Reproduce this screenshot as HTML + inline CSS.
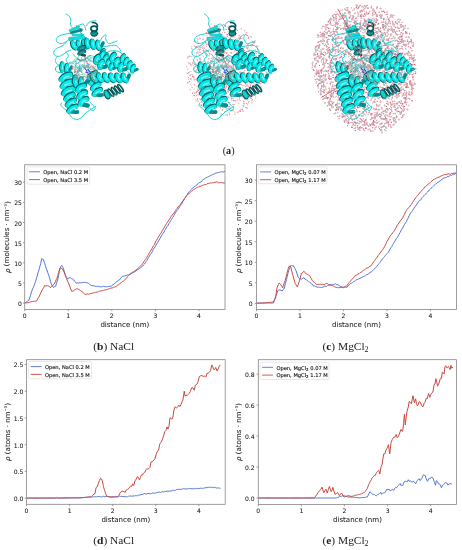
<!DOCTYPE html>
<html><head><meta charset="utf-8"><title>Figure</title><style>
html,body{margin:0;padding:0;background:#fff;width:462px;height:550px;overflow:hidden}
svg{display:block;filter:blur(0.35px)}
.tk{font-family:"DejaVu Sans","Liberation Sans",sans-serif;font-size:6.1px;fill:#111;stroke:#111;stroke-width:0.04px}
.lab{font-family:"DejaVu Sans","Liberation Sans",sans-serif;font-size:7.05px;fill:#1a1a1a;stroke:#1a1a1a;stroke-width:0.05px}
.lg{font-family:"DejaVu Sans","Liberation Sans",sans-serif;font-size:5.15px;fill:#1a1a1a;stroke:#1a1a1a;stroke-width:0.15px}
.cap{font-family:"Liberation Serif","DejaVu Serif",serif;font-size:11.4px;fill:#1c1c1c}
</style></head>
<body><svg width="462" height="550" viewBox="0 0 462 550">
<rect width="462" height="550" fill="#fff"/>
<defs><g id="prot"><path d="M66.10,14.10 C66.50,14.33 67.82,14.85 68.50,15.50 C69.18,16.15 69.80,17.13 70.20,18.00 C70.60,18.87 70.87,19.60 70.90,20.70 C70.93,21.80 70.15,23.38 70.40,24.60 C70.65,25.82 72.07,27.43 72.40,28.00" fill="none" stroke="#18d4d4" stroke-width="1.00" stroke-linecap="round" stroke-linejoin="round"/>
<path d="M78.20,25.60 C78.67,25.38 80.18,24.55 81.00,24.30 C81.82,24.05 82.43,23.72 83.10,24.10 C83.77,24.48 84.55,25.62 85.00,26.60 C85.45,27.58 85.67,29.43 85.80,30.00" fill="none" stroke="#18d4d4" stroke-width="1.00" stroke-linecap="round" stroke-linejoin="round"/>
<path d="M86.50,26.00 C86.88,25.40 87.75,23.23 88.80,22.40 C89.85,21.57 91.60,21.27 92.80,21.00 C94.00,20.73 95.47,20.83 96.00,20.80" fill="none" stroke="#18d4d4" stroke-width="1.00" stroke-linecap="round" stroke-linejoin="round"/>
<path d="M99.50,42.50 C99.88,41.75 100.97,39.22 101.80,38.00 C102.63,36.78 103.77,35.70 104.50,35.20 C105.23,34.70 106.03,34.45 106.20,35.00 C106.37,35.55 105.37,37.42 105.50,38.50 C105.63,39.58 106.42,40.63 107.00,41.50 C107.58,42.37 108.00,43.53 109.00,43.70 C110.00,43.87 111.63,42.95 113.00,42.50 C114.37,42.05 116.50,41.25 117.20,41.00" fill="none" stroke="#18d4d4" stroke-width="1.00" stroke-linecap="round" stroke-linejoin="round"/>
<path d="M102.00,47.00 C103.00,46.83 105.85,46.28 108.00,46.00 C110.15,45.72 113.15,45.05 114.90,45.30 C116.65,45.55 117.48,46.55 118.50,47.50 C119.52,48.45 120.58,50.42 121.00,51.00" fill="none" stroke="#18d4d4" stroke-width="1.00" stroke-linecap="round" stroke-linejoin="round"/>
<path d="M106.00,53.00 C106.67,52.67 108.50,51.37 110.00,51.00 C111.50,50.63 113.33,50.63 115.00,50.80 C116.67,50.97 118.67,51.30 120.00,52.00 C121.33,52.70 122.50,54.50 123.00,55.00" fill="none" stroke="#18d4d4" stroke-width="1.00" stroke-linecap="round" stroke-linejoin="round"/>
<path d="M71.00,33.00 C70.17,33.17 67.83,33.58 66.00,34.00 C64.17,34.42 61.58,34.75 60.00,35.50 C58.42,36.25 57.00,37.42 56.50,38.50 C56.00,39.58 56.25,41.17 57.00,42.00 C57.75,42.83 59.50,43.50 61.00,43.50 C62.50,43.50 64.67,42.67 66.00,42.00 C67.33,41.33 68.50,39.92 69.00,39.50" fill="none" stroke="#18d4d4" stroke-width="1.00" stroke-linecap="round" stroke-linejoin="round"/>
<path d="M67.00,41.00 C66.33,41.75 64.58,44.33 63.00,45.50 C61.42,46.67 59.00,47.08 57.50,48.00 C56.00,48.92 54.50,49.83 54.00,51.00 C53.50,52.17 53.75,54.08 54.50,55.00 C55.25,55.92 57.08,56.58 58.50,56.50 C59.92,56.42 61.58,55.33 63.00,54.50 C64.42,53.67 65.67,52.25 67.00,51.50 C68.33,50.75 70.33,50.25 71.00,50.00" fill="none" stroke="#18d4d4" stroke-width="1.00" stroke-linecap="round" stroke-linejoin="round"/>
<path d="M58.00,56.00 C57.58,56.58 55.75,58.25 55.50,59.50 C55.25,60.75 55.75,62.50 56.50,63.50 C57.25,64.50 59.42,65.17 60.00,65.50" fill="none" stroke="#18d4d4" stroke-width="1.00" stroke-linecap="round" stroke-linejoin="round"/>
<path d="M60.00,65.50 C59.33,65.75 56.67,66.08 56.00,67.00 C55.33,67.92 55.33,70.08 56.00,71.00 C56.67,71.92 58.67,72.58 60.00,72.50 C61.33,72.42 63.00,71.50 64.00,70.50 C65.00,69.50 66.17,67.67 66.00,66.50 C65.83,65.33 63.50,64.00 63.00,63.50" fill="none" stroke="#18d4d4" stroke-width="1.00" stroke-linecap="round" stroke-linejoin="round"/>
<path d="M66.00,52.00 C66.42,52.67 68.50,54.75 68.50,56.00 C68.50,57.25 66.08,58.33 66.00,59.50 C65.92,60.67 67.00,62.50 68.00,63.00 C69.00,63.50 70.83,63.17 72.00,62.50 C73.17,61.83 74.50,59.58 75.00,59.00" fill="none" stroke="#18d4d4" stroke-width="1.00" stroke-linecap="round" stroke-linejoin="round"/>
<path d="M73.00,54.00 C73.67,54.75 75.50,57.42 77.00,58.50 C78.50,59.58 80.50,60.58 82.00,60.50 C83.50,60.42 84.67,58.83 86.00,58.00 C87.33,57.17 88.50,55.75 90.00,55.50 C91.50,55.25 93.50,56.92 95.00,56.50 C96.50,56.08 98.33,53.58 99.00,53.00" fill="none" stroke="#18d4d4" stroke-width="1.00" stroke-linecap="round" stroke-linejoin="round"/>
<path d="M61.50,103.00 C61.38,103.42 60.47,104.67 60.80,105.50 C61.13,106.33 62.47,107.08 63.50,108.00 C64.53,108.92 65.65,109.47 67.00,111.00 C68.35,112.53 70.27,115.83 71.60,117.20 C72.93,118.57 73.92,118.83 75.00,119.20 C76.08,119.57 76.93,119.77 78.10,119.40 C79.27,119.03 80.73,118.08 82.00,117.00 C83.27,115.92 84.37,114.07 85.70,112.90 C87.03,111.73 88.37,111.08 90.00,110.00 C91.63,108.92 94.58,107.00 95.50,106.40" fill="none" stroke="#18d4d4" stroke-width="1.00" stroke-linecap="round" stroke-linejoin="round"/>
<path d="M90.00,102.00 C90.42,102.50 91.60,104.00 92.50,105.00 C93.40,106.00 95.32,107.05 95.40,108.00 C95.48,108.95 93.90,110.62 93.00,110.70 C92.10,110.78 90.50,108.87 90.00,108.50" fill="none" stroke="#18d4d4" stroke-width="1.00" stroke-linecap="round" stroke-linejoin="round"/>
<path d="M84.00,104.00 C84.33,104.50 85.17,106.33 86.00,107.00 C86.83,107.67 88.50,107.83 89.00,108.00" fill="none" stroke="#18d4d4" stroke-width="1.00" stroke-linecap="round" stroke-linejoin="round"/>
<path d="M128.00,72.00 C128.50,72.33 130.00,73.83 131.00,74.00 C132.00,74.17 133.50,73.17 134.00,73.00" fill="none" stroke="#18d4d4" stroke-width="1.00" stroke-linecap="round" stroke-linejoin="round"/>
<g transform="translate(70.50,32.80) rotate(-14.4)"><polygon points="0,-1.20 9.90,-1.20 9.90,-2.40 12.90,0 9.90,2.40 9.90,1.20 0,1.20" fill="#008c8c" stroke="#066c6c" stroke-width="0.4"/></g>
<g transform="translate(69.50,30.90) rotate(-23.6)"><polygon points="0,-1.10 8.24,-1.10 8.24,-2.20 11.24,0 8.24,2.20 8.24,1.10 0,1.10" fill="#00e8e8" stroke="#008c8c" stroke-width="0.4"/></g>
<g transform="translate(68.80,39.00) rotate(-6.2)"><polygon points="0,-1.50 13.80,-1.50 13.80,-3.00 16.80,0 13.80,3.00 13.80,1.50 0,1.50" fill="#00e8e8" stroke="#008c8c" stroke-width="0.4"/></g>
<g transform="translate(72.00,35.00) rotate(-1.9)"><polygon points="0,-0.80 9.01,-0.80 9.01,-1.60 12.01,0 9.01,1.60 9.01,0.80 0,0.80" fill="#00e8e8" stroke="#008c8c" stroke-width="0.4"/></g>
<g transform="translate(72.50,45.50) rotate(-5.2)" fill="none" stroke-linecap="round"><path d="M2.76,2.88 Q4.97,0.36 5.52,-2.88 M8.28,2.88 Q10.49,0.36 11.05,-2.88 M13.81,2.88 Q16.02,0.36 16.57,-2.88 " stroke="#008e8e" stroke-width="3.42"/><path d="M0.00,-2.88 Q-0.28,1.26 2.76,2.88 M5.52,-2.88 Q5.25,1.26 8.28,2.88 M11.05,-2.88 Q10.77,1.26 13.81,2.88 " stroke="#006464" stroke-width="4.75"/><path d="M0.66,-2.88 Q0.55,1.08 3.31,2.88 M6.19,-2.88 Q6.07,1.08 8.84,2.88 M11.71,-2.88 Q11.60,1.08 14.36,2.88 " stroke="#00eaea" stroke-width="3.87"/><path d="M1.38,-1.98 Q1.21,0.18 2.49,1.44 M6.90,-1.98 Q6.74,0.18 8.01,1.44 M12.43,-1.98 Q12.26,0.18 13.53,1.44 " stroke="#9affff" stroke-width="1.21" stroke-opacity="0.8"/></g>
<g transform="translate(86.00,43.00) rotate(10.3)" fill="none" stroke-linecap="round"><path d="M2.80,3.08 Q5.03,0.39 5.59,-3.08 M8.39,3.08 Q10.62,0.39 11.18,-3.08 M13.98,3.08 Q16.21,0.39 16.77,-3.08 " stroke="#008e8e" stroke-width="3.47"/><path d="M0.00,-3.08 Q-0.28,1.35 2.80,3.08 M5.59,-3.08 Q5.31,1.35 8.39,3.08 M11.18,-3.08 Q10.90,1.35 13.98,3.08 " stroke="#006464" stroke-width="4.81"/><path d="M0.67,-3.08 Q0.56,1.16 3.35,3.08 M6.26,-3.08 Q6.15,1.16 8.94,3.08 M11.85,-3.08 Q11.74,1.16 14.53,3.08 " stroke="#00eaea" stroke-width="3.91"/><path d="M1.40,-2.12 Q1.23,0.19 2.52,1.54 M6.99,-2.12 Q6.82,0.19 8.11,1.54 M12.58,-2.12 Q12.41,0.19 13.70,1.54 " stroke="#9affff" stroke-width="1.23" stroke-opacity="0.8"/></g>
<g transform="translate(81.50,47.00) rotate(86.6)" fill="none" stroke-linecap="round"><path d="M2.13,2.72 Q3.83,0.34 4.26,-2.72 M6.39,2.72 Q8.09,0.34 8.51,-2.72 " stroke="#034f4f" stroke-width="2.64"/><path d="M0.00,-2.72 Q-0.21,1.19 2.13,2.72 M4.26,-2.72 Q4.04,1.19 6.39,2.72 " stroke="#023a3a" stroke-width="3.66"/><path d="M0.51,-2.72 Q0.43,1.02 2.55,2.72 M4.77,-2.72 Q4.68,1.02 6.81,2.72 " stroke="#0a8a8a" stroke-width="2.98"/><path d="M1.06,-1.87 Q0.94,0.17 1.92,1.36 M5.32,-1.87 Q5.19,0.17 6.17,1.36 " stroke="#3ccaca" stroke-width="0.94" stroke-opacity="0.8"/></g>
<g transform="translate(102.00,51.50) rotate(54.8)" fill="none" stroke-linecap="round"><path d="M2.60,2.16 Q4.68,0.27 5.20,-2.16 M7.80,2.16 Q9.88,0.27 10.40,-2.16 " stroke="#008e8e" stroke-width="3.23"/><path d="M0.00,-2.16 Q-0.26,0.94 2.60,2.16 M5.20,-2.16 Q4.94,0.94 7.80,2.16 " stroke="#006464" stroke-width="4.47"/><path d="M0.62,-2.16 Q0.52,0.81 3.12,2.16 M5.83,-2.16 Q5.72,0.81 8.32,2.16 " stroke="#00eaea" stroke-width="3.64"/><path d="M1.30,-1.49 Q1.14,0.14 2.34,1.08 M6.50,-1.49 Q6.35,0.14 7.54,1.08 " stroke="#9affff" stroke-width="1.14" stroke-opacity="0.8"/></g>
<g transform="translate(101.50,54.00) rotate(50.2)" fill="none" stroke-linecap="round"><path d="M2.44,2.52 Q4.39,0.32 4.88,-2.52 M7.32,2.52 Q9.27,0.32 9.76,-2.52 M12.20,2.52 Q14.16,0.32 14.64,-2.52 M17.08,2.52 Q19.04,0.32 19.53,-2.52 " stroke="#008e8e" stroke-width="3.03"/><path d="M0.00,-2.52 Q-0.24,1.10 2.44,2.52 M4.88,-2.52 Q4.64,1.10 7.32,2.52 M9.76,-2.52 Q9.52,1.10 12.20,2.52 M14.64,-2.52 Q14.40,1.10 17.08,2.52 " stroke="#006464" stroke-width="4.20"/><path d="M0.59,-2.52 Q0.49,0.94 2.93,2.52 M5.47,-2.52 Q5.37,0.94 7.81,2.52 M10.35,-2.52 Q10.25,0.94 12.69,2.52 M15.23,-2.52 Q15.13,0.94 17.57,2.52 " stroke="#00eaea" stroke-width="3.42"/><path d="M1.22,-1.73 Q1.07,0.16 2.20,1.26 M6.10,-1.73 Q5.96,0.16 7.08,1.26 M10.98,-1.73 Q10.84,0.16 11.96,1.26 M15.86,-1.73 Q15.72,0.16 16.84,1.26 " stroke="#9affff" stroke-width="1.07" stroke-opacity="0.8"/></g>
<g transform="translate(112.00,56.00) rotate(50.4)" fill="none" stroke-linecap="round"><path d="M3.14,2.52 Q5.65,0.32 6.27,-2.52 M9.41,2.52 Q11.92,0.32 12.55,-2.52 M15.68,2.52 Q18.19,0.32 18.82,-2.52 " stroke="#008e8e" stroke-width="3.89"/><path d="M0.00,-2.52 Q-0.31,1.10 3.14,2.52 M6.27,-2.52 Q5.96,1.10 9.41,2.52 M12.55,-2.52 Q12.23,1.10 15.68,2.52 " stroke="#006464" stroke-width="5.40"/><path d="M0.75,-2.52 Q0.63,0.94 3.76,2.52 M7.03,-2.52 Q6.90,0.94 10.04,2.52 M13.30,-2.52 Q13.18,0.94 16.31,2.52 " stroke="#00eaea" stroke-width="4.39"/><path d="M1.57,-1.73 Q1.38,0.16 2.82,1.26 M7.84,-1.73 Q7.65,0.16 9.10,1.26 M14.12,-1.73 Q13.93,0.16 15.37,1.26 " stroke="#9affff" stroke-width="1.38" stroke-opacity="0.8"/></g>
<g transform="translate(122.00,57.00) rotate(46.0)" fill="none" stroke-linecap="round"><path d="M2.43,2.44 Q4.38,0.30 4.86,-2.44 M7.29,2.44 Q9.24,0.30 9.72,-2.44 M12.16,2.44 Q14.10,0.30 14.59,-2.44 M17.02,2.44 Q18.96,0.30 19.45,-2.44 " stroke="#008e8e" stroke-width="3.01"/><path d="M0.00,-2.44 Q-0.24,1.07 2.43,2.44 M4.86,-2.44 Q4.62,1.07 7.29,2.44 M9.72,-2.44 Q9.48,1.07 12.16,2.44 M14.59,-2.44 Q14.34,1.07 17.02,2.44 " stroke="#006464" stroke-width="4.18"/><path d="M0.58,-2.44 Q0.49,0.91 2.92,2.44 M5.45,-2.44 Q5.35,0.91 7.78,2.44 M10.31,-2.44 Q10.21,0.91 12.64,2.44 M15.17,-2.44 Q15.07,0.91 17.50,2.44 " stroke="#00eaea" stroke-width="3.40"/><path d="M1.22,-1.68 Q1.07,0.15 2.19,1.22 M6.08,-1.68 Q5.93,0.15 7.05,1.22 M10.94,-1.68 Q10.79,0.15 11.91,1.22 M15.80,-1.68 Q15.66,0.15 16.77,1.22 " stroke="#9affff" stroke-width="1.07" stroke-opacity="0.8"/></g>
<g transform="translate(96.00,58.00) rotate(51.3)" fill="none" stroke-linecap="round"><path d="M3.20,2.52 Q5.76,0.32 6.40,-2.52 M9.60,2.52 Q12.17,0.32 12.81,-2.52 " stroke="#008e8e" stroke-width="3.97"/><path d="M0.00,-2.52 Q-0.32,1.10 3.20,2.52 M6.40,-2.52 Q6.08,1.10 9.60,2.52 " stroke="#006464" stroke-width="5.51"/><path d="M0.77,-2.52 Q0.64,0.94 3.84,2.52 M7.17,-2.52 Q7.04,0.94 10.24,2.52 " stroke="#00eaea" stroke-width="4.48"/><path d="M1.60,-1.73 Q1.41,0.16 2.88,1.26 M8.00,-1.73 Q7.81,0.16 9.28,1.26 " stroke="#9affff" stroke-width="1.41" stroke-opacity="0.8"/></g>
<g transform="translate(61.00,66.50) rotate(20.2)" fill="none" stroke-linecap="round"><path d="M2.53,3.20 Q4.56,0.40 5.06,-3.20 M7.59,3.20 Q9.62,0.40 10.12,-3.20 " stroke="#008e8e" stroke-width="3.14"/><path d="M0.00,-3.20 Q-0.25,1.40 2.53,3.20 M5.06,-3.20 Q4.81,1.40 7.59,3.20 " stroke="#006464" stroke-width="4.35"/><path d="M0.61,-3.20 Q0.51,1.20 3.04,3.20 M5.67,-3.20 Q5.57,1.20 8.10,3.20 " stroke="#00eaea" stroke-width="3.54"/><path d="M1.27,-2.20 Q1.11,0.20 2.28,1.60 M6.33,-2.20 Q6.18,0.20 7.34,1.60 " stroke="#9affff" stroke-width="1.11" stroke-opacity="0.8"/></g>
<g transform="translate(65.50,75.00) rotate(80.5)" fill="none" stroke-linecap="round"><path d="M3.55,4.60 Q6.39,0.58 7.10,-4.60 M10.64,4.60 Q13.48,0.58 14.19,-4.60 M17.74,4.60 Q20.58,0.58 21.29,-4.60 " stroke="#008e8e" stroke-width="4.40"/><path d="M0.00,-4.60 Q-0.35,2.01 3.55,4.60 M7.10,-4.60 Q6.74,2.01 10.64,4.60 M14.19,-4.60 Q13.84,2.01 17.74,4.60 " stroke="#006464" stroke-width="6.10"/><path d="M0.85,-4.60 Q0.71,1.72 4.26,4.60 M7.95,-4.60 Q7.81,1.72 11.35,4.60 M15.04,-4.60 Q14.90,1.72 18.45,4.60 " stroke="#00eaea" stroke-width="4.97"/><path d="M1.77,-3.16 Q1.56,0.29 3.19,2.30 M8.87,-3.16 Q8.66,0.29 10.29,2.30 M15.97,-3.16 Q15.75,0.29 17.39,2.30 " stroke="#9affff" stroke-width="1.56" stroke-opacity="0.8"/></g>
<g transform="translate(69.00,95.00) rotate(76.0)" fill="none" stroke-linecap="round"><path d="M3.09,4.00 Q5.57,0.50 6.18,-4.00 M9.28,4.00 Q11.75,0.50 12.37,-4.00 M15.46,4.00 Q17.94,0.50 18.55,-4.00 " stroke="#008e8e" stroke-width="3.83"/><path d="M0.00,-4.00 Q-0.31,1.75 3.09,4.00 M6.18,-4.00 Q5.88,1.75 9.28,4.00 M12.37,-4.00 Q12.06,1.75 15.46,4.00 " stroke="#006464" stroke-width="5.32"/><path d="M0.74,-4.00 Q0.62,1.50 3.71,4.00 M6.93,-4.00 Q6.80,1.50 9.90,4.00 M13.11,-4.00 Q12.99,1.50 16.08,4.00 " stroke="#00eaea" stroke-width="4.33"/><path d="M1.55,-2.75 Q1.36,0.25 2.78,2.00 M7.73,-2.75 Q7.55,0.25 8.97,2.00 M13.92,-2.75 Q13.73,0.25 15.15,2.00 " stroke="#9affff" stroke-width="1.36" stroke-opacity="0.8"/></g>
<g transform="translate(74.00,80.50) rotate(18.4)" fill="none" stroke-linecap="round"><path d="M3.16,3.60 Q5.69,0.45 6.32,-3.60 M9.49,3.60 Q12.02,0.45 12.65,-3.60 " stroke="#008e8e" stroke-width="3.92"/><path d="M0.00,-3.60 Q-0.32,1.57 3.16,3.60 M6.32,-3.60 Q6.01,1.57 9.49,3.60 " stroke="#006464" stroke-width="5.44"/><path d="M0.76,-3.60 Q0.63,1.35 3.79,3.60 M7.08,-3.60 Q6.96,1.35 10.12,3.60 " stroke="#00eaea" stroke-width="4.43"/><path d="M1.58,-2.48 Q1.39,0.23 2.85,1.80 M7.91,-2.48 Q7.72,0.23 9.17,1.80 " stroke="#9affff" stroke-width="1.39" stroke-opacity="0.8"/></g>
<g transform="translate(80.50,86.00) rotate(78.7)" fill="none" stroke-linecap="round"><path d="M3.40,3.40 Q6.12,0.43 6.80,-3.40 M10.20,3.40 Q12.92,0.43 13.60,-3.40 M17.00,3.40 Q19.72,0.43 20.40,-3.40 " stroke="#008e8e" stroke-width="4.22"/><path d="M0.00,-3.40 Q-0.34,1.49 3.40,3.40 M6.80,-3.40 Q6.46,1.49 10.20,3.40 M13.60,-3.40 Q13.26,1.49 17.00,3.40 " stroke="#006464" stroke-width="5.85"/><path d="M0.82,-3.40 Q0.68,1.27 4.08,3.40 M7.61,-3.40 Q7.48,1.27 10.88,3.40 M14.41,-3.40 Q14.28,1.27 17.68,3.40 " stroke="#00eaea" stroke-width="4.76"/><path d="M1.70,-2.34 Q1.50,0.21 3.06,1.70 M8.50,-2.34 Q8.29,0.21 9.86,1.70 M15.30,-2.34 Q15.09,0.21 16.66,1.70 " stroke="#9affff" stroke-width="1.50" stroke-opacity="0.8"/></g>
<g transform="translate(92.00,73.50) rotate(73.9)" fill="none" stroke-linecap="round"><path d="M2.93,3.80 Q5.27,0.48 5.86,-3.80 M8.78,3.80 Q11.12,0.48 11.71,-3.80 M14.64,3.80 Q16.98,0.48 17.57,-3.80 M20.49,3.80 Q22.83,0.48 23.42,-3.80 " stroke="#008e8e" stroke-width="3.63"/><path d="M0.00,-3.80 Q-0.29,1.66 2.93,3.80 M5.86,-3.80 Q5.56,1.66 8.78,3.80 M11.71,-3.80 Q11.42,1.66 14.64,3.80 M17.57,-3.80 Q17.27,1.66 20.49,3.80 " stroke="#006464" stroke-width="5.04"/><path d="M0.70,-3.80 Q0.59,1.43 3.51,3.80 M6.56,-3.80 Q6.44,1.43 9.37,3.80 M12.41,-3.80 Q12.30,1.43 15.22,3.80 M18.27,-3.80 Q18.15,1.43 21.08,3.80 " stroke="#00eaea" stroke-width="4.10"/><path d="M1.46,-2.61 Q1.29,0.24 2.63,1.90 M7.32,-2.61 Q7.14,0.24 8.49,1.90 M13.17,-2.61 Q13.00,0.24 14.34,1.90 M19.03,-2.61 Q18.85,0.24 20.20,1.90 " stroke="#9affff" stroke-width="1.29" stroke-opacity="0.8"/></g>
<g transform="translate(92.00,77.50) rotate(0.8)" fill="none" stroke-linecap="round"><path d="M3.08,2.68 Q5.55,0.34 6.17,-2.68 M9.25,2.68 Q11.72,0.34 12.33,-2.68 M15.42,2.68 Q17.88,0.34 18.50,-2.68 M21.59,2.68 Q24.05,0.34 24.67,-2.68 M27.75,2.68 Q30.22,0.34 30.84,-2.68 M33.92,2.68 Q36.39,0.34 37.00,-2.68 " stroke="#008e8e" stroke-width="3.82"/><path d="M0.00,-2.68 Q-0.31,1.17 3.08,2.68 M6.17,-2.68 Q5.86,1.17 9.25,2.68 M12.33,-2.68 Q12.03,1.17 15.42,2.68 M18.50,-2.68 Q18.19,1.17 21.59,2.68 M24.67,-2.68 Q24.36,1.17 27.75,2.68 M30.84,-2.68 Q30.53,1.17 33.92,2.68 " stroke="#006464" stroke-width="5.30"/><path d="M0.74,-2.68 Q0.62,1.00 3.70,2.68 M6.91,-2.68 Q6.78,1.00 9.87,2.68 M13.07,-2.68 Q12.95,1.00 16.03,2.68 M19.24,-2.68 Q19.12,1.00 22.20,2.68 M25.41,-2.68 Q25.29,1.00 28.37,2.68 M31.58,-2.68 Q31.45,1.00 34.54,2.68 " stroke="#00eaea" stroke-width="4.32"/><path d="M1.54,-1.84 Q1.36,0.17 2.78,1.34 M7.71,-1.84 Q7.52,0.17 8.94,1.34 M13.88,-1.84 Q13.69,0.17 15.11,1.34 M20.04,-1.84 Q19.86,0.17 21.28,1.34 M26.21,-1.84 Q26.03,0.17 27.44,1.34 M32.38,-1.84 Q32.19,0.17 33.61,1.34 " stroke="#9affff" stroke-width="1.36" stroke-opacity="0.8"/></g>
<g transform="translate(107.60,94.20) rotate(-24.8)"><ellipse cx="-0.6" cy="0" rx="2.6" ry="4.60" fill="#0fd0d0" stroke="#045a5a" stroke-width="1.1"/><ellipse cx="3.58" cy="0" rx="1.29" ry="4.30" transform="rotate(-12 3.58 0)" fill="none" stroke="#045858" stroke-width="1.6"/><ellipse cx="7.16" cy="0" rx="1.29" ry="4.30" transform="rotate(-12 7.16 0)" fill="none" stroke="#045858" stroke-width="1.6"/><ellipse cx="10.74" cy="0" rx="1.29" ry="4.30" transform="rotate(-12 10.74 0)" fill="none" stroke="#045858" stroke-width="1.6"/><ellipse cx="14.32" cy="0" rx="1.29" ry="4.30" transform="rotate(-12 14.32 0)" fill="none" stroke="#045858" stroke-width="1.6"/><path d="M0.50,3.80 L13.32,3.80" stroke="#12bcbc" stroke-width="0.8" opacity="0.8"/></g>
<g fill="none" stroke-linecap="round"><ellipse cx="94.2" cy="33.4" rx="3.5" ry="2.9" fill="#0a7c7c" stroke="#034848" stroke-width="0.9"/><path d="M91.6,33.6 Q94,35.6 96.6,33.2" stroke="#1fb8b8" stroke-width="0.9"/><ellipse cx="94.1" cy="28.6" rx="3.2" ry="2.5" fill="#ffffff" stroke="#045a5a" stroke-width="1.7"/><path d="M92.3,22.6 Q96.8,22.4 97.6,26.2" stroke="#034f4f" stroke-width="1.5"/></g>
<g fill="none" stroke-linecap="round" stroke-linejoin="round" stroke-width="0.6"><path d="M75.6,72.6 l-1.24,-1.40 l0.51,-1.80" stroke="#149a9a"/><path d="M98.7,67.4 l1.42,-0.33 l1.05,1.01" stroke="#149a9a"/><path d="M97.1,66.3 l1.38,1.78 l-0.75,2.12" stroke="#149a9a"/><path d="M90.4,66.5 l2.28,-0.07 l1.29,1.88" stroke="#d04848"/><path d="M80.2,67.9 l1.89,1.68 l-0.40,2.50" stroke="#22c0c0"/><path d="M91.4,65.6 l1.24,1.73 l-0.79,1.98" stroke="#b8c4c4"/><path d="M95.2,61.6 l0.28,-1.47 l1.39,-0.55" stroke="#22c8c8"/><path d="M74.4,67.4 l0.69,-1.31 l1.48,-0.13" stroke="#2fd6d6"/><path d="M95.9,65.8 l-1.21,1.37 l-1.81,-0.28" stroke="#d04848"/><path d="M79.9,67.6 l-0.23,2.36 l-2.11,1.08" stroke="#2fd6d6"/><path d="M84.9,67.8 l-2.14,-0.70 l-0.56,-2.18" stroke="#149a9a"/><path d="M87.0,63.6 l1.35,-0.17 l0.87,1.04" stroke="#2fd6d6"/><path d="M88.5,76.0 l-1.12,1.97 l-2.26,0.12" stroke="#7fb0b0"/><path d="M77.9,60.0 l1.28,-0.67 l1.25,0.71" stroke="#d04848"/><path d="M81.5,72.4 l-1.10,-2.20 l1.25,-2.12" stroke="#149a9a"/><path d="M82.4,79.7 l1.97,-0.49 l1.47,1.39" stroke="#22c0c0"/><path d="M84.7,65.0 l0.04,2.43 l-2.02,1.35" stroke="#2fd6d6"/><path d="M86.7,66.5 l-1.87,1.23 l-2.04,-0.91" stroke="#1aa8a8"/><path d="M78.2,63.0 l-1.26,0.70 l-1.27,-0.68" stroke="#22c8c8"/><path d="M95.4,71.5 l0.86,1.12 l-0.48,1.33" stroke="#b8c4c4"/><path d="M89.2,77.9 l-2.51,0.33 l-1.64,-1.93" stroke="#22c0c0"/><path d="M93.3,77.2 l-1.44,-1.07 l0.12,-1.79" stroke="#b8c4c4"/><path d="M79.6,68.8 l-0.37,2.25 l-2.09,0.90" stroke="#1aa8a8"/><path d="M81.7,59.0 l-0.34,-1.53 l1.11,-1.11" stroke="#22c0c0"/><path d="M89.0,76.4 l-1.35,-0.79 l-0.06,-1.56" stroke="#d04848"/><path d="M92.0,75.5 l0.90,1.07 l-0.41,1.34" stroke="#d04848"/><path d="M83.5,59.4 l1.42,-1.57 l2.09,0.35" stroke="#2fd6d6"/><path d="M79.5,78.6 l-1.94,1.48 l-2.30,-0.83" stroke="#2fd6d6"/><path d="M76.1,76.6 l0.67,2.14 l-1.44,1.72" stroke="#1aa8a8"/><path d="M87.9,68.1 l-0.04,-1.28 l1.06,-0.72" stroke="#1aa8a8"/><path d="M81.9,76.7 l-1.60,1.19 l-1.87,-0.70" stroke="#149a9a"/><path d="M78.1,72.7 l-0.49,1.16 l-1.24,0.21" stroke="#d04848"/><path d="M75.4,73.4 l2.34,-0.14 l1.38,1.89" stroke="#b8c4c4"/><path d="M87.8,68.2 l-0.25,-2.54 l2.01,-1.58" stroke="#7fb0b0"/><path d="M79.2,71.0 l0.07,-1.46 l1.27,-0.73" stroke="#22c0c0"/><path d="M92.3,66.8 l-0.89,-0.85 l0.23,-1.21" stroke="#b8c4c4"/><path d="M84.2,68.3 l0.92,-0.91 l1.27,0.28" stroke="#1aa8a8"/><path d="M72.4,66.4 l0.04,2.19 l-1.82,1.21" stroke="#d04848"/><path d="M91.3,66.9 l0.15,1.73 l-1.38,1.06" stroke="#b8c4c4"/><path d="M77.4,78.0 l-0.71,-1.03 l0.49,-1.15" stroke="#2fd6d6"/><path d="M84.8,73.2 l1.77,-1.46 l2.18,0.70" stroke="#7fb0b0"/><path d="M77.9,78.0 l-1.55,1.35 l-1.98,-0.58" stroke="#1aa8a8"/><path d="M75.5,60.8 l1.56,-1.55 l2.15,0.48" stroke="#22c8c8"/><path d="M86.5,57.9 l-0.82,2.38 l-2.45,0.60" stroke="#b8c4c4"/><path d="M75.7,66.4 l-0.75,-1.55 l0.90,-1.47" stroke="#149a9a"/><path d="M80.0,62.1 l0.80,-1.17 l1.41,0.04" stroke="#149a9a"/><path d="M77.7,72.5 l-0.30,-1.39 l1.01,-1.00" stroke="#d04848"/><path d="M84.1,66.5 l-1.18,-1.07 l0.26,-1.57" stroke="#2fd6d6"/><path d="M89.7,70.9 l2.09,1.49 l-0.13,2.56" stroke="#149a9a"/><path d="M97.2,72.9 l1.89,0.23 l0.83,1.71" stroke="#1aa8a8"/><path d="M82.1,66.6 l-2.46,0.81 l-2.01,-1.63" stroke="#2fd6d6"/><path d="M73.6,63.4 l-2.35,0.70 l-1.86,-1.60" stroke="#22c0c0"/><path d="M75.7,69.7 l1.54,-0.95 l1.63,0.78" stroke="#1aa8a8"/><path d="M79.6,66.0 l1.14,-1.04 l1.49,0.40" stroke="#b8c4c4"/><path d="M87.3,57.9 l1.81,-1.32 l2.09,0.81" stroke="#149a9a"/><path d="M75.3,67.9 l-1.92,-0.32 l-0.77,-1.79" stroke="#b8c4c4"/><path d="M84.2,75.2 l-0.83,1.34 l-1.58,0.03" stroke="#22c0c0"/><path d="M79.1,71.4 l2.33,0.14 l1.14,2.03" stroke="#22c8c8"/><path d="M94.2,64.6 l-0.86,1.14 l-1.42,-0.10" stroke="#b8c4c4"/><path d="M78.7,74.9 l-1.01,0.74 l-1.16,-0.45" stroke="#149a9a"/><path d="M97.1,68.9 l-1.82,1.18 l-1.97,-0.89" stroke="#d04848"/><path d="M80.9,68.8 l-1.00,-1.04 l0.34,-1.40" stroke="#22c0c0"/><path d="M84.8,59.9 l1.38,-1.88 l2.32,0.15" stroke="#7fb0b0"/><path d="M90.0,61.2 l0.43,-2.43 l2.27,-0.95" stroke="#22c8c8"/><path d="M98.2,65.4 l2.35,-0.90 l2.02,1.49" stroke="#22c0c0"/><path d="M88.2,70.6 l0.08,-2.10 l1.81,-1.07" stroke="#2fd6d6"/><path d="M85.0,65.9 l0.28,1.90 l-1.44,1.27" stroke="#7fb0b0"/><path d="M92.7,73.8 l1.26,-1.15 l1.65,0.44" stroke="#22c8c8"/><path d="M77.7,70.4 l-1.28,1.72 l-2.14,-0.15" stroke="#22c0c0"/><path d="M87.0,79.9 l2.16,-1.34 l2.29,1.09" stroke="#1aa8a8"/><path d="M91.8,61.1 l-1.68,-0.35 l-0.62,-1.60" stroke="#7fb0b0"/><path d="M74.4,61.8 l-1.86,0.96 l-1.82,-1.05" stroke="#b8c4c4"/><path d="M92.0,71.6 l-0.03,1.80 l-1.53,0.95" stroke="#d04848"/><path d="M77.2,67.5 l2.32,0.60 l0.75,2.28" stroke="#149a9a"/><path d="M87.4,75.3 l-0.19,-2.22 l1.76,-1.35" stroke="#2fd6d6"/><path d="M81.6,65.4 l2.13,0.05 l1.11,1.82" stroke="#7fb0b0"/><path d="M76.5,61.5 l-0.23,-2.33 l1.83,-1.45" stroke="#b8c4c4"/><path d="M80.3,64.5 l-1.69,-0.70 l-0.32,-1.80" stroke="#22c8c8"/><path d="M95.2,74.0 l-1.10,1.10 l-1.52,-0.33" stroke="#b8c4c4"/><path d="M76.6,76.3 l1.01,-0.83 l1.24,0.40" stroke="#7fb0b0"/><path d="M78.0,59.1 l0.03,-2.51 l2.13,-1.33" stroke="#22c8c8"/><path d="M90.1,63.1 l0.30,1.46 l-1.07,1.04" stroke="#b8c4c4"/><path d="M92.6,67.9 l2.41,0.49 l0.89,2.30" stroke="#22c0c0"/><path d="M78.9,62.3 l0.58,-1.14 l1.28,-0.13" stroke="#1aa8a8"/><path d="M90.7,67.7 l-1.91,-0.46 l-0.65,-1.86" stroke="#d04848"/><path d="M88.8,71.3 l-1.12,1.26 l-1.66,-0.26" stroke="#b8c4c4"/><path d="M88.8,67.0 l-1.51,-0.13 l-0.70,-1.34" stroke="#149a9a"/><path d="M71.6,71.4 l-1.45,0.42 l-1.14,-0.99" stroke="#22c8c8"/><path d="M80.7,59.7 l1.57,0.13 l0.74,1.40" stroke="#22c0c0"/><path d="M83.8,60.8 l1.42,0.09 l0.69,1.24" stroke="#2fd6d6"/><path d="M86.0,58.8 l-1.88,1.27 l-2.08,-0.89" stroke="#149a9a"/><path d="M90.6,61.0 l2.28,0.26 l1.01,2.06" stroke="#149a9a"/><path d="M87.8,58.3 l0.58,1.92 l-1.31,1.52" stroke="#1aa8a8"/><path d="M82.2,79.0 l0.75,-2.03 l2.11,-0.46" stroke="#d04848"/><path d="M72.0,68.0 l1.77,-1.44 l2.17,0.71" stroke="#b8c4c4"/><path d="M92.7,73.3 l-1.40,-0.27 l-0.53,-1.33" stroke="#22c0c0"/><path d="M81.4,67.8 l-0.22,2.47 l-2.20,1.15" stroke="#7fb0b0"/><path d="M73.5,63.8 l0.60,-2.17 l2.15,-0.67" stroke="#2fd6d6"/><path d="M79.7,65.4 l-0.26,2.13 l-1.94,0.93" stroke="#149a9a"/><path d="M94.2,68.3 l2.01,1.59 l-0.25,2.55" stroke="#149a9a"/><path d="M86.6,64.7 l0.60,1.79 l-1.18,1.48" stroke="#7fb0b0"/><path d="M88.0,66.4 l0.16,-1.22 l1.11,-0.53" stroke="#149a9a"/><path d="M75.6,61.2 l1.29,2.20 l-1.15,2.27" stroke="#1aa8a8"/><path d="M89.7,61.5 l-1.07,-1.48 l0.67,-1.70" stroke="#22c0c0"/><path d="M85.8,65.0 l-0.38,2.00 l-1.89,0.76" stroke="#2fd6d6"/><path d="M90.4,67.5 l-1.16,2.16 l-2.44,0.19" stroke="#2fd6d6"/><path d="M79.1,74.0 l-0.74,-2.10 l1.37,-1.76" stroke="#22c8c8"/><path d="M95.6,61.9 l1.66,-0.03 l0.92,1.38" stroke="#d04848"/><path d="M94.0,74.8 l-0.22,-1.22 l0.91,-0.84" stroke="#7fb0b0"/><path d="M77.5,58.9 l1.48,0.23 l0.61,1.37" stroke="#d04848"/><path d="M98.4,68.0 l-0.57,-1.83 l1.23,-1.47" stroke="#2fd6d6"/></g>
<g fill="none" stroke-linecap="round" stroke-linejoin="round" stroke-width="0.7">
<path d="M72,70 L76,67 L80,68 L84,66 L88,67 L91,70 L95,68 M76,67 L75,72 L79,75 L84,74 L88,76 L91,74 M80,68 L81,72 M84,66 L85,62 L82,60 M88,67 L89,64 M79,75 L80,77.5" stroke="#8fb3b3"/>
<path d="M85,68.5 L87,71 M88,69.5 L89.5,71.5 M86,72 L88,73" stroke="#3344dd" stroke-width="1.1"/>
<path d="M81.4,48.7 L87.9,64.9" stroke="#cc3333" stroke-width="0.6"/>
<path d="M74.5,77 L78,78.5 M90.7,78 L95,80.5 M74,73 L76,71" stroke="#d04040" stroke-width="0.7"/>
</g></g></defs>
<use href="#prot"/>
<g transform="translate(138.2,0)"><g stroke-width="0.75" stroke-linecap="round" fill="none"><path d="M71.7 32.3l-0.7 0.5M99.1 61.4l-0.2 0.9M103.2 53.0l0.4 0.4M91.9 33.9l0.5 0.2M119.0 67.2l-0.6 0.0M62.9 91.3l0.7 0.3M78.1 30.8l0.6 0.5M101.6 59.7l0.0 0.4M106.4 30.4l0.2 0.5M87.0 25.3l-0.3 0.5M84.2 83.9l0.7 0.5M68.4 90.1l0.7 0.0M82.4 74.6l-0.5 0.5M90.4 88.8l0.6 0.5M75.7 43.3l0.3 0.7M123.4 76.3l-0.8 0.0M93.7 82.2l0.2 0.8M103.1 28.6l0.1 0.5M87.2 84.1l0.7 0.5M74.4 69.5l0.8 0.4M53.0 74.3l-0.4 0.3M86.5 73.4l-0.5 0.6M122.7 82.9l-0.1 0.8M119.2 93.3l0.7 0.0M58.2 92.2l-0.3 0.7M54.5 92.9l-0.1 0.7M72.7 61.3l-0.2 1.0M103.5 67.7l0.3 0.4M94.2 32.3l0.4 0.3M107.1 57.4l0.7 0.4M97.9 94.2l0.6 0.3M58.3 46.5l-0.4 0.1M104.3 96.5l0.2 0.7M73.8 71.9l0.1 0.4M106.6 52.0l-0.1 0.4M65.3 92.7l-0.2 0.9M79.0 56.8l-0.1 0.4M116.5 42.6l-0.7 0.3M124.7 64.5l-0.1 0.7M108.6 107.7l0.4 0.6M106.1 72.9l-0.3 0.8M80.0 57.5l0.8 0.6M59.0 60.1l0.4 0.5M84.1 60.1l-0.6 0.3M104.8 95.5l0.5 0.2M65.6 50.9l0.2 0.5M98.1 59.4l0.4 0.8M101.3 49.1l0.0 0.7M117.0 87.6l-0.4 0.3M76.3 89.0l-0.8 0.2M75.8 73.5l-0.5 0.4M90.6 97.6l0.5 0.2M85.8 62.1l-0.5 0.4M79.1 97.9l-0.7 0.4M75.6 49.7l-0.6 0.2M77.1 40.8l0.6 0.0M121.9 53.6l0.5 0.3M112.7 97.4l-0.0 1.0M74.7 71.6l0.2 0.5M115.5 42.0l0.5 0.6M56.4 64.5l-0.7 0.6M110.4 102.7l-0.5 0.5M110.1 38.0l0.2 0.4M65.1 50.5l0.2 0.7M93.6 84.6l0.5 0.6M94.0 88.2l-0.9 0.0M72.7 85.7l-0.3 0.9M112.6 83.8l-0.6 0.8M49.9 56.3l-0.1 0.7M108.5 32.7l-0.7 0.0M93.9 39.7l0.5 0.2M89.2 74.4l0.2 0.5M76.0 111.5l-0.0 0.7M64.4 94.2l0.5 0.1M105.5 62.5l-0.5 0.8M101.5 36.9l-0.6 0.6M101.9 84.1l0.9 0.3M86.5 87.4l0.3 0.8M90.9 102.7l-0.4 0.4M67.9 46.4l0.7 0.6M78.4 99.6l-0.1 0.5M119.7 73.9l0.2 0.8M89.1 56.6l0.0 0.5M101.7 71.8l-0.2 0.8M113.0 61.5l0.3 0.5M51.5 75.3l0.7 0.3M118.7 75.7l-0.4 0.1M76.7 90.9l-0.5 0.1M100.8 41.1l-0.8 0.1M56.7 92.6l-0.6 0.5M57.2 67.8l-0.3 0.3M120.7 83.3l0.8 0.2M101.5 110.7l0.5 0.8M70.7 111.6l-0.4 0.9M74.0 49.7l-0.0 0.7M80.3 61.4l0.5 0.5M87.0 111.2l-0.2 0.6M109.4 77.8l-0.5 0.1M63.1 47.2l-0.7 0.2M93.0 92.0l-0.5 0.2M119.0 82.6l0.5 0.0M85.4 29.4l0.0 0.8M70.2 51.2l0.3 0.7M91.4 27.6l0.4 0.5M89.5 34.4l-0.8 0.4M68.5 98.9l-0.6 0.7M74.8 90.8l-0.5 0.7M118.3 92.3l0.3 0.4M59.3 89.6l0.5 0.3M109.7 61.7l0.3 0.8M77.9 89.1l0.3 0.8M68.6 51.3l0.7 0.7M90.5 41.9l-0.3 0.5M101.3 74.4l-0.6 0.3M70.4 95.2l-0.3 0.6M87.8 29.4l0.7 0.3M98.7 52.6l0.3 0.9M59.1 38.9l0.9 0.3M92.2 38.2l0.3 0.4M84.7 106.9l-0.4 0.3M86.6 52.2l0.2 0.8M80.7 38.5l0.1 0.5M110.4 86.2l-0.6 0.3M71.3 53.2l0.3 0.5M107.1 83.4l0.1 0.9M106.1 103.3l-0.9 0.1M98.4 57.6l0.2 0.9M102.4 38.2l-0.1 0.7M86.1 32.2l0.9 0.3M74.2 69.2l0.2 0.5M60.3 45.9l-0.6 0.4M76.1 64.8l-0.0 0.4M105.2 104.9l-0.4 0.4M57.7 65.0l0.5 0.6M114.2 99.5l-0.1 0.4M114.7 42.3l0.4 0.6M61.5 52.2l0.4 0.2M52.6 64.5l-0.7 0.4M51.1 72.4l-0.8 0.2M75.3 95.0l0.2 0.5M90.2 28.7l0.4 0.9M61.3 86.8l1.0 0.0M112.7 98.1l0.5 0.4M75.1 32.8l-0.3 0.3M105.2 95.0l-0.1 0.5M110.8 51.2l-0.8 0.3M100.9 75.3l-0.1 0.5M92.9 52.7l0.9 0.3" stroke="#d06a7a"/><path d="M94.4 60.4l0.1 0.8M96.6 100.5l0.4 0.1M94.8 95.6l0.4 0.6M73.9 112.7l-0.3 0.3M124.0 78.5l-0.4 0.0M78.8 102.6l-0.2 0.4M67.5 41.5l-0.7 0.7M91.6 102.4l-0.2 0.5M83.3 57.8l1.0 0.1M63.5 63.6l-0.8 0.5M92.5 52.4l-0.3 0.3M79.6 41.5l-0.4 0.4M89.8 82.9l0.2 0.4M58.1 95.7l0.5 0.0M97.8 72.7l-0.7 0.3M95.0 105.9l0.7 0.5M57.0 70.5l-0.5 0.5M88.2 76.3l0.5 0.2M56.4 45.8l0.1 0.7M90.9 85.5l-0.6 0.1M102.5 41.5l0.3 0.4M65.4 49.6l-0.7 0.7M90.9 82.1l0.3 0.6M69.3 33.7l0.2 0.3M107.6 60.3l0.5 0.9M72.1 34.6l-0.4 0.8M59.8 94.9l0.9 0.0M114.8 101.7l-0.6 0.7M82.9 59.2l0.7 0.2M118.4 74.4l0.3 0.6M92.8 42.2l-1.0 0.2M92.3 26.5l-0.4 0.8M68.8 105.2l0.1 0.8M61.1 92.6l-0.6 0.2M57.6 99.9l0.6 0.7M83.4 61.1l-0.7 0.6M116.0 57.9l-0.1 0.7M63.2 101.1l0.3 0.6M97.6 88.2l-0.1 0.7M80.4 39.6l-0.4 0.2M77.1 84.9l-0.7 0.3M89.9 63.0l-0.1 0.5M67.2 49.7l-0.1 0.5M95.4 45.7l0.2 0.8M50.8 78.9l-0.5 0.6M82.5 48.2l-0.4 0.3M92.4 74.0l-0.4 0.3M92.3 107.9l-0.9 0.3M64.8 56.0l0.6 0.4M82.9 115.4l-0.5 0.8M120.0 89.8l0.4 0.5M100.2 51.8l-0.2 0.7M73.2 58.3l0.5 0.7M116.6 59.1l-0.4 0.1M59.7 41.7l0.6 0.5M117.1 52.8l-0.5 0.6M80.4 57.8l-0.4 0.6M76.7 86.8l0.8 0.5M113.7 100.2l-0.1 0.6M80.7 82.1l0.3 0.9M79.8 37.1l-0.2 0.8M91.4 106.5l-0.6 0.2M92.1 37.2l-0.2 0.5M64.8 80.7l-0.5 0.3M125.6 64.8l-0.7 0.4M68.6 43.7l0.4 0.2M90.6 86.6l0.4 0.2M79.5 53.6l-0.1 1.0M59.6 82.4l0.3 0.7M82.9 78.6l-0.3 0.9M89.9 54.2l0.5 0.6M56.7 41.2l-0.8 0.2M114.2 80.8l-0.4 0.1M99.3 43.2l0.7 0.5M95.6 56.9l0.8 0.6M105.4 57.1l0.4 0.5M75.5 46.6l-0.2 0.7M111.2 70.3l0.7 0.3M73.6 69.0l-0.4 0.8M79.4 50.3l-0.2 0.4M74.5 90.0l-0.3 0.8M102.5 76.3l-0.1 0.6M82.8 113.3l0.3 0.5M92.1 35.0l-0.6 0.0M118.1 53.1l0.7 0.4M87.8 92.0l0.3 0.3M90.1 31.2l-0.4 0.4M122.4 63.1l0.4 0.2M107.5 60.8l0.5 0.1M110.3 69.9l-0.3 0.6M91.8 87.3l0.6 0.6M60.7 70.8l-0.6 0.0M84.1 32.3l0.0 0.7M75.5 29.4l0.9 0.2M70.7 101.4l-0.0 0.6M98.4 87.4l0.1 0.6M101.4 97.4l-0.5 0.7M102.2 93.7l-0.8 0.0M110.1 45.0l-0.4 0.8M89.2 41.4l-0.3 0.3M86.9 96.2l0.6 0.6M101.1 80.6l0.8 0.1M99.7 50.6l-0.5 0.4M75.5 93.8l0.6 0.1M59.6 52.6l-0.9 0.4M64.5 88.7l-0.4 0.5M103.1 43.9l-0.9 0.3M76.3 48.4l0.1 0.7M87.1 44.8l-0.2 0.8M94.2 77.6l0.6 0.4M74.0 112.1l-0.1 0.5M91.9 59.2l-0.5 0.3M119.6 86.1l0.5 0.1M62.8 67.0l-0.7 0.4M107.4 90.5l0.9 0.1M78.3 67.6l0.8 0.1M104.4 95.9l-0.1 0.8M57.8 79.1l-0.4 0.5M82.4 102.4l0.1 0.9M107.2 55.0l0.2 0.8M86.7 83.3l0.3 0.6M91.5 32.9l0.6 0.2M92.4 96.6l-0.4 0.2M84.1 47.7l-0.2 0.4M94.5 76.2l-0.1 0.7M61.9 93.6l-0.8 0.5M119.0 67.6l0.6 0.2M77.8 40.2l0.4 0.1M119.8 79.3l-1.0 0.1M71.6 64.7l-0.7 0.4M106.6 70.3l-0.7 0.5M89.9 75.4l-0.7 0.3M77.3 111.3l0.6 0.4M62.2 59.4l-0.0 0.7M102.9 84.4l0.5 0.6M105.0 101.4l0.5 0.1M122.5 79.4l-0.5 0.7M103.8 38.4l-1.0 0.0M124.9 78.6l-0.8 0.4M58.4 52.6l0.2 0.6M106.3 101.3l-0.9 0.0M55.0 77.5l0.4 0.1M65.5 90.4l-0.2 0.9M96.5 111.9l0.3 0.4M95.5 104.4l0.8 0.1M114.5 44.7l0.2 0.5M82.4 98.3l0.6 0.7M89.9 89.8l-0.8 0.1M95.3 67.8l0.7 0.3M71.7 37.2l0.0 0.4M93.6 83.5l-0.2 0.4M91.6 61.6l-0.5 0.1M106.0 98.6l0.6 0.5M62.8 105.4l0.8 0.0" stroke="#d98a96"/><path d="M92.2 42.3l-0.3 0.5M64.6 47.8l-0.5 0.4M112.9 36.5l0.3 0.7M103.0 47.6l-0.6 0.4M61.7 57.9l-0.1 0.5M93.6 36.9l0.4 0.0M49.7 82.5l0.0 0.8M84.1 73.8l-0.0 0.7M108.8 84.7l0.0 0.9M71.5 86.4l0.4 0.3M99.5 64.7l-0.6 0.2M75.4 106.4l0.4 0.1M73.0 100.2l0.5 0.6M90.9 84.0l-0.0 0.9M88.9 34.0l0.1 0.4M66.1 92.2l-0.8 0.5M55.5 76.4l0.4 0.8M119.9 79.6l0.8 0.3M92.4 41.6l-0.2 0.6M107.7 61.3l-0.3 0.3M80.8 72.5l-0.2 0.6M85.7 48.8l-0.8 0.2M118.0 92.8l1.0 0.2M54.5 75.9l0.0 0.8M104.5 87.8l0.3 0.4M80.9 89.5l0.0 0.9M101.4 53.5l0.2 0.7M103.9 78.7l0.4 0.3M85.4 48.0l-0.9 0.3M110.5 59.4l-0.1 0.7M64.3 74.0l-0.0 0.5M70.7 58.6l-0.1 0.6M105.1 54.3l-0.7 0.1M73.9 61.9l0.6 0.0M99.5 80.0l0.6 0.0M71.9 64.6l-0.1 0.5M67.1 77.0l-0.3 0.5M118.5 74.0l-0.1 0.7M71.1 80.7l0.1 0.6M62.9 105.0l0.5 0.1M69.0 90.3l-0.0 0.6M68.3 74.1l-0.7 0.3M65.0 38.8l-0.3 1.0M90.1 62.6l0.6 0.1M85.3 87.8l-0.0 0.7M104.6 85.3l0.5 0.2M89.7 65.3l0.6 0.3M114.2 92.7l0.0 0.4M99.5 30.2l-0.7 0.3M100.0 111.9l-0.5 0.2M119.2 49.0l0.3 0.8M84.6 53.9l0.3 0.3M60.4 81.2l0.0 0.7M51.1 81.2l0.2 0.7M67.8 70.7l-0.5 0.4M93.7 110.6l-0.5 0.0M51.8 89.6l0.4 0.2M91.0 75.4l0.4 0.2M72.2 71.3l0.5 0.0M49.8 77.1l0.5 0.4M100.1 63.6l0.6 0.0M102.1 66.9l0.4 0.2M53.6 48.5l0.3 0.7M66.3 77.3l0.6 0.7M94.9 65.3l0.6 0.1M100.4 46.5l0.1 0.5M56.1 84.5l0.1 0.5M108.5 35.0l0.0 0.4M92.3 35.9l0.7 0.2M60.2 72.9l0.5 0.0M92.3 70.1l-0.6 0.2M78.0 83.7l0.2 0.4M77.1 78.6l0.8 0.3M122.9 57.6l-0.2 0.6M88.3 93.3l0.4 0.1M94.0 98.3l-0.8 0.1M112.9 54.2l0.5 0.7M82.7 106.5l-0.6 0.7M100.0 74.4l0.4 0.2M80.4 73.3l-0.4 0.2M66.2 48.0l-0.5 0.6M74.8 39.0l0.4 0.3M101.8 57.5l-0.8 0.1M95.4 100.4l-0.5 0.0M49.6 73.4l0.4 0.4M91.7 48.2l0.4 0.1M108.5 47.9l0.9 0.2M98.8 73.9l0.0 0.8M104.9 110.8l-0.0 0.7M90.9 76.9l-0.8 0.2M118.1 46.2l0.6 0.1M61.7 37.8l0.5 0.5M67.9 104.7l0.5 0.3M78.2 36.5l-0.7 0.5M120.7 55.5l-0.5 0.1M100.8 35.3l0.4 0.6M68.4 32.5l-0.2 0.4M120.8 52.8l-0.1 0.6M88.2 53.1l0.3 0.4M67.5 42.3l-0.1 0.5M64.0 64.0l0.3 0.3M84.1 75.3l0.1 0.4M101.8 100.2l0.2 0.5M86.2 88.0l0.9 0.1M107.8 86.6l-0.4 0.1M61.8 49.1l-0.4 0.7M100.6 43.9l0.1 0.7M104.3 109.1l-0.2 0.5M105.7 105.6l-0.4 0.9M80.4 84.3l0.7 0.1M81.0 96.6l-0.5 0.3M102.6 109.1l0.5 0.4M107.7 34.4l-0.8 0.1M94.1 86.3l-0.2 0.9M95.4 91.5l0.8 0.3M121.0 62.7l0.3 0.5M76.8 109.9l0.7 0.3M89.5 35.8l-0.3 0.8M91.2 77.5l-0.7 0.3M122.9 87.1l-0.8 0.2M103.0 63.1l0.7 0.2M66.6 101.7l-0.0 0.7M67.4 74.8l0.3 0.4M79.7 83.6l0.2 0.6M57.6 47.0l0.1 0.7M67.6 53.0l0.8 0.3M67.9 93.8l0.7 0.6M102.6 110.7l-0.8 0.6M71.8 68.1l0.6 0.5M91.2 46.3l0.1 0.7M50.7 62.7l0.4 0.9M96.5 93.6l-0.3 0.4M90.9 106.3l-0.3 0.5M54.8 62.2l-0.3 0.2M69.1 50.9l-0.7 0.2M84.9 92.7l-0.5 0.5M84.1 106.5l0.1 0.4M89.4 44.8l0.6 0.0M74.4 102.6l-0.3 0.8M82.2 66.6l0.2 0.5M68.3 44.1l0.4 0.6M91.8 43.3l-0.6 0.6M111.8 69.7l0.1 0.4M57.8 71.4l-0.8 0.5M86.0 67.5l-0.8 0.2M60.5 77.4l0.2 0.7M71.9 41.3l0.1 0.7M73.1 102.3l-0.4 0.3M114.3 44.6l-0.7 0.0M82.7 66.2l0.1 0.5M81.6 103.7l-0.9 0.1M69.8 79.8l0.5 0.7M122.4 77.6l0.5 0.6M55.8 95.5l0.8 0.4M95.1 110.0l-0.3 0.7M115.4 90.3l0.3 0.3" stroke="#c85a6c"/><path d="M88.5 82.9l0.0 0.8M94.9 58.2l0.1 1.0M88.6 109.5l-0.5 0.0M75.4 87.0l-0.9 0.3M95.5 31.4l-0.4 0.9M104.8 59.7l-0.5 0.6M94.9 68.2l0.6 0.5M78.0 77.6l0.3 0.4M86.5 53.0l-0.9 0.5M63.5 67.7l0.3 0.2M102.4 71.9l-0.3 0.8M114.2 88.4l0.5 0.4M58.1 65.7l-0.4 0.9M118.2 71.7l-0.4 0.6M86.8 61.8l0.4 0.1M88.2 60.9l-0.6 0.4M120.6 66.2l-0.9 0.2M69.0 67.5l0.6 0.3M66.7 90.8l0.3 0.3M113.9 40.7l0.1 0.8M117.7 97.8l-0.5 0.7M69.8 34.7l-0.3 0.4M58.4 54.4l-0.1 0.6M68.2 49.4l0.3 0.6M75.8 38.2l0.2 0.4M111.6 36.6l0.3 0.4M82.9 99.6l-0.8 0.4M73.4 74.5l-0.7 0.7M72.2 107.8l-0.3 0.8M99.3 54.1l-0.6 0.2M92.4 108.5l-0.9 0.2M67.4 57.3l0.3 0.6M93.6 97.2l-0.4 0.5M90.2 100.9l-0.1 0.5M60.4 51.2l0.9 0.1M80.0 100.0l-0.5 0.8M80.9 62.7l0.8 0.4M99.5 95.0l0.9 0.3M83.1 46.7l0.2 0.9M69.1 89.9l0.7 0.2M109.6 62.4l-0.4 0.1M76.1 87.2l0.6 0.2M106.2 96.2l0.6 0.2M106.9 75.1l0.5 0.1M100.9 89.2l0.5 0.3M58.8 42.9l0.7 0.4M84.7 61.9l-0.3 0.8M106.6 68.7l-0.9 0.0M113.9 46.3l-0.9 0.4M102.2 72.4l0.4 0.4M88.5 36.0l-0.7 0.3M83.5 52.9l0.3 0.4M80.8 104.9l0.5 0.8M62.1 44.8l0.7 0.3M84.0 93.1l0.3 0.9M58.0 93.5l-0.1 0.5M95.8 51.2l0.9 0.3M85.5 60.8l-0.2 0.8M59.8 78.8l0.6 0.1M55.0 63.3l0.1 0.4M120.6 50.2l-0.3 0.4M68.0 102.5l0.5 0.8M90.3 80.4l0.4 0.1M117.1 52.5l-0.6 0.3M96.6 100.5l-0.4 0.3M96.5 50.9l-0.5 0.9M113.0 102.7l0.4 0.2M74.2 36.9l-0.8 0.6M48.9 72.5l-0.7 0.5M87.5 49.5l-0.8 0.0M53.2 78.2l-0.1 0.6M79.8 89.0l0.5 0.3M96.1 55.7l0.2 0.8M87.4 76.2l0.8 0.3M82.0 67.0l-0.6 0.3M94.9 76.7l-0.0 0.4M79.4 103.8l0.9 0.4M83.6 70.6l-0.6 0.1M98.6 44.8l0.0 0.5M109.3 107.4l-0.5 0.9M79.7 80.3l-0.9 0.4M112.1 45.1l-0.4 0.3M119.1 74.0l-0.6 0.6M80.5 31.2l0.3 0.3M68.9 79.2l0.3 0.3M84.8 26.9l0.1 0.6M59.5 88.8l0.1 0.4M91.6 113.8l-0.6 0.2M88.6 56.4l-0.4 0.9M58.6 86.4l-0.8 0.3M125.8 68.9l0.5 0.1M79.3 99.7l-0.4 0.1M82.5 31.8l-0.4 0.3M110.2 47.4l-0.7 0.2M122.6 84.5l0.1 0.8M106.4 85.6l0.1 0.6M109.3 104.4l-0.2 0.9M65.5 89.4l0.9 0.1M103.1 66.0l0.1 0.5M69.0 87.9l0.1 0.5M67.1 76.5l0.2 0.6M105.0 81.0l0.4 0.3M109.7 89.1l0.1 0.6M83.5 58.6l-0.9 0.3M65.7 45.0l-0.2 0.7M93.8 90.9l-0.1 0.6M74.9 63.3l0.6 0.2M71.4 111.9l-0.5 0.5M74.8 111.7l0.5 0.8M93.1 71.3l-0.1 0.6M96.3 37.8l-0.6 0.1M51.5 56.5l-0.8 0.0M120.1 51.6l0.6 0.0M94.2 48.7l0.9 0.3M110.4 64.9l-0.3 0.4M101.3 87.6l-0.5 0.5M77.7 110.1l-0.2 0.4M69.6 80.6l-0.5 0.2M94.2 45.2l0.6 0.4M69.8 53.7l-0.2 0.5M98.0 67.2l-0.0 0.4M103.8 45.4l0.0 0.8M119.6 58.3l-0.3 0.6M70.6 65.9l-0.0 0.9M102.7 73.1l-1.0 0.1M59.6 62.9l-0.3 0.8M84.2 34.9l0.5 0.1M94.6 80.4l-0.6 0.5M107.2 40.7l0.4 0.7M113.2 58.9l0.8 0.4M70.2 101.9l-0.1 0.6M62.5 99.2l-0.5 0.1M72.6 94.7l-0.4 0.4M114.5 54.3l-0.5 0.1M74.6 44.9l0.4 0.1M79.3 100.8l-0.2 0.4M117.9 93.9l0.7 0.3M64.5 44.8l-1.0 0.1M105.0 68.9l-0.9 0.3M97.9 30.2l-0.8 0.3M114.3 74.6l0.7 0.1M76.5 29.7l-0.3 0.5M71.8 60.3l0.7 0.3M92.9 99.8l0.5 0.5M80.5 28.6l0.9 0.4M116.7 59.9l-0.5 0.0M101.2 98.4l0.0 0.9M87.5 37.4l-0.1 0.4M82.4 29.1l-0.6 0.5M64.5 61.9l0.9 0.3M55.8 79.6l0.6 0.8" stroke="#c4c8cc"/><path d="M83.3 75.5l-0.7 0.2M114.7 41.5l-0.6 0.4M84.3 68.8l-0.3 0.4M58.8 65.4l0.4 0.7M84.8 109.2l-0.5 0.3M89.7 27.3l0.7 0.6M64.6 106.8l-1.0 0.1M65.0 103.8l0.1 0.4M74.1 96.5l0.4 0.2M93.2 87.4l-0.5 0.5M70.6 91.1l-0.3 0.6M68.0 85.8l-0.9 0.1M64.2 102.3l-0.7 0.1M104.4 46.5l0.0 0.7M57.6 71.0l0.4 0.4M97.4 99.9l-0.3 0.7M110.6 68.4l0.9 0.1M61.5 38.5l0.5 0.6M84.0 94.4l0.4 0.6M71.5 33.3l-0.9 0.3M64.9 61.4l0.4 0.2M102.7 94.1l-0.4 0.0M78.1 113.2l-0.7 0.3M81.5 67.9l-0.5 0.0M83.5 48.1l-0.2 0.6M109.2 81.5l0.2 0.5M81.1 47.7l-0.5 0.3M99.0 77.4l0.1 0.6M89.4 115.3l0.1 0.5M116.7 49.9l0.7 0.0M72.4 42.2l0.3 0.7M79.4 107.8l-0.8 0.2M60.2 53.6l0.6 0.7M81.8 95.0l0.4 0.8M109.5 99.9l-0.2 0.5M72.0 85.8l-0.4 0.5M59.2 59.5l-0.1 0.5M71.3 53.9l0.9 0.2M88.3 70.5l-0.7 0.4M73.4 80.0l-0.3 0.8M52.2 63.1l-0.5 0.7M108.9 94.4l0.0 0.8M61.4 47.4l0.7 0.4M88.7 114.7l0.6 0.0M84.0 109.8l0.2 0.5M96.4 71.7l-0.5 0.5M78.0 31.7l-0.6 0.2M63.7 94.7l0.4 0.7M55.3 55.4l0.1 0.5M92.9 110.7l-0.6 0.5M88.6 109.2l-0.4 0.0M86.5 83.8l-0.1 0.8M110.4 101.2l0.4 0.5M90.0 86.1l0.3 0.3M121.0 68.4l-0.6 0.3M89.5 53.1l-1.0 0.1M78.3 49.6l0.9 0.3M100.1 38.3l0.5 0.1M88.4 77.8l0.0 0.9M78.8 92.2l0.5 0.1M98.1 29.2l-0.3 0.3M75.0 39.1l0.3 0.7M101.3 65.7l-0.2 0.7M57.2 41.1l-0.3 0.8M109.2 44.1l0.6 0.4M90.4 91.5l-0.1 0.8M52.8 85.3l0.4 0.1M80.5 68.7l0.7 0.2M68.0 44.2l0.3 0.4M49.6 69.1l-0.2 0.8M62.4 86.4l-0.3 0.7M89.1 73.7l-0.2 0.8M71.0 96.9l-0.7 0.1M74.7 39.3l-0.6 0.1M75.8 105.3l-0.2 0.6M93.8 47.6l-0.7 0.1M70.2 32.9l-0.3 0.5M99.7 60.9l0.0 0.9M68.3 50.5l0.2 0.5M55.5 88.9l0.8 0.1M79.1 55.3l-0.6 0.1M57.5 63.8l-0.5 0.7M120.2 82.7l0.2 0.4M96.5 32.2l-0.5 0.6M81.9 84.1l0.7 0.6M93.5 99.6l-0.6 0.3M74.5 57.6l0.0 0.6M79.8 38.5l0.8 0.1M73.3 90.8l-0.6 0.1M114.0 88.5l0.9 0.1M70.0 70.5l0.3 0.7M62.2 78.5l-0.5 0.5M100.8 41.5l-0.1 0.9M96.4 50.3l0.8 0.5M53.8 46.7l-0.7 0.1M82.9 115.0l-0.7 0.2M120.9 53.4l0.6 0.0M78.0 72.8l0.4 0.1M77.0 54.4l0.7 0.3M62.1 70.0l0.0 0.9M96.9 65.3l0.0 0.4M63.6 82.9l0.4 0.3M99.2 112.4l0.6 0.3M55.0 95.5l-0.3 0.6M100.1 103.3l0.5 0.0M102.1 41.5l-0.5 0.2M52.5 83.6l0.0 0.5M104.5 107.1l-0.3 0.3M65.6 79.8l0.3 0.3M94.1 82.5l-0.6 0.8M86.7 25.1l0.1 0.4M60.3 72.8l0.2 0.7M82.2 66.8l-0.1 0.6M73.9 101.8l-0.3 0.2M77.5 107.2l0.5 0.4M109.9 70.5l-0.9 0.1M76.8 52.6l0.7 0.3M70.3 50.9l0.2 0.9M114.8 62.2l0.2 0.6M100.6 66.5l-0.1 0.7M88.2 115.0l-0.9 0.2M79.9 66.5l-0.7 0.2M54.0 64.7l0.4 0.4M94.5 110.5l-0.9 0.2M65.8 46.5l0.1 0.8M116.2 74.4l0.1 0.6M84.1 42.9l0.1 0.8M112.0 78.4l0.8 0.4M83.8 25.3l-0.3 0.7M92.4 53.1l0.9 0.2M75.8 28.2l-0.3 0.8M53.1 56.1l0.6 0.7M73.6 40.2l0.2 0.8M67.9 107.3l-0.8 0.0M71.6 74.8l-0.9 0.0M85.4 43.2l0.6 0.2M112.2 86.5l-0.3 0.4M54.2 63.1l0.8 0.4M53.7 65.0l-0.5 0.8M92.9 46.7l-0.3 0.9M92.8 71.7l0.1 0.5" stroke="#dba0aa"/></g><use href="#prot"/><g stroke-width="0.75" stroke-linecap="round" fill="none"><path d="M85.0 84.5l-0.2 0.4M53.8 87.2l0.3 0.6M75.8 57.4l-0.5 0.7M62.0 59.0l-0.4 0.2M65.3 63.3l0.3 0.8M68.9 94.9l0.3 0.5M92.5 90.1l-0.5 0.1M52.4 78.7l0.1 0.9M108.1 103.0l0.5 0.8M75.2 45.3l0.2 0.9M101.6 76.0l-0.8 0.2M85.9 36.6l0.3 0.4M114.2 55.2l0.2 0.5M109.3 35.6l0.7 0.5M109.7 48.0l-0.1 0.9M86.2 71.8l-0.7 0.1M87.3 62.2l0.5 0.3M69.8 71.4l0.1 0.4M115.8 83.8l0.2 0.5M99.0 99.9l0.8 0.3M118.6 51.5l-0.5 0.2M99.5 68.2l0.4 0.3M105.0 68.6l-0.5 0.2M60.7 49.0l-0.9 0.2M97.2 94.7l-0.1 0.8M84.1 56.7l0.3 0.5M74.3 33.3l-0.4 0.4M52.5 71.3l0.4 0.4M80.9 62.2l0.9 0.2M86.7 86.8l-1.0 0.2M88.1 83.5l0.3 0.4M61.9 99.0l0.3 0.7M80.7 52.7l-0.8 0.2M63.4 92.2l0.6 0.4M77.1 92.4l-0.3 0.8M99.1 92.7l0.4 0.8M110.6 37.3l-0.4 0.7M107.4 107.2l0.2 0.6" stroke="#d06a7a"/><path d="M96.7 114.0l0.2 0.6M95.5 73.8l-0.2 0.4M84.2 74.5l0.7 0.5M91.4 114.2l-0.3 0.6M76.5 26.7l0.0 0.7M76.1 49.7l0.5 0.4M97.3 39.7l0.1 0.9M78.0 60.8l-0.4 0.3M91.3 27.9l-0.4 0.3M90.8 112.6l0.2 0.4M107.0 63.0l-0.1 0.6M63.2 81.4l-0.1 0.6M121.6 79.0l0.8 0.2M121.3 81.1l-0.3 0.9M101.6 41.3l0.3 0.4M78.6 66.8l0.4 0.7M87.9 52.3l0.5 0.1M95.0 36.3l-0.7 0.1M106.6 50.3l-0.5 0.5M119.6 46.0l-0.1 0.9M112.4 85.5l0.0 0.9M98.7 83.8l0.7 0.3M114.9 66.4l-0.7 0.0M81.3 27.8l-0.4 0.2M111.6 71.0l-0.4 0.3M85.2 24.4l0.4 0.1M117.0 94.4l0.2 0.4M72.4 51.4l-0.3 0.3M72.6 60.1l0.5 0.7M74.3 45.7l0.5 0.4M120.4 90.1l-0.9 0.0M70.6 28.7l-0.6 0.5M49.7 57.9l-0.6 0.3M48.6 66.8l-0.5 0.0M111.2 49.8l-0.3 0.8M115.6 73.3l-0.1 0.5M95.0 104.5l-0.5 0.0M112.8 69.7l-0.2 0.4M85.2 87.3l0.8 0.3M84.9 109.4l-0.7 0.6M95.1 98.4l-0.4 0.5M56.3 78.9l-0.3 0.6M58.4 69.6l0.2 0.8" stroke="#d98a96"/><path d="M87.3 26.2l0.5 0.7M97.9 45.1l-0.1 0.7M67.9 86.9l-0.3 0.4M89.7 96.6l0.2 0.4M93.3 30.6l0.2 0.4M100.5 85.0l-0.7 0.1M75.3 91.4l0.4 0.6M111.4 96.6l-0.2 0.5M68.9 105.7l-0.7 0.3M103.8 51.3l0.4 0.3M78.5 84.4l0.2 0.4M85.6 91.3l-0.7 0.4M94.3 94.4l-0.8 0.3M69.5 54.9l0.4 0.9M73.6 73.4l-0.6 0.4M59.8 101.0l0.1 0.6M77.6 72.6l0.7 0.7M83.7 65.9l0.3 0.4M75.7 50.9l-0.2 0.6M122.8 80.1l-0.7 0.7M82.1 107.9l0.2 0.4M88.1 86.0l0.1 0.9M74.1 112.3l0.4 0.2M112.3 96.1l0.2 0.5M80.3 31.3l0.3 0.5M51.4 56.2l0.5 0.4M59.3 98.6l0.1 0.8M80.7 94.2l-0.3 0.4M68.9 68.2l-0.4 0.7M80.3 77.0l0.4 0.6M84.2 40.0l-0.3 0.6M89.6 91.2l0.2 0.7" stroke="#c85a6c"/><path d="M119.4 70.8l1.0 0.3M111.6 60.8l0.2 0.7M106.8 44.3l0.5 0.1M69.6 55.7l-0.2 0.4M76.7 55.2l0.1 0.8M62.7 48.9l-0.6 0.5M96.5 35.5l-0.1 0.8M72.4 88.0l-0.6 0.5M84.2 79.8l-0.5 0.3M110.7 50.3l-0.7 0.2M98.0 101.5l-0.3 0.8M81.1 84.6l0.4 0.8M90.6 26.0l-0.6 0.2M89.8 65.3l-0.1 0.8M87.4 82.5l0.1 0.8M107.1 57.7l0.9 0.3M94.3 78.0l-0.6 0.5M74.6 48.5l-0.2 0.9M60.8 68.7l0.6 0.2M94.0 68.1l-0.7 0.1M117.4 96.7l0.3 0.9M72.0 38.6l0.8 0.3M82.0 26.0l0.0 0.6M89.2 81.3l-0.5 0.0M90.8 106.6l0.4 0.9M100.9 78.3l0.6 0.3M98.7 43.6l0.3 0.3M104.4 81.6l-0.2 0.4M94.4 72.3l-0.2 0.5M61.2 78.7l-0.6 0.7M69.3 88.0l-0.5 0.2M82.2 69.9l-0.1 0.9M95.4 39.5l-0.9 0.0M75.5 68.0l0.5 0.2M86.0 101.8l0.9 0.3M108.7 77.4l-0.3 0.6M111.3 83.4l-0.9 0.4M68.0 89.8l-0.1 0.7M89.6 108.4l0.9 0.1M78.0 81.3l0.7 0.1M100.2 82.7l0.5 0.6M64.2 46.5l-0.5 0.1M96.9 73.7l0.7 0.2M69.6 97.7l-0.9 0.3M94.9 106.3l0.4 0.4M71.8 99.4l-0.6 0.4M101.1 69.8l-0.4 0.4" stroke="#c4c8cc"/><path d="M125.7 68.4l-0.3 0.6M56.8 62.9l0.5 0.2M91.5 113.8l-0.7 0.3M67.7 54.8l0.3 0.7M87.1 46.8l0.6 0.2M70.7 104.3l0.6 0.7M97.9 64.9l-0.7 0.5M80.8 46.2l0.2 1.0M80.6 78.1l-0.8 0.3M88.3 37.5l-0.6 0.2M108.2 61.5l-0.5 0.7M106.1 47.2l0.1 0.4M97.3 39.9l-0.1 0.7M71.2 54.6l-0.3 0.6M66.7 72.4l-0.5 0.5M81.0 100.4l0.6 0.3M54.6 74.3l-0.6 0.2M73.4 76.1l-0.1 0.7M88.3 63.9l0.2 0.5M86.6 107.6l0.5 0.3M59.0 51.5l0.5 0.4M107.3 58.1l0.4 0.5M123.5 81.3l0.4 0.1M93.1 74.4l0.2 0.7M59.4 40.8l-0.2 0.5M99.7 39.1l-0.9 0.3M121.6 73.6l-0.5 0.2M81.8 30.1l-0.2 0.4M109.7 94.9l0.3 0.6M70.3 42.9l-0.4 0.5M96.2 100.7l-0.5 0.7M83.5 52.9l-0.6 0.3M122.2 63.9l-0.3 0.4M68.0 35.7l0.8 0.4M87.6 63.7l0.5 0.2M69.6 61.5l0.5 0.1M85.3 106.9l0.4 0.7M82.8 35.0l0.0 0.4M104.8 66.8l-0.6 0.7M104.7 61.4l-0.6 0.4" stroke="#dba0aa"/></g><path d="M58,92 L66,86.5" stroke="#d03030" stroke-width="0.7"/></g>
<g stroke-width="1.1" stroke-linecap="round" fill="none" opacity="0.90"><path d="M345.5 111.5l-0.2 0.5M399.0 66.4l0.0 0.6M348.3 56.2l0.1 0.4M384.8 44.6l0.1 0.6M351.1 65.9l0.2 0.1M322.9 39.8l-0.2 0.5M388.2 122.5l-0.3 0.2M351.8 19.6l0.2 0.4M374.2 78.8l0.1 0.2M412.5 88.5l-0.2 0.0M407.9 67.8l0.3 0.1M364.9 55.9l0.3 0.1M363.2 35.3l-0.5 0.4M348.9 46.3l-0.2 0.6M321.0 94.3l-0.2 0.3M397.4 97.6l-0.5 0.1M398.6 28.2l0.6 0.3M351.5 127.1l0.3 0.5M355.4 38.3l0.3 0.4M384.1 88.4l0.4 0.3M401.0 81.6l-0.4 0.1M316.4 63.7l-0.5 0.2M320.9 36.7l-0.3 0.1M346.0 15.8l-0.4 0.2M343.3 41.2l-0.4 0.0M360.3 15.8l0.4 0.2M358.1 85.0l0.5 0.3M352.9 15.7l-0.5 0.2M319.4 83.2l0.3 0.2M386.1 64.5l-0.5 0.2M317.9 45.6l0.3 0.5M383.6 18.5l0.5 0.1M402.2 25.8l0.3 0.4M321.5 76.3l0.2 0.3M317.9 35.1l-0.4 0.1M411.2 39.2l-0.3 0.2M407.6 65.9l0.3 0.3M320.5 76.9l-0.1 0.5M393.3 74.7l0.4 0.6M372.1 117.7l0.3 0.2M339.7 106.7l0.6 0.3M360.8 77.3l0.2 0.2M355.4 65.1l-0.4 0.3M378.2 28.1l-0.3 0.4M346.6 107.3l0.2 0.5M363.0 62.5l0.6 0.4M387.7 60.9l-0.4 0.1M388.6 39.0l-0.2 0.1M323.8 91.5l-0.6 0.2M383.3 110.7l-0.0 0.4M339.2 103.8l-0.4 0.2M391.8 47.9l0.3 0.6M365.4 50.3l0.7 0.1M363.1 63.1l-0.2 0.4M367.5 105.5l0.2 0.3M364.4 120.9l0.2 0.0M360.4 55.7l0.2 0.5M368.0 95.9l0.1 0.4M368.8 24.1l-0.0 0.5M366.1 80.4l0.4 0.4M356.1 26.9l-0.1 0.7M372.4 85.1l0.6 0.1M406.0 99.4l-0.1 0.5M360.4 72.8l-0.2 0.2M370.9 54.5l0.2 0.1M325.3 102.7l-0.6 0.2M343.6 84.7l0.3 0.0M353.4 79.0l-0.3 0.1M364.5 106.4l0.0 0.4M356.9 29.3l-0.1 0.3M360.6 90.6l-0.4 0.4M345.6 61.2l-0.1 0.4M405.0 102.6l-0.1 0.3M383.0 88.1l-0.4 0.0M410.1 80.7l-0.1 0.3M356.0 5.0l0.6 0.1M406.7 92.4l-0.1 0.6M379.3 47.8l0.2 0.2M411.5 40.6l-0.3 0.6M357.4 65.0l0.5 0.2M321.4 70.9l0.3 0.1M343.3 78.6l-0.4 0.5M401.0 108.6l0.6 0.2M365.5 25.5l-0.6 0.2M391.0 35.5l-0.2 0.2M372.2 113.9l0.4 0.1M346.7 86.1l0.4 0.2M357.2 60.2l-0.2 0.3M391.7 94.9l-0.6 0.2M357.0 34.8l0.2 0.5M393.1 24.0l0.3 0.1M327.7 105.6l-0.4 0.3M364.0 121.7l-0.7 0.1M384.0 93.1l-0.2 0.2M356.4 17.9l-0.2 0.1M412.9 42.7l0.5 0.3M347.3 82.6l-0.5 0.3M379.3 109.2l-0.1 0.6M400.1 107.1l0.2 0.2M317.6 73.3l0.4 0.2M335.9 80.8l-0.4 0.3M390.4 112.5l0.4 0.4M356.1 22.7l-0.5 0.1M336.7 90.2l0.6 0.0M366.2 41.1l-0.3 0.3M378.9 37.9l0.1 0.4M385.6 117.5l-0.2 0.6M381.2 58.2l-0.1 0.5M358.6 128.1l0.4 0.3M368.4 125.8l0.1 0.5M345.7 113.5l0.2 0.2M372.8 80.8l0.7 0.1M334.9 26.2l0.6 0.2M339.8 50.4l-0.1 0.7M380.0 15.3l-0.3 0.2M336.2 22.6l0.6 0.2M415.6 73.6l-0.3 0.1M393.7 88.2l-0.6 0.2M337.9 52.0l0.3 0.0M396.9 68.7l-0.1 0.4M372.9 74.8l0.5 0.1M356.4 23.5l-0.4 0.0M390.9 109.7l0.5 0.5M361.4 127.6l0.7 0.2M364.7 14.1l0.2 0.2M351.2 49.7l-0.1 0.4M348.2 26.3l0.2 0.2M377.4 52.3l0.6 0.3M355.4 71.1l0.3 0.6M377.2 64.9l-0.2 0.3M359.2 86.6l0.6 0.0M391.8 87.9l0.2 0.2M334.3 90.1l-0.3 0.0M313.9 70.2l-0.0 0.3M397.1 45.5l0.1 0.5M327.5 27.4l-0.3 0.3M371.5 32.2l-0.6 0.3M336.3 110.3l-0.5 0.0M323.6 67.7l-0.3 0.5M328.2 78.1l0.2 0.1M387.9 28.9l0.3 0.0M371.3 113.9l-0.4 0.1M390.8 106.0l-0.2 0.0M372.2 61.5l-0.4 0.3M365.0 39.4l0.1 0.2M398.8 75.0l-0.3 0.4M353.8 35.4l0.2 0.4M384.3 71.5l-0.3 0.6M360.6 11.3l-0.5 0.5M365.8 74.4l-0.6 0.3M371.6 79.6l-0.3 0.3M395.7 62.3l-0.5 0.1M344.3 23.3l0.4 0.3M377.3 6.6l-0.0 0.5M343.8 96.6l0.6 0.1M343.4 67.9l0.1 0.4M361.9 53.8l-0.2 0.1M339.5 11.0l0.5 0.0M413.5 60.4l-0.3 0.0M333.4 58.6l0.2 0.2M401.1 100.8l0.3 0.5M338.9 118.5l0.2 0.1M364.9 89.1l-0.6 0.2M343.6 101.6l0.4 0.0M401.3 26.9l-0.0 0.3M335.8 23.7l0.3 0.1M373.7 21.3l-0.0 0.4M366.2 83.5l0.4 0.2M387.0 54.4l-0.0 0.3M345.5 36.3l0.3 0.3M390.8 35.6l-0.1 0.2M376.2 48.1l0.0 0.2M363.0 108.7l0.6 0.2M368.3 50.0l0.3 0.1M346.3 119.1l-0.0 0.2M349.8 97.9l-0.4 0.1M374.6 24.4l0.5 0.4M355.8 18.0l0.1 0.6M367.2 24.5l-0.6 0.2M336.4 107.1l0.4 0.4M341.0 80.2l0.6 0.1M370.8 30.1l0.2 0.6M394.3 30.8l-0.2 0.1M352.9 36.8l0.3 0.1M408.3 37.1l0.0 0.5M342.3 17.9l0.4 0.0M337.0 91.0l-0.6 0.0M356.6 49.9l-0.6 0.0M325.4 63.0l0.2 0.2M354.1 101.0l0.5 0.1M374.9 39.5l-0.5 0.1M395.2 57.4l-0.4 0.4M351.7 80.9l-0.2 0.4M362.8 40.1l-0.4 0.4M336.3 76.9l-0.4 0.4M385.6 59.0l0.4 0.2M319.4 76.8l0.3 0.1M326.8 49.4l0.2 0.4M356.7 6.9l-0.4 0.4M355.0 64.3l0.2 0.4M390.8 60.7l-0.1 0.4M400.5 41.3l0.4 0.1M317.3 72.1l0.1 0.4M343.8 92.1l-0.2 0.0M332.6 15.6l-0.2 0.7M358.2 129.0l-0.3 0.4M347.5 125.6l0.1 0.2M355.5 21.7l0.3 0.4M370.7 30.4l-0.3 0.5M341.2 108.9l0.5 0.1M330.2 95.7l0.4 0.0M325.5 75.4l-0.1 0.3M353.7 107.7l0.0 0.3M323.6 61.7l-0.1 0.5M331.9 39.7l0.2 0.4M343.7 28.0l0.6 0.0M328.3 73.6l0.5 0.1M348.0 43.2l0.5 0.4M371.5 114.6l-0.4 0.4M373.6 49.4l-0.5 0.1M395.1 113.5l0.2 0.1M343.2 48.1l-0.4 0.4M401.4 105.7l0.4 0.1M349.2 111.4l-0.4 0.5M329.2 56.6l0.2 0.2M343.6 15.8l-0.5 0.1M355.8 115.0l-0.1 0.3M414.3 55.2l-0.3 0.1M342.9 33.5l0.3 0.2M396.8 31.0l0.2 0.3M404.5 60.2l-0.3 0.6M346.7 22.3l-0.5 0.1M320.2 70.7l0.3 0.6M390.3 23.3l-0.2 0.4M382.0 94.7l0.3 0.5M409.3 55.8l-0.2 0.0M383.1 111.3l0.0 0.5M363.3 40.3l-0.2 0.2M350.4 54.0l0.5 0.5M332.4 50.6l0.3 0.3M327.7 98.1l-0.5 0.3M344.5 17.0l0.5 0.1M357.3 69.0l0.1 0.4M377.3 115.6l-0.4 0.3M323.9 40.1l0.1 0.5M375.5 99.1l-0.2 0.3M385.2 119.5l-0.1 0.2M335.8 14.5l0.1 0.3M395.2 96.1l0.2 0.5M353.3 68.4l-0.4 0.0M333.5 31.0l-0.5 0.3M352.2 18.3l-0.0 0.7M402.6 103.4l0.3 0.5M356.5 109.6l-0.0 0.7M333.8 17.4l-0.4 0.0M386.8 48.0l0.1 0.4M384.6 119.0l0.4 0.4M409.5 59.1l-0.4 0.2M344.7 76.6l-0.3 0.0M411.5 92.7l-0.1 0.7M343.8 87.7l0.5 0.0M316.3 47.1l-0.3 0.4M381.7 60.1l-0.2 0.5M369.5 42.1l0.2 0.1M366.1 13.5l0.4 0.5M374.6 55.2l-0.4 0.5M320.5 89.9l-0.2 0.1M359.9 102.8l0.2 0.1M347.8 7.6l-0.4 0.5M358.0 107.1l-0.2 0.6M391.0 80.9l-0.3 0.4M316.7 70.0l0.2 0.2M383.1 119.1l0.2 0.1M320.2 41.4l-0.3 0.2M381.1 67.8l0.2 0.6M359.7 34.8l-0.5 0.1M362.3 92.6l-0.4 0.2M333.4 38.5l0.4 0.5M348.4 52.5l0.6 0.1M358.1 86.1l-0.1 0.4M324.5 55.5l-0.3 0.2M348.8 68.0l0.0 0.5M391.4 122.1l-0.3 0.5M339.8 38.0l0.3 0.4M361.5 85.1l0.5 0.3M336.0 109.4l0.2 0.1M332.4 103.0l0.5 0.1M339.8 115.9l-0.1 0.4M410.7 41.3l0.1 0.4M364.8 20.2l0.1 0.4M324.8 37.1l-0.5 0.2M394.9 80.1l0.3 0.1M370.5 49.1l0.4 0.3M408.7 42.9l0.2 0.1M347.7 20.7l-0.3 0.3M338.9 65.8l0.1 0.5M373.7 124.7l-0.2 0.6M405.4 102.7l-0.2 0.0M335.2 44.5l0.2 0.0M336.5 21.0l-0.3 0.0M377.0 112.7l0.4 0.5M395.5 47.2l-0.4 0.0M373.7 38.6l-0.2 0.0M409.7 82.4l0.1 0.4M339.4 99.3l0.4 0.2M355.7 26.2l0.1 0.6M385.2 48.9l-0.1 0.5M343.2 63.3l0.1 0.4M387.4 32.3l-0.4 0.4M384.8 123.7l-0.3 0.0M338.8 80.5l0.6 0.3M391.8 61.2l0.3 0.4M328.6 66.9l0.6 0.4M341.2 81.1l0.2 0.6M349.5 31.3l-0.3 0.3M397.0 116.5l-0.2 0.1M365.7 55.4l0.1 0.2M345.6 44.2l-0.2 0.1M350.8 113.0l-0.1 0.4M357.2 69.3l-0.1 0.4M344.3 82.1l-0.6 0.3M367.9 68.9l0.1 0.6M375.3 50.9l-0.2 0.5M363.7 71.4l0.3 0.3M368.0 19.1l0.4 0.1M384.8 78.2l-0.2 0.1M360.5 23.5l-0.2 0.1M334.7 50.0l0.2 0.3M378.9 23.5l-0.6 0.1M365.8 119.5l0.5 0.1M387.0 24.6l0.1 0.3M411.8 50.7l0.5 0.1M380.5 59.8l-0.2 0.3M333.4 28.8l-0.0 0.3M389.4 20.1l-0.0 0.7M379.1 70.1l0.0 0.3M356.3 81.6l0.6 0.2M353.1 56.2l0.6 0.3M397.8 48.5l-0.4 0.0M349.7 12.2l0.2 0.3M336.2 45.0l0.3 0.0M390.7 102.2l-0.4 0.3M403.2 41.2l-0.5 0.4M361.7 16.5l0.1 0.2M349.7 113.3l-0.3 0.0M393.9 89.1l0.1 0.4M391.4 49.0l-0.4 0.3M396.9 80.8l-0.3 0.6M373.4 67.3l0.7 0.1M340.8 99.0l0.3 0.0M313.5 69.5l-0.3 0.1M393.1 117.8l0.0 0.3M349.6 65.0l0.5 0.2M329.3 31.2l-0.3 0.2M357.1 125.7l0.5 0.1M393.5 15.3l0.3 0.2M357.4 95.6l0.2 0.2M341.7 73.5l0.5 0.1M328.7 28.0l-0.1 0.7M315.4 49.8l0.3 0.5M316.5 63.3l-0.5 0.4M339.3 100.7l0.2 0.0M319.9 83.5l0.4 0.1M406.7 32.2l-0.2 0.3M343.6 116.0l0.3 0.5M376.6 115.9l0.6 0.2M381.3 118.3l-0.4 0.5M380.2 123.9l-0.3 0.5M321.1 53.7l-0.2 0.6M338.8 67.0l-0.3 0.1M402.3 41.9l0.2 0.5M353.5 76.2l-0.3 0.3M409.6 74.3l0.2 0.1M354.6 30.0l-0.5 0.2M380.8 36.0l-0.3 0.4M345.4 26.2l-0.1 0.3M358.0 70.2l0.2 0.4M388.2 61.2l0.0 0.6M329.3 91.3l0.4 0.2M401.8 74.2l0.1 0.3M385.1 28.0l-0.3 0.6M359.1 102.5l0.7 0.1M346.4 91.0l0.2 0.1" stroke="#cf5a6e"/><path d="M350.9 15.7l-0.3 0.3M393.2 23.4l0.5 0.2M327.2 24.3l0.5 0.4M397.2 46.8l-0.5 0.0M328.9 103.7l-0.4 0.5M399.0 58.2l-0.2 0.3M368.3 45.6l-0.1 0.4M357.2 26.5l-0.2 0.1M333.5 17.6l-0.3 0.5M406.9 85.0l0.0 0.2M382.5 41.0l-0.2 0.2M348.8 11.0l0.1 0.6M400.7 61.7l-0.6 0.3M388.8 124.3l0.1 0.6M324.3 66.8l0.3 0.3M318.0 34.8l0.1 0.5M393.6 52.9l0.3 0.0M332.7 39.1l-0.1 0.4M362.9 7.1l0.5 0.2M392.1 65.9l-0.0 0.2M392.6 97.7l-0.3 0.1M385.6 114.7l0.3 0.1M412.6 64.4l-0.7 0.0M388.3 41.7l0.0 0.4M353.9 128.4l0.1 0.3M388.2 21.5l-0.1 0.4M354.5 119.1l-0.4 0.1M324.0 33.7l-0.2 0.0M335.1 91.1l0.3 0.0M339.3 80.1l0.1 0.4M371.1 78.0l-0.2 0.2M392.4 71.1l0.0 0.3M396.0 122.1l0.4 0.1M374.6 63.3l-0.3 0.3M406.4 86.1l-0.1 0.5M345.7 119.5l0.1 0.4M380.7 74.2l0.0 0.4M361.6 18.0l-0.6 0.1M357.9 93.9l0.4 0.5M380.7 61.5l-0.5 0.1M404.9 54.5l0.4 0.1M353.3 62.4l0.4 0.0M408.0 77.1l-0.4 0.4M336.5 93.4l0.4 0.3M368.1 24.9l0.1 0.6M400.5 81.1l0.2 0.4M358.7 90.0l0.1 0.4M382.2 15.0l-0.1 0.2M373.3 32.6l0.2 0.3M380.1 31.2l0.5 0.2M350.7 114.3l-0.1 0.3M376.6 91.8l-0.3 0.4M344.6 105.2l0.7 0.0M396.0 33.8l0.5 0.4M366.6 92.2l-0.0 0.4M360.5 77.2l-0.3 0.1M356.6 92.0l0.3 0.0M402.5 53.1l-0.1 0.4M391.7 127.0l-0.2 0.1M356.0 72.4l-0.1 0.2M352.5 77.5l0.2 0.3M345.1 13.7l-0.2 0.0M320.5 56.6l0.4 0.1M391.3 104.4l0.5 0.2M357.4 12.1l0.4 0.1M363.8 103.1l0.3 0.3M371.2 80.9l0.5 0.4M390.2 50.5l0.1 0.6M331.2 90.2l0.4 0.1M396.9 86.5l0.4 0.3M338.3 23.8l-0.3 0.2M337.4 86.2l-0.5 0.2M376.7 105.7l-0.1 0.3M387.9 63.0l0.4 0.2M363.0 55.0l0.2 0.4M396.7 54.5l-0.4 0.3M402.6 34.7l0.0 0.3M388.8 98.3l0.0 0.3M380.0 97.1l-0.1 0.3M392.9 21.1l-0.2 0.2M369.3 110.6l0.4 0.2M367.6 70.0l0.4 0.5M379.0 97.9l-0.4 0.4M312.6 65.0l0.1 0.4M356.1 69.8l-0.3 0.3M349.2 16.9l0.3 0.6M372.6 77.7l0.2 0.4M355.2 108.3l0.3 0.2M330.2 64.6l0.0 0.5M409.7 57.5l0.6 0.1M325.9 61.8l0.6 0.0M387.7 16.7l-0.3 0.3M335.4 16.1l0.1 0.3M322.1 85.3l-0.1 0.3M373.7 74.7l-0.2 0.5M391.3 29.5l-0.3 0.6M327.2 92.1l-0.3 0.3M368.1 129.6l0.2 0.2M365.3 87.3l0.5 0.4M414.2 82.9l0.3 0.2M347.1 40.4l0.2 0.1M347.7 32.7l0.5 0.1M402.7 67.5l-0.2 0.2M411.9 70.8l-0.3 0.5M380.9 15.9l0.4 0.1M365.3 31.6l0.3 0.1M397.7 67.8l-0.1 0.6M400.6 34.1l-0.4 0.4M404.5 98.2l-0.5 0.2M325.5 24.8l0.6 0.2M358.4 32.9l0.4 0.0M319.2 48.0l-0.5 0.3M358.6 33.5l0.5 0.3M395.6 40.5l-0.4 0.3M326.1 74.6l-0.5 0.2M407.4 74.2l-0.3 0.4M376.0 127.3l-0.4 0.2M400.8 56.8l-0.1 0.3M388.4 39.9l0.0 0.4M390.7 103.7l0.5 0.5M383.8 61.1l-0.0 0.4M409.9 65.6l0.2 0.1M392.6 16.9l0.1 0.4M401.3 64.6l-0.2 0.1M331.3 101.4l0.5 0.4M377.4 33.4l-0.5 0.1M348.3 120.7l0.3 0.1M398.1 95.8l-0.1 0.4M361.5 66.0l0.2 0.4M363.0 32.5l-0.1 0.3M395.6 119.7l-0.2 0.3M369.9 30.4l-0.1 0.6M380.9 68.4l0.1 0.3M328.4 101.8l-0.4 0.2M325.7 59.0l0.2 0.2M351.5 33.3l0.1 0.3M348.8 100.9l0.1 0.4M375.2 102.2l-0.5 0.3M363.8 98.8l-0.2 0.3M326.9 82.7l0.0 0.2M375.3 30.2l-0.5 0.2M408.0 73.2l0.6 0.2M398.8 70.3l-0.2 0.6M318.2 55.8l-0.1 0.2M402.1 109.9l0.2 0.3M357.4 8.7l-0.1 0.2M412.6 59.1l-0.1 0.2M327.4 40.1l-0.6 0.2M331.0 18.5l-0.1 0.7M374.7 62.0l0.1 0.2M382.8 41.1l-0.2 0.2M316.7 73.7l-0.3 0.1M350.2 78.8l-0.3 0.5M392.9 29.8l-0.3 0.5M366.7 34.1l-0.2 0.1M386.7 50.6l0.5 0.4M338.1 95.8l0.3 0.5M358.3 8.1l0.3 0.3M324.7 31.4l-0.4 0.2M409.3 52.8l0.4 0.3M328.7 78.3l0.5 0.0M377.8 58.4l0.2 0.3M327.3 50.9l0.7 0.1M334.1 49.2l-0.5 0.1M376.6 62.2l0.6 0.4M318.8 70.7l-0.1 0.5M329.8 69.3l0.2 0.4M337.4 87.7l-0.0 0.4M322.7 64.4l0.6 0.1M365.3 107.4l-0.3 0.2M329.9 28.3l-0.2 0.3M349.0 107.1l0.3 0.2M321.5 41.8l-0.3 0.1M317.9 50.0l-0.2 0.2M369.4 45.5l0.4 0.1M349.8 88.0l0.4 0.3M326.7 97.1l-0.3 0.1M381.4 37.2l-0.4 0.2M378.3 52.2l0.2 0.1M387.3 122.7l-0.2 0.1M373.0 88.7l0.0 0.7M385.5 23.2l-0.2 0.5M324.2 45.4l0.2 0.2M336.1 61.1l0.2 0.5M386.2 103.2l0.4 0.2M412.0 57.9l0.7 0.2M362.2 94.6l0.2 0.3M392.5 51.6l0.2 0.5M326.9 37.6l-0.7 0.0M374.1 19.0l0.4 0.5M350.4 55.0l0.3 0.4M400.4 84.3l-0.6 0.4M341.2 74.0l-0.1 0.2M372.3 18.8l0.7 0.1M407.0 67.6l-0.3 0.4M334.0 59.4l-0.0 0.3M396.7 117.3l-0.6 0.1M394.3 72.9l-0.5 0.0M360.6 37.4l-0.2 0.0M373.3 12.0l0.1 0.2M396.8 40.2l0.4 0.3M369.1 46.5l-0.2 0.3M372.8 58.3l-0.2 0.0M346.9 23.7l-0.3 0.2M403.5 110.2l0.7 0.1M335.9 104.7l-0.3 0.6M358.7 76.5l0.4 0.0M315.2 47.6l-0.1 0.6M393.9 62.3l0.0 0.5M356.6 118.4l-0.1 0.5M381.1 32.9l0.2 0.1M380.5 93.2l-0.0 0.4M332.7 95.6l-0.0 0.4M345.9 96.1l-0.0 0.4M392.8 103.7l0.2 0.0M364.3 13.2l0.2 0.5M370.9 73.0l0.3 0.5M321.8 86.9l-0.3 0.0M335.4 39.1l0.3 0.3M333.4 96.9l-0.0 0.2M370.7 86.8l0.2 0.1M332.4 44.6l0.4 0.4M410.7 54.8l0.6 0.4M397.9 78.1l-0.1 0.3M336.7 74.4l0.3 0.5M351.0 21.4l-0.3 0.3M401.3 117.6l0.3 0.0M342.6 113.9l-0.6 0.2M360.0 36.8l-0.3 0.3M389.8 62.6l0.1 0.3M347.1 89.0l0.5 0.2M394.0 24.5l0.2 0.0M373.1 70.5l0.5 0.2M406.8 53.4l-0.6 0.2M349.9 98.3l-0.2 0.1M372.4 95.6l0.3 0.6M380.5 86.8l0.5 0.5M327.8 48.7l0.3 0.3M401.8 36.5l-0.3 0.5M389.8 71.3l0.1 0.4M332.9 86.2l0.2 0.3M346.9 101.8l-0.1 0.3M330.4 104.8l0.5 0.1M407.3 109.7l0.5 0.1M397.6 108.3l0.1 0.4M352.0 119.8l0.5 0.3M372.2 118.0l0.0 0.3M406.1 83.6l0.6 0.2M322.0 54.0l-0.6 0.0M346.8 68.5l0.2 0.0M371.7 117.3l-0.2 0.3M393.6 120.6l0.4 0.0M352.0 66.8l-0.2 0.1M345.7 97.6l0.3 0.2M340.5 109.8l-0.2 0.3M407.7 84.2l-0.3 0.0M365.5 20.7l-0.4 0.4M351.4 97.3l-0.4 0.2M319.5 79.8l0.5 0.3M371.8 123.8l-0.4 0.3M383.1 70.8l0.2 0.5M376.6 105.7l-0.1 0.5M332.7 86.2l-0.6 0.4M408.8 68.6l-0.1 0.2M367.0 47.6l-0.3 0.1M400.7 36.8l-0.4 0.3M372.4 80.4l0.3 0.4M364.6 62.8l0.2 0.3M386.4 127.7l-0.3 0.5M321.6 62.0l-0.1 0.1M337.1 90.8l-0.1 0.5M350.0 87.1l0.1 0.6M321.7 33.9l0.3 0.2M337.7 27.4l-0.5 0.5M409.0 37.0l0.4 0.5M368.5 62.0l0.5 0.1M331.6 71.3l-0.5 0.2M401.8 22.5l0.5 0.0M341.2 79.4l-0.3 0.2M406.5 104.6l-0.2 0.3M392.8 31.4l-0.5 0.1M369.7 87.1l0.2 0.2M383.5 118.7l-0.1 0.3M331.1 97.0l-0.2 0.2M322.8 48.4l-0.3 0.4M380.3 130.1l0.3 0.2M374.3 78.7l-0.3 0.5M336.7 74.3l0.4 0.2M413.2 79.4l0.1 0.6M385.6 34.4l-0.5 0.4M352.2 30.5l0.3 0.0M354.2 84.1l-0.3 0.1M372.0 51.7l0.1 0.4M352.3 103.8l0.4 0.6M325.4 52.5l-0.1 0.5M317.2 56.3l0.4 0.1M362.1 10.9l-0.5 0.4M397.4 111.5l-0.4 0.2M406.6 95.7l0.2 0.7M394.7 54.2l0.6 0.0M325.7 80.1l-0.4 0.0M392.4 22.5l0.1 0.5M384.8 105.2l0.2 0.1M377.1 67.6l-0.3 0.3M380.9 8.3l0.1 0.5M372.2 70.7l0.3 0.1M337.9 116.4l-0.0 0.4M343.9 28.1l0.5 0.1M333.8 102.3l-0.4 0.2M390.9 15.5l0.1 0.6M387.7 96.8l0.2 0.6M333.3 15.9l-0.2 0.5M354.2 122.3l0.3 0.1M315.9 46.3l-0.2 0.2M352.7 127.3l-0.6 0.2M363.9 50.2l0.4 0.1M397.7 43.6l-0.1 0.3M336.1 51.6l-0.5 0.0M328.0 39.2l0.3 0.1M363.9 36.6l0.5 0.1M368.2 114.2l-0.0 0.3M317.6 54.3l-0.2 0.1M338.4 70.7l0.1 0.6M399.9 83.2l-0.4 0.2M409.3 81.5l0.5 0.0M344.8 115.6l0.3 0.5M316.6 50.1l-0.4 0.2M377.6 35.9l0.5 0.0M346.4 91.4l-0.5 0.3M407.3 53.1l0.1 0.2M364.6 32.0l0.5 0.0M376.1 109.1l0.6 0.3M379.7 63.4l-0.1 0.4M360.8 90.7l0.0 0.4M401.4 112.0l-0.5 0.5M323.8 78.1l0.2 0.1M370.3 65.7l0.3 0.1M323.7 74.9l0.3 0.1M335.5 105.3l-0.1 0.3M337.3 66.8l-0.3 0.4M400.3 24.4l-0.0 0.6M388.1 121.9l0.1 0.5M357.4 52.0l-0.2 0.1M400.0 67.9l-0.5 0.1M361.4 53.9l0.0 0.5M412.5 100.5l-0.6 0.3M360.0 78.1l-0.2 0.3M318.2 87.9l0.3 0.0M407.0 70.7l-0.4 0.2M381.5 53.1l-0.0 0.3M375.4 79.8l0.2 0.5M336.3 84.9l-0.4 0.4M340.6 75.4l0.6 0.0M384.6 68.2l-0.3 0.0M401.1 36.7l-0.3 0.2M341.9 116.8l-0.0 0.2M387.8 109.5l0.2 0.6M344.1 33.5l-0.2 0.1M400.0 61.6l0.6 0.2M378.6 98.1l-0.2 0.5M340.8 77.2l-0.0 0.4M337.3 83.3l0.4 0.1M350.9 30.8l-0.1 0.2M347.6 94.4l0.3 0.5M347.3 95.9l-0.3 0.2M327.9 44.3l0.3 0.3M415.2 64.9l-0.1 0.4M363.5 77.7l-0.3 0.0M379.8 55.4l-0.3 0.2M407.4 39.8l-0.0 0.3M389.2 116.0l-0.2 0.5M379.1 121.4l-0.3 0.2M337.8 86.6l0.2 0.4M410.7 47.1l-0.6 0.4M371.5 98.9l-0.1 0.3M368.8 80.1l-0.4 0.0M350.2 103.8l-0.3 0.6M327.0 97.5l-0.4 0.4M357.2 126.8l0.1 0.6M320.0 55.7l0.0 0.3M334.6 39.3l0.1 0.2M354.3 91.2l-0.4 0.4M331.6 94.6l0.5 0.4M386.5 39.9l0.2 0.1M382.8 93.0l0.1 0.2M364.3 64.7l0.0 0.5M365.0 105.6l-0.3 0.2M325.1 26.5l-0.1 0.3M383.5 25.1l0.0 0.4M319.0 75.7l0.6 0.2M377.0 93.4l0.1 0.2M349.9 44.3l-0.2 0.4M317.0 60.2l-0.1 0.3M388.5 123.4l-0.2 0.2M329.8 108.6l-0.1 0.6M338.4 46.6l-0.3 0.3M369.7 50.7l0.0 0.4M342.2 92.7l-0.1 0.6M392.4 15.3l0.2 0.3M314.1 53.5l-0.0 0.4M392.8 95.9l-0.3 0.1M382.2 118.8l-0.3 0.5M382.4 48.2l-0.5 0.0M344.8 20.7l-0.2 0.0M386.8 80.0l-0.2 0.0M392.3 71.9l0.3 0.6M407.5 74.9l-0.7 0.1M384.9 78.2l0.5 0.1M364.5 77.4l0.0 0.3M377.3 45.3l0.3 0.4M350.8 115.9l0.3 0.0M351.9 92.8l0.1 0.3M408.5 43.8l-0.5 0.2M363.6 112.5l-0.6 0.2M381.8 34.8l-0.4 0.4M368.6 31.5l-0.2 0.2M366.9 124.3l0.3 0.6M372.0 22.8l0.3 0.3M393.9 93.8l-0.2 0.5M363.0 100.6l0.6 0.1" stroke="#d8788a"/><path d="M348.0 72.3l0.5 0.2M384.5 43.0l-0.2 0.5M348.7 107.3l-0.3 0.4M386.5 39.6l-0.4 0.4M346.4 25.9l0.0 0.6M359.9 111.4l-0.3 0.2M400.1 48.9l-0.5 0.2M354.8 84.6l-0.0 0.7M354.7 49.0l0.3 0.1M353.6 39.3l0.6 0.2M369.5 42.4l-0.0 0.7M367.6 38.7l-0.2 0.2M368.2 59.0l0.6 0.1M333.1 88.5l-0.2 0.2M323.8 59.8l-0.1 0.4M334.9 113.6l-0.6 0.0M322.7 81.6l-0.4 0.2M388.5 50.0l-0.3 0.6M404.6 64.9l0.6 0.2M372.2 90.0l-0.5 0.2M398.3 53.2l0.3 0.1M384.4 29.8l-0.3 0.1M373.5 26.8l0.1 0.2M350.6 102.6l0.4 0.3M374.6 34.7l0.6 0.2M370.9 82.9l0.4 0.3M345.9 51.3l-0.1 0.4M354.1 22.0l-0.3 0.3M394.4 76.7l0.2 0.1M346.5 111.2l0.2 0.1M383.8 38.6l0.2 0.3M332.8 34.1l-0.1 0.3M368.7 25.1l-0.2 0.2M412.3 74.5l-0.2 0.3M312.6 67.3l-0.4 0.0M349.6 14.0l0.4 0.0M388.5 51.5l0.3 0.4M384.5 62.7l0.3 0.1M355.3 127.9l0.3 0.0M346.4 86.1l0.1 0.4M363.9 38.6l0.3 0.0M333.3 63.1l0.3 0.1M407.9 87.0l-0.5 0.2M374.1 96.5l0.0 0.6M369.1 28.6l0.4 0.5M347.7 95.1l0.3 0.0M362.1 11.2l-0.5 0.2M381.1 123.8l0.4 0.0M354.8 23.0l-0.2 0.3M321.6 72.4l-0.4 0.4M406.8 83.7l0.6 0.3M352.7 62.9l0.1 0.2M350.1 36.5l0.5 0.1M333.3 75.1l-0.3 0.1M385.5 26.7l0.3 0.2M404.3 106.5l0.2 0.1M342.8 91.0l-0.7 0.1M346.3 112.8l0.2 0.2M349.8 11.6l-0.1 0.5M341.8 65.1l-0.2 0.6M402.9 26.2l0.6 0.2M391.6 28.4l0.4 0.2M387.2 115.2l0.2 0.6M330.7 66.4l0.0 0.5M364.9 110.7l0.4 0.3M330.5 22.2l-0.2 0.2M362.2 120.5l-0.2 0.7M324.1 65.1l0.3 0.2M318.5 47.2l0.6 0.1M320.0 80.3l0.5 0.3M324.6 98.1l-0.3 0.2M384.9 50.6l0.3 0.1M379.6 44.4l0.1 0.5M410.7 64.8l0.5 0.2M360.3 87.0l0.2 0.1M370.0 47.2l0.5 0.1M396.6 91.7l-0.1 0.3M318.7 79.9l0.3 0.2M408.3 69.1l-0.6 0.2M338.0 72.6l0.5 0.3M346.5 113.7l0.2 0.1M396.6 46.8l-0.5 0.3M315.0 58.4l-0.2 0.2M395.2 53.3l0.1 0.5M379.4 82.8l-0.3 0.1M398.1 38.0l0.4 0.1M378.1 109.7l0.4 0.0M386.0 26.6l-0.2 0.2M390.2 119.4l-0.1 0.3M321.8 85.9l0.0 0.7M406.0 87.1l-0.0 0.4M323.1 33.0l-0.5 0.2M357.4 23.2l0.1 0.6M377.6 36.7l0.6 0.1M332.3 49.9l0.0 0.2M360.4 11.8l-0.0 0.7M343.5 29.4l0.5 0.1M354.2 113.9l0.1 0.2M330.5 78.5l-0.1 0.5M364.0 18.9l0.2 0.2M346.6 23.0l0.5 0.1M367.2 124.3l0.2 0.7M388.4 125.9l0.1 0.3M360.4 65.3l0.5 0.0M385.8 21.9l-0.0 0.2M348.6 77.7l-0.3 0.0M341.6 92.4l0.4 0.3M355.8 122.8l0.0 0.6M373.5 123.1l-0.3 0.5M376.4 87.8l-0.4 0.5M334.9 72.6l0.2 0.4M334.4 55.7l0.3 0.1M380.5 100.7l-0.0 0.7M352.2 63.0l0.2 0.3M405.3 25.8l-0.2 0.3M400.7 103.6l0.4 0.2M335.6 16.8l0.6 0.1M366.6 122.6l0.3 0.3M340.3 86.5l0.4 0.2M368.9 19.1l0.2 0.6M393.8 67.1l0.1 0.3M372.0 89.3l0.0 0.3M352.0 69.1l-0.5 0.5M374.9 116.4l-0.4 0.2M374.6 118.5l0.3 0.4M374.7 38.4l0.0 0.2M380.4 114.2l0.1 0.6M387.3 47.0l0.4 0.1M392.0 111.1l-0.5 0.1M350.8 83.2l0.2 0.2M392.9 101.2l-0.2 0.6M345.4 20.8l-0.1 0.2M364.2 43.0l-0.1 0.6M401.8 87.1l0.1 0.2M381.2 17.5l0.0 0.2M401.0 53.7l-0.4 0.2M402.2 95.8l0.3 0.1M373.1 8.8l-0.2 0.6M375.2 39.1l-0.2 0.3M396.4 76.0l-0.3 0.5M347.9 24.3l-0.5 0.1M390.5 77.9l-0.1 0.3M415.0 83.9l-0.0 0.6M402.2 76.8l-0.1 0.5M329.3 75.9l-0.2 0.7M384.0 84.6l-0.1 0.2M364.8 125.0l0.0 0.5M327.7 63.5l0.5 0.2M341.6 63.3l-0.4 0.2M384.9 70.1l-0.4 0.0M350.4 28.6l0.1 0.3M336.6 109.4l-0.3 0.0M360.4 118.6l-0.2 0.3M393.1 48.9l-0.6 0.0M353.1 17.7l0.6 0.2M387.1 77.4l0.2 0.1M401.7 32.7l-0.7 0.0M353.7 114.9l-0.2 0.1M382.5 35.1l0.1 0.5M344.1 78.9l-0.2 0.3M331.4 78.7l-0.1 0.5M348.9 42.4l0.1 0.4M377.7 87.4l0.5 0.4M379.4 116.6l0.6 0.2M402.2 36.3l-0.6 0.3M386.8 83.3l-0.5 0.1M350.6 62.5l0.2 0.5M361.0 35.6l-0.3 0.3M403.1 108.1l0.3 0.1M336.1 14.6l-0.1 0.2M339.7 70.6l-0.2 0.1M387.2 108.9l0.4 0.2M394.8 90.2l-0.6 0.3M383.7 74.1l-0.4 0.2M355.8 23.1l-0.2 0.6M356.4 28.9l0.4 0.1M335.9 18.3l-0.5 0.2M360.5 126.9l0.1 0.4M375.7 13.3l0.2 0.6M337.4 26.6l0.2 0.2M356.2 55.1l-0.2 0.3M377.1 87.6l0.3 0.2M398.9 21.8l0.3 0.4M364.8 42.6l-0.2 0.6M386.8 118.5l-0.4 0.2M385.6 83.1l-0.5 0.0M367.7 49.6l-0.4 0.2M397.5 103.0l0.3 0.1M381.4 130.6l0.0 0.2M380.1 69.6l0.2 0.2M349.4 47.5l0.4 0.4M412.0 85.5l0.1 0.4M384.9 115.8l0.1 0.6M373.9 125.0l0.7 0.1M399.5 101.8l-0.6 0.2M344.1 100.6l0.1 0.2M394.9 91.6l0.2 0.1M385.2 118.6l-0.2 0.3M370.9 21.5l0.4 0.2M378.1 82.8l-0.5 0.0M361.2 14.4l0.1 0.6M331.4 96.2l-0.2 0.5M384.3 37.3l-0.4 0.5M318.5 84.0l-0.2 0.3M354.4 38.6l-0.5 0.3M407.1 109.1l0.3 0.3M391.1 28.2l0.3 0.5M348.9 119.3l0.3 0.4M356.5 36.9l-0.0 0.4M363.7 128.7l-0.3 0.3M379.3 12.1l-0.3 0.2M357.8 87.7l0.1 0.2M386.3 106.4l0.2 0.1M317.8 53.5l-0.4 0.6M360.2 22.5l-0.0 0.4M358.6 100.3l0.6 0.2M336.5 109.8l-0.4 0.1M350.0 80.4l-0.3 0.2M344.9 8.9l-0.1 0.2M377.9 115.0l0.6 0.1M369.6 42.2l-0.2 0.4M376.5 47.1l-0.3 0.4M333.0 77.4l0.5 0.2M355.6 24.2l-0.2 0.2M380.4 27.9l0.2 0.6M348.0 123.5l0.1 0.3M393.3 44.1l0.1 0.4M378.5 65.2l-0.5 0.4M339.6 69.6l-0.2 0.2M354.7 40.2l0.2 0.5M400.3 61.9l0.0 0.6M355.9 86.0l0.4 0.5M398.5 70.7l0.0 0.2M393.0 49.8l0.3 0.1M337.5 13.8l-0.2 0.1M383.0 26.4l-0.2 0.3M403.8 77.5l-0.6 0.3M411.6 86.9l0.3 0.6M336.4 58.8l-0.0 0.5M367.6 96.9l0.4 0.3M330.0 83.6l0.6 0.3M342.1 71.9l-0.3 0.4M353.9 60.1l-0.5 0.4M373.7 101.5l0.3 0.3M335.8 41.7l-0.3 0.3M410.6 83.7l0.5 0.4M367.3 57.7l-0.3 0.2M347.1 35.0l-0.1 0.6M413.0 77.4l-0.3 0.2M318.7 72.9l-0.2 0.5M403.0 41.8l-0.0 0.4M378.9 106.1l-0.4 0.3M405.5 31.6l-0.1 0.6M393.0 124.9l0.2 0.1M395.6 96.5l-0.3 0.0M364.5 35.7l-0.3 0.1M409.9 94.7l0.1 0.6M403.2 88.9l-0.4 0.6M313.0 62.0l0.0 0.3M377.3 48.3l-0.0 0.3M375.8 44.1l0.4 0.4M368.1 33.7l-0.5 0.1M340.6 48.2l0.2 0.3M336.1 29.5l-0.3 0.1M342.7 114.2l0.4 0.2M373.8 90.5l-0.4 0.0M358.0 75.4l0.2 0.7M400.7 81.2l-0.5 0.4M406.5 102.4l0.1 0.3M383.7 80.1l-0.2 0.3M366.0 23.5l-0.0 0.5M406.1 63.2l0.5 0.2M365.7 128.1l0.4 0.2M321.8 91.0l-0.1 0.5M356.1 37.3l-0.6 0.1M338.0 107.8l0.3 0.1M353.1 40.7l-0.2 0.5M381.1 15.2l0.0 0.6M318.2 37.2l-0.0 0.2M349.3 25.6l-0.2 0.1M349.1 91.8l0.6 0.1M360.1 26.6l0.1 0.7M328.0 97.7l0.6 0.0M364.6 47.3l0.3 0.2M321.3 91.5l-0.0 0.6M413.5 45.1l-0.6 0.0M397.2 78.9l0.2 0.1M383.5 11.2l0.3 0.3M356.6 32.2l0.3 0.2M368.0 23.5l0.2 0.0M379.7 52.8l-0.1 0.3M353.7 59.1l0.2 0.1M341.4 66.9l0.4 0.0M382.1 89.6l-0.1 0.2M396.6 94.5l-0.3 0.1M409.6 91.7l-0.5 0.2M366.1 123.9l0.2 0.0M350.5 116.5l0.3 0.1M345.0 24.2l0.7 0.1M398.9 79.5l0.3 0.1M341.9 75.9l0.2 0.6M393.0 83.2l-0.3 0.4M395.0 107.1l0.3 0.4M385.1 58.2l0.1 0.4M391.6 104.9l0.4 0.0M404.3 85.0l-0.2 0.2M331.7 55.3l-0.4 0.2M352.5 40.6l0.3 0.6M331.4 63.2l0.2 0.1M316.4 74.4l-0.4 0.3M363.9 72.5l0.2 0.1M359.7 24.2l0.7 0.1M351.2 117.8l-0.2 0.1M347.0 90.2l0.4 0.1M402.6 78.7l-0.2 0.3M396.6 23.1l0.6 0.0M409.8 57.5l0.4 0.0M330.8 32.5l-0.4 0.1M374.1 117.4l-0.2 0.5M405.5 98.1l-0.3 0.6M318.6 48.3l-0.4 0.1M317.4 85.3l0.2 0.2M371.3 48.3l-0.4 0.1M338.3 51.9l-0.2 0.2M394.2 66.3l0.2 0.3M397.6 107.5l0.0 0.3M320.7 75.5l0.1 0.7M343.8 68.0l-0.1 0.4M380.5 16.8l-0.3 0.1M375.8 90.8l-0.0 0.3M352.5 56.6l-0.2 0.4M405.1 99.5l0.2 0.1M362.9 15.0l0.2 0.2M329.8 105.2l0.2 0.1M374.6 101.6l-0.4 0.4M329.0 101.9l0.6 0.1M364.5 108.9l-0.1 0.3M369.5 32.2l-0.3 0.3M381.0 74.3l0.2 0.2M344.0 101.0l0.0 0.4M319.3 65.3l0.2 0.2M347.3 10.2l0.5 0.3M380.6 101.4l0.1 0.5M329.1 91.3l0.0 0.6M368.3 13.9l-0.6 0.1M376.3 22.4l-0.4 0.0M365.6 120.2l0.1 0.4M366.5 67.4l0.5 0.0M368.8 112.7l0.5 0.1M325.5 98.0l-0.3 0.1M321.5 52.8l0.2 0.6M356.9 85.1l-0.0 0.3M341.8 86.4l-0.3 0.5M344.5 122.0l-0.2 0.1M383.4 88.1l-0.3 0.3M347.8 71.3l-0.3 0.5M373.1 47.9l-0.4 0.2M408.1 66.6l-0.2 0.0M390.2 75.1l0.4 0.3M375.7 32.3l0.5 0.3M336.9 79.0l-0.3 0.6M348.0 27.8l-0.0 0.2M406.3 64.1l0.3 0.4M338.3 109.3l-0.2 0.5M383.5 126.1l0.5 0.3M322.7 96.4l0.3 0.2M330.2 98.6l-0.0 0.6M376.5 18.6l-0.0 0.5M395.6 21.5l-0.3 0.6M390.8 41.8l-0.4 0.3M362.8 99.4l0.0 0.3M372.6 95.0l0.3 0.4M355.9 115.8l0.0 0.2M330.8 52.0l0.6 0.3M344.3 70.7l0.2 0.1M345.1 23.7l0.5 0.5M356.3 30.4l0.5 0.4M366.5 60.9l0.5 0.4M328.9 56.0l-0.0 0.2M367.4 48.0l0.1 0.2M397.5 27.0l-0.3 0.4M369.6 52.8l-0.3 0.1M324.7 34.8l0.2 0.0M352.0 115.4l0.6 0.1M401.3 24.7l-0.2 0.0M337.4 28.5l-0.2 0.5M379.1 87.3l-0.3 0.0M334.2 31.7l0.3 0.2M355.6 25.9l-0.1 0.2M318.9 46.6l0.4 0.1M357.6 106.7l-0.4 0.6M341.5 56.6l-0.3 0.1M385.2 96.6l0.0 0.5M371.0 84.3l-0.2 0.5M361.3 69.9l-0.3 0.0M386.0 56.6l0.4 0.5M322.9 58.6l-0.4 0.4M323.0 54.6l0.6 0.2M399.7 39.1l0.3 0.6M402.5 115.4l0.1 0.5M373.0 85.5l-0.0 0.6M369.0 12.9l-0.3 0.7M369.6 62.1l-0.2 0.5M359.1 29.0l-0.1 0.4M371.5 114.0l-0.5 0.3M357.0 88.9l-0.1 0.7M373.7 25.6l0.2 0.2M375.4 46.9l0.2 0.2M359.6 107.2l-0.0 0.3M382.6 24.4l-0.1 0.5M338.6 14.9l0.4 0.1M359.7 127.2l-0.3 0.4M396.7 94.1l0.2 0.1" stroke="#c65064"/><path d="M360.2 128.4l-0.2 0.1M386.9 85.6l0.3 0.1M353.6 33.8l-0.4 0.2M341.4 62.7l-0.6 0.3M366.0 72.9l-0.6 0.3M394.2 87.3l0.3 0.0M354.7 44.8l0.0 0.3M381.6 130.8l0.3 0.0M348.7 101.8l0.3 0.0M386.9 86.7l-0.4 0.1M356.6 40.4l-0.3 0.1M396.1 90.9l-0.4 0.5M320.9 52.8l0.5 0.1M367.4 74.6l-0.6 0.3M350.3 114.0l-0.5 0.1M330.5 67.7l-0.2 0.3M346.9 102.8l0.2 0.0M357.6 111.5l-0.6 0.1M375.7 86.5l-0.3 0.3M398.0 111.1l-0.2 0.1M342.6 37.9l-0.3 0.1M371.2 113.3l-0.3 0.3M315.8 66.9l-0.4 0.0M384.6 70.0l0.2 0.6M412.4 90.6l-0.1 0.3M376.2 108.2l-0.0 0.2M341.9 75.9l0.3 0.2M377.8 54.1l0.2 0.2M343.6 84.0l0.6 0.3M382.0 53.0l0.2 0.4M360.0 27.4l0.6 0.3M403.6 93.5l-0.6 0.3M365.4 64.9l0.3 0.2M346.7 30.0l0.0 0.2M318.0 86.0l-0.1 0.2M385.4 72.8l-0.1 0.4M391.2 99.4l0.2 0.2M337.1 24.7l0.3 0.1M360.2 75.1l-0.3 0.3M370.6 28.1l-0.2 0.0M350.7 110.3l0.2 0.7M331.1 105.4l-0.0 0.3M395.4 90.5l-0.4 0.0M335.0 97.2l0.2 0.1M401.6 61.1l0.2 0.1M382.4 87.4l-0.4 0.5M380.6 53.3l-0.4 0.2M339.6 60.6l0.4 0.0M364.3 67.4l0.1 0.7M349.4 89.2l0.3 0.0M391.8 57.7l-0.1 0.4M398.8 45.7l-0.4 0.4M382.8 98.3l0.3 0.2M405.2 45.0l-0.1 0.2M361.1 122.3l-0.0 0.3M386.1 52.4l-0.4 0.4M374.0 85.8l-0.6 0.2M389.4 37.8l0.1 0.4M363.8 10.7l0.6 0.3M356.1 64.0l-0.4 0.4M402.0 38.6l-0.2 0.5M350.9 64.5l-0.5 0.2M331.1 73.0l-0.5 0.1M331.1 20.5l-0.3 0.2M399.3 42.9l-0.4 0.1M395.1 77.4l0.3 0.0M356.0 54.6l-0.3 0.0M369.1 48.3l0.1 0.2M381.4 51.5l0.3 0.4M320.7 77.9l-0.6 0.3M352.7 10.3l-0.3 0.2M327.3 42.4l0.2 0.1M408.7 93.2l0.1 0.5M341.2 80.7l-0.1 0.6M388.5 26.3l0.2 0.2M329.8 99.8l-0.4 0.3M388.3 73.6l-0.4 0.1M386.0 35.6l-0.3 0.5M372.7 29.8l0.5 0.2M335.0 22.0l0.3 0.4M401.2 90.5l0.4 0.2M390.3 52.9l0.3 0.2M379.4 53.5l-0.1 0.2M412.0 82.6l0.2 0.5M350.2 87.6l-0.3 0.0M321.3 60.0l0.3 0.2M377.7 98.0l0.3 0.1M334.6 88.2l-0.5 0.1M373.3 123.7l-0.4 0.5M379.7 94.4l-0.2 0.0M336.0 11.7l0.1 0.5M334.7 17.9l-0.3 0.2M386.0 59.1l0.2 0.2M396.0 109.1l0.5 0.1M349.9 71.8l0.3 0.1M401.0 48.3l0.6 0.2M343.8 120.3l0.6 0.1M350.4 17.5l-0.3 0.0M369.6 123.8l-0.2 0.6M378.8 68.2l0.1 0.5M409.6 69.4l-0.4 0.4M387.3 35.8l-0.2 0.4M344.8 97.7l-0.2 0.1M358.0 32.2l-0.2 0.4M316.1 58.2l-0.5 0.0M390.5 34.1l-0.2 0.3M409.9 84.8l0.5 0.3M321.2 88.5l-0.1 0.3M363.1 57.8l0.3 0.3M365.5 7.4l0.1 0.5M351.7 126.9l0.5 0.3M365.0 43.0l-0.5 0.3M391.1 61.6l0.3 0.5M328.5 47.8l0.5 0.1M371.9 34.9l0.4 0.1M323.3 99.1l-0.3 0.4M394.9 120.9l-0.0 0.4M374.1 14.2l-0.3 0.4M322.2 68.8l-0.2 0.2M381.4 107.5l0.4 0.4M348.7 39.5l-0.4 0.4M406.2 94.0l-0.0 0.3M322.0 82.0l-0.3 0.1M349.7 29.9l0.1 0.3M333.5 33.2l0.3 0.4M394.4 76.9l0.1 0.3M356.0 103.8l0.0 0.3M396.6 103.7l-0.5 0.0M384.1 125.6l-0.2 0.5M389.3 91.4l0.1 0.6M388.4 18.8l-0.5 0.3M330.3 50.3l-0.2 0.4M340.1 76.1l0.2 0.2M335.6 112.8l0.3 0.4M342.4 57.0l0.0 0.2M353.4 106.0l0.5 0.4M314.4 66.4l0.3 0.5M350.5 65.4l0.5 0.2M343.6 16.9l-0.4 0.1M331.5 90.5l0.2 0.3M342.2 117.2l0.1 0.3M347.1 78.7l-0.2 0.0M384.5 55.2l-0.4 0.1M404.3 63.6l-0.1 0.2M368.1 98.3l0.1 0.4M360.4 10.8l-0.1 0.7M341.8 37.4l-0.5 0.0M368.8 42.3l0.1 0.5M346.3 51.9l0.6 0.0M391.1 38.6l0.6 0.0M403.1 30.1l-0.4 0.1M389.2 48.6l-0.4 0.3M316.5 83.2l-0.3 0.1M358.2 88.5l0.6 0.1M375.1 67.9l-0.1 0.5M358.7 51.8l-0.6 0.2M379.0 126.4l-0.0 0.4M365.2 92.1l0.4 0.5M390.5 124.6l-0.3 0.2M410.5 73.9l0.3 0.1M367.6 69.7l0.4 0.1M368.3 80.4l0.2 0.1M356.7 77.8l0.3 0.3M404.6 53.7l0.1 0.4M385.5 25.8l-0.5 0.3M405.5 48.7l0.3 0.2M371.5 78.5l0.2 0.2M330.8 82.6l0.5 0.1M392.9 82.4l-0.1 0.3M374.8 112.6l0.3 0.2M372.4 122.7l0.6 0.1M321.5 69.7l0.6 0.1M382.5 55.8l-0.3 0.3M383.2 57.0l0.3 0.2M341.7 100.9l-0.5 0.3M322.2 40.6l-0.4 0.4M351.5 29.4l0.1 0.3M374.3 115.6l0.1 0.4M345.7 52.1l-0.3 0.0M326.3 95.8l-0.2 0.4M396.9 64.7l-0.5 0.1M375.5 13.4l0.1 0.2M406.2 82.5l-0.1 0.4M328.1 71.9l-0.3 0.1M343.1 94.3l-0.6 0.1M402.7 48.8l0.1 0.5M359.2 28.7l-0.2 0.3M408.3 72.8l0.1 0.2M352.9 50.2l-0.2 0.1M375.9 122.7l0.2 0.2M323.5 98.5l0.3 0.1M407.3 85.4l-0.0 0.3M327.1 53.0l-0.1 0.5M349.3 97.6l-0.3 0.0M335.4 63.1l0.3 0.4M369.3 11.3l0.6 0.1M343.0 40.7l-0.5 0.2M392.6 32.0l0.6 0.3M362.4 72.7l0.4 0.0M331.0 24.7l-0.0 0.5M392.7 44.4l0.3 0.0M316.6 57.4l-0.4 0.1M338.5 21.1l0.4 0.4M335.1 53.5l0.5 0.1M350.5 88.2l-0.4 0.0M347.2 51.3l0.4 0.2M405.9 33.3l-0.3 0.1M331.6 107.3l0.1 0.5M369.9 41.8l0.3 0.3M361.9 115.6l-0.6 0.3M320.1 58.0l0.5 0.0M349.9 70.0l-0.2 0.5M358.5 14.2l0.2 0.2M341.2 28.5l-0.6 0.2M364.4 25.2l-0.4 0.1M398.5 83.5l-0.0 0.7M323.7 48.7l0.0 0.3M320.6 40.3l0.1 0.5M390.0 102.8l0.3 0.1M334.7 33.8l0.0 0.7M372.1 44.1l-0.0 0.5M329.7 75.9l-0.2 0.6M372.8 67.4l-0.1 0.3M340.8 16.8l-0.2 0.2M328.3 92.7l-0.5 0.3M403.8 55.0l0.2 0.3M338.1 97.5l0.3 0.0M374.8 128.0l-0.3 0.0M349.9 75.9l0.3 0.1M321.1 81.0l-0.2 0.0M394.8 68.8l-0.2 0.1M352.4 26.6l0.3 0.4M364.6 8.5l-0.0 0.3M401.3 103.0l-0.2 0.0M364.8 71.1l-0.3 0.2M381.0 14.7l-0.6 0.0M395.0 109.4l0.4 0.4M363.9 38.5l0.1 0.4M383.2 28.3l0.3 0.5M366.6 100.8l-0.4 0.2M353.8 56.2l-0.2 0.3M355.6 79.8l0.5 0.2M339.6 94.9l-0.2 0.5M333.3 106.9l0.3 0.2M349.8 26.7l0.3 0.5M364.9 62.7l-0.4 0.0M365.2 120.3l-0.3 0.4M382.7 62.8l-0.3 0.5M344.7 90.4l-0.3 0.6M321.4 54.6l-0.2 0.4M388.3 98.2l0.3 0.5M339.2 86.4l-0.2 0.4M380.6 42.4l-0.1 0.2M365.5 15.4l-0.2 0.4M360.0 104.3l0.3 0.3M394.8 123.7l-0.2 0.5M397.3 20.2l-0.2 0.1M354.6 30.8l-0.3 0.2M349.2 76.7l0.3 0.5M359.0 114.7l-0.4 0.5M385.9 27.4l-0.4 0.2M323.7 82.7l-0.1 0.2M374.5 99.8l-0.1 0.2M337.6 32.8l0.0 0.5M391.7 93.3l0.1 0.2M354.8 41.9l-0.0 0.2M404.1 73.1l0.5 0.1M352.7 19.4l0.6 0.1M365.9 114.8l-0.2 0.1M387.7 43.3l0.5 0.2M339.1 19.4l0.4 0.2M352.2 78.4l0.1 0.4M342.3 69.9l-0.1 0.3M338.4 99.6l0.1 0.2M329.6 20.6l-0.5 0.1M349.5 68.5l0.3 0.0M341.8 86.3l0.5 0.2M338.5 98.1l0.5 0.2M391.3 53.3l-0.4 0.2M341.9 110.6l0.3 0.0M396.6 92.3l0.1 0.7M314.6 53.9l-0.2 0.1M323.7 74.3l-0.1 0.2M382.7 71.9l0.1 0.7M358.0 120.2l-0.1 0.5M370.6 73.6l0.1 0.3M335.2 38.3l-0.0 0.2M331.2 88.3l0.5 0.4M329.3 55.2l0.2 0.4M380.1 102.0l0.0 0.5M395.4 113.4l-0.3 0.3M389.3 86.8l0.3 0.6M373.8 21.4l-0.1 0.6M392.4 86.0l-0.2 0.0M370.9 42.6l0.1 0.2M354.3 13.0l-0.0 0.7M381.9 32.5l0.0 0.5M394.6 37.5l0.3 0.1M394.6 118.7l-0.5 0.1M374.9 12.1l0.3 0.0M386.4 44.4l0.5 0.3M360.7 47.1l0.5 0.1M349.9 109.8l0.0 0.3M351.2 27.1l0.1 0.6M383.8 39.2l0.5 0.4M343.3 94.9l0.2 0.6M342.7 65.9l-0.1 0.2M347.1 36.3l-0.3 0.4M330.6 17.9l0.1 0.7M359.2 48.5l-0.4 0.1M395.1 38.0l-0.4 0.2M371.2 100.3l-0.3 0.4M356.7 29.2l0.1 0.2M371.8 75.3l-0.3 0.0M364.3 78.9l-0.2 0.3M385.4 72.7l0.3 0.3M314.3 76.2l0.3 0.4M395.2 32.4l-0.2 0.3M345.4 112.6l-0.6 0.1M368.9 49.4l-0.5 0.1M353.4 43.0l0.3 0.0M324.9 76.7l0.6 0.3M349.1 35.6l-0.4 0.4M397.3 56.6l-0.2 0.2M350.7 122.5l0.6 0.1M363.9 9.1l-0.3 0.1M342.9 66.5l0.3 0.1M367.9 7.8l0.4 0.2M386.1 14.3l0.2 0.5M329.0 75.0l-0.0 0.4M397.6 24.1l-0.2 0.1M391.6 78.3l-0.1 0.2M386.2 90.0l0.6 0.2M330.7 23.6l-0.2 0.3M340.1 16.8l-0.4 0.0M341.8 37.5l-0.3 0.5M355.0 26.0l0.4 0.1M381.5 51.6l0.3 0.5M331.3 19.0l0.2 0.5M351.3 73.1l0.3 0.4M376.1 18.7l0.2 0.3M398.1 107.1l-0.2 0.3M345.6 9.9l-0.2 0.2M336.4 69.2l0.6 0.1M377.7 111.9l-0.4 0.1M386.7 92.7l-0.0 0.2M364.0 74.5l-0.5 0.2M392.5 79.9l-0.6 0.1M342.2 9.7l-0.1 0.4M387.1 119.8l0.0 0.5M372.6 102.8l0.2 0.3M351.5 91.5l0.4 0.0M345.3 64.9l-0.0 0.6M321.0 49.7l-0.3 0.1M331.2 81.7l-0.1 0.3M399.2 68.8l-0.4 0.5M359.5 128.9l0.2 0.4M368.8 35.1l0.4 0.4M356.8 43.1l-0.4 0.3M361.0 92.7l0.3 0.0M327.7 67.3l0.5 0.0M395.0 39.9l0.2 0.4M381.6 16.1l-0.0 0.2M349.6 89.1l0.3 0.6M330.2 63.6l-0.5 0.4M377.9 105.0l-0.1 0.5M373.0 27.8l-0.5 0.4M376.4 115.0l0.5 0.2M312.5 63.6l-0.4 0.1M368.6 64.7l0.5 0.4M335.6 43.8l0.1 0.3M371.9 107.2l-0.2 0.1M346.8 65.1l-0.0 0.5M362.9 23.2l0.4 0.1M401.8 39.7l-0.3 0.2M344.3 63.6l0.5 0.5M391.2 28.1l0.2 0.3M404.1 28.4l0.1 0.3M347.2 122.7l0.1 0.2M358.0 13.3l0.3 0.1M390.6 87.8l0.2 0.3M386.6 39.5l0.0 0.6M323.2 86.9l0.2 0.3M335.4 25.5l-0.0 0.5M375.5 92.2l-0.6 0.1M372.8 31.2l0.0 0.7M371.7 23.5l-0.2 0.1M408.9 87.3l-0.2 0.2M351.3 116.2l0.5 0.2M405.7 41.0l0.2 0.3M384.0 78.5l-0.1 0.6M400.9 79.6l0.3 0.1M350.7 78.5l0.1 0.3M344.0 102.7l-0.3 0.2M338.0 100.2l-0.3 0.1" stroke="#de909c"/><path d="M377.5 101.4l-0.6 0.1M319.0 47.7l-0.4 0.1M378.0 68.9l0.3 0.1M361.8 96.9l-0.3 0.1M388.4 40.3l-0.5 0.0M320.8 94.1l0.1 0.6M324.2 41.5l-0.2 0.3M383.9 24.7l-0.5 0.3M377.7 61.1l0.1 0.6M399.9 60.4l-0.2 0.0M359.7 60.2l-0.5 0.4M364.1 75.1l0.1 0.6M385.2 91.8l-0.3 0.2M393.7 29.7l0.6 0.1M391.9 91.8l-0.5 0.2M332.0 71.2l0.5 0.5M351.0 40.9l-0.3 0.5M330.3 109.7l-0.0 0.7M380.9 46.8l0.4 0.5M321.2 88.2l0.2 0.4M363.4 118.8l-0.1 0.2M376.3 31.7l0.2 0.1M366.0 54.9l-0.3 0.1M372.1 124.2l0.3 0.3M323.7 89.9l0.5 0.4M342.7 116.7l0.3 0.4M337.1 24.2l0.1 0.4M346.0 81.3l0.0 0.6M401.1 92.6l-0.3 0.3M350.0 80.0l0.5 0.1M393.4 85.5l-0.2 0.5M321.0 70.9l0.0 0.2M359.6 121.2l-0.0 0.2M384.2 44.3l0.6 0.3M399.0 90.3l0.0 0.5M393.4 65.0l0.6 0.1M344.4 54.6l-0.3 0.6M388.3 66.0l-0.5 0.4M388.4 104.5l-0.4 0.1M368.4 107.8l0.4 0.2M342.8 64.4l-0.3 0.1M366.3 12.0l0.5 0.2M401.1 81.5l0.2 0.2M338.8 88.3l0.6 0.0M389.4 60.3l0.2 0.3M346.3 54.2l-0.1 0.2M381.8 132.7l0.4 0.0M368.1 94.5l0.4 0.3M360.4 121.6l-0.3 0.5M346.9 70.0l0.1 0.2M374.7 53.5l-0.1 0.3M340.4 73.6l-0.2 0.3M372.7 12.9l-0.1 0.4M350.9 109.7l0.3 0.0M330.8 60.6l-0.5 0.1M363.8 130.1l0.5 0.4M346.8 95.1l-0.3 0.3M337.4 42.0l-0.1 0.3M397.8 27.8l0.4 0.5M349.5 63.2l-0.0 0.4M329.8 36.0l0.5 0.5M376.0 59.6l0.3 0.5M387.6 66.2l-0.1 0.3M406.5 70.2l0.3 0.1M331.8 94.9l-0.3 0.0M395.4 27.6l0.3 0.1M369.0 46.9l0.5 0.1M397.5 41.1l0.6 0.3M359.9 130.0l0.1 0.6M355.4 34.9l0.2 0.6M329.2 102.9l0.4 0.3M384.8 33.0l0.5 0.2M387.7 30.6l0.3 0.0M363.6 25.0l-0.5 0.1M340.8 13.5l-0.4 0.2M323.5 84.0l0.2 0.4M412.1 94.2l-0.4 0.4M337.2 62.7l-0.5 0.4M399.7 61.4l-0.2 0.0M379.6 128.6l-0.3 0.4M382.9 82.6l0.4 0.5M384.3 85.4l0.3 0.1M394.8 117.8l-0.5 0.0M367.5 43.9l-0.5 0.1M330.9 92.9l0.5 0.2M399.4 36.9l0.3 0.4M375.2 114.2l-0.1 0.7M376.5 74.8l-0.0 0.6M364.6 26.5l0.6 0.2M321.0 41.2l0.1 0.3M404.8 44.5l-0.2 0.4M329.3 88.0l-0.3 0.5M346.4 81.6l-0.1 0.2M385.4 49.1l0.5 0.4M413.4 46.1l-0.5 0.1M405.4 101.1l-0.1 0.4M340.2 62.4l0.0 0.2M348.0 29.2l0.6 0.2M358.4 67.7l-0.1 0.3M374.8 35.7l0.2 0.1M352.6 122.3l-0.3 0.1M389.6 108.7l-0.2 0.1M393.8 51.0l0.3 0.2M363.7 66.6l0.1 0.2M340.1 25.4l-0.0 0.2M397.2 47.4l-0.6 0.2M361.9 102.4l-0.2 0.1M359.6 71.7l-0.3 0.3M318.6 91.5l-0.1 0.3M338.0 49.5l-0.1 0.5M382.6 67.9l-0.2 0.4M391.4 50.8l-0.3 0.6M362.8 113.0l0.4 0.1M336.2 93.4l0.4 0.3M413.1 84.9l0.5 0.2M401.1 67.5l-0.2 0.4M342.4 40.4l0.6 0.1M408.6 94.5l0.2 0.1M323.5 86.3l0.4 0.4M368.2 51.8l-0.2 0.3M325.7 70.0l0.3 0.6M385.3 43.3l0.4 0.2M317.6 61.8l-0.2 0.0M349.6 18.1l-0.3 0.0M376.8 66.2l0.4 0.1M391.3 107.8l0.1 0.2M405.4 94.8l-0.1 0.2M330.3 35.3l-0.3 0.2M327.2 32.1l-0.1 0.4M405.9 44.2l0.3 0.0M399.1 43.5l-0.5 0.5M357.0 117.8l0.2 0.2M374.2 108.9l-0.2 0.4M376.5 120.3l0.2 0.3M340.9 57.0l-0.1 0.3M396.0 121.8l-0.1 0.7M378.1 27.6l-0.6 0.3M319.3 72.8l-0.2 0.1M361.3 103.2l-0.0 0.3M385.9 120.0l0.1 0.2M365.7 102.5l0.1 0.5M404.3 57.6l0.1 0.4M410.8 83.9l0.4 0.2M355.0 36.4l-0.1 0.4M338.1 70.4l-0.4 0.2M376.9 122.9l0.6 0.0M364.3 114.0l0.2 0.4M386.0 122.8l0.2 0.4M329.1 56.4l-0.3 0.4M365.7 79.7l0.2 0.3M383.3 21.9l0.5 0.3M400.2 43.3l0.1 0.2M382.1 108.5l-0.3 0.5M315.3 65.4l-0.2 0.2M353.3 98.8l-0.3 0.3M348.7 122.9l0.4 0.1M414.3 57.2l-0.6 0.4M381.4 22.2l0.7 0.0M318.5 75.7l-0.3 0.2M389.5 58.5l0.5 0.3M411.9 55.9l-0.2 0.2M336.6 38.6l0.2 0.3M404.9 61.5l0.5 0.5M407.8 53.4l-0.6 0.2M362.6 27.6l-0.2 0.0M403.5 106.1l-0.2 0.2M365.8 5.9l0.3 0.5M346.8 105.5l-0.2 0.0M380.6 52.1l0.1 0.2M360.9 31.0l-0.6 0.1M411.2 89.0l0.1 0.5M376.7 14.8l-0.2 0.3M402.5 72.2l-0.4 0.2M375.8 109.5l-0.2 0.3M323.6 81.9l0.2 0.1M375.0 67.2l-0.4 0.5M333.9 33.0l-0.1 0.3M370.7 62.2l-0.4 0.5M390.9 14.9l0.4 0.2M393.9 69.6l0.4 0.2M365.0 29.7l0.4 0.2M320.3 32.2l-0.1 0.3M386.1 94.3l-0.5 0.4M366.3 111.9l0.4 0.2M379.9 104.9l0.0 0.2M363.3 67.8l-0.2 0.1M395.5 22.2l-0.0 0.5M392.1 72.0l0.3 0.0M373.6 122.3l-0.6 0.2M371.2 20.1l0.1 0.2M379.3 113.8l0.3 0.5M321.4 50.9l0.2 0.1M332.1 70.1l0.3 0.0M331.9 105.8l0.0 0.7M356.5 36.1l-0.6 0.2M375.4 12.3l-0.2 0.6M383.2 93.1l0.0 0.3M403.9 58.5l0.3 0.3M388.5 23.0l0.3 0.2M365.0 39.4l-0.2 0.1M384.4 105.3l0.2 0.4M357.2 49.0l0.3 0.6M373.6 121.0l0.3 0.4M390.5 64.1l0.3 0.1M403.3 26.7l0.0 0.4M317.0 78.9l0.6 0.3M370.6 131.4l0.5 0.1M354.3 39.5l0.0 0.7M391.8 29.6l-0.1 0.5M357.0 62.0l-0.3 0.4M326.5 71.3l-0.4 0.4M370.9 42.4l0.3 0.6M389.3 29.4l-0.2 0.2M318.6 42.3l-0.2 0.3M388.5 78.9l0.3 0.1M387.6 24.0l-0.7 0.1M384.6 32.6l-0.5 0.5M336.7 31.3l-0.5 0.4M354.6 29.6l-0.5 0.4M332.8 48.7l-0.2 0.6M338.2 79.5l-0.5 0.3M378.8 41.6l-0.2 0.1M365.1 122.0l-0.6 0.3M339.9 57.7l-0.5 0.5M395.1 88.3l0.1 0.5M321.4 56.6l-0.5 0.2M383.0 33.2l-0.3 0.0M388.5 19.3l-0.0 0.3M396.8 88.8l0.3 0.6M372.3 10.3l0.6 0.3M319.3 73.4l-0.2 0.6M393.4 81.5l-0.2 0.5M402.0 71.6l0.1 0.7M340.8 100.2l0.5 0.3M359.2 123.4l-0.4 0.3M360.8 103.9l0.2 0.6M344.7 66.7l0.2 0.0M377.4 58.9l-0.2 0.2M370.4 76.5l-0.5 0.1M345.2 113.2l-0.5 0.0M364.7 123.3l-0.2 0.3M411.1 71.0l-0.2 0.3M320.8 90.5l-0.2 0.2M406.0 87.2l0.3 0.1M350.8 76.8l-0.2 0.0M389.3 113.9l0.3 0.6M331.5 35.0l-0.2 0.2M347.7 95.5l-0.3 0.4M325.4 44.0l0.1 0.4M318.6 70.8l-0.3 0.1M349.5 77.0l0.6 0.3M371.0 92.7l-0.5 0.2M324.5 35.9l0.1 0.3M412.1 92.6l-0.1 0.5M402.1 39.0l0.0 0.4M408.1 98.1l0.1 0.4M367.2 5.2l-0.1 0.3M387.2 47.8l0.5 0.3M386.2 23.9l0.3 0.4M389.1 87.9l0.6 0.3M408.8 51.3l-0.3 0.2M363.8 93.3l-0.3 0.4M377.3 20.2l0.1 0.3M354.3 108.1l0.1 0.2M378.6 29.5l0.2 0.2M370.3 119.6l-0.1 0.2M403.4 44.0l0.0 0.7M353.1 110.4l0.1 0.2M376.5 15.7l-0.2 0.2M364.2 29.5l-0.6 0.3M371.3 89.3l0.3 0.3M374.9 121.5l-0.4 0.5M407.6 83.8l-0.6 0.2M374.9 43.7l0.1 0.5M361.5 100.6l-0.2 0.3M397.2 88.0l-0.1 0.3M403.8 29.0l-0.2 0.4M403.2 40.6l0.2 0.5M356.1 7.8l0.6 0.0M329.6 19.1l0.2 0.2M379.4 47.1l-0.2 0.1M355.1 130.4l0.5 0.2M324.1 85.3l0.1 0.5M404.7 109.0l-0.2 0.2M330.6 71.8l0.5 0.0M412.1 59.1l0.4 0.3M374.1 63.5l-0.0 0.3M362.3 103.1l-0.2 0.4M328.7 50.4l0.1 0.6M343.9 42.5l-0.1 0.6M330.0 62.2l0.5 0.2M375.5 117.5l-0.5 0.4M330.8 68.5l-0.3 0.0M339.4 85.7l-0.1 0.6M401.4 113.2l-0.2 0.4M324.0 34.4l0.2 0.1M382.7 93.0l-0.1 0.2M342.4 116.2l-0.3 0.2M341.0 18.6l0.4 0.1M385.9 96.0l0.1 0.4M366.1 33.5l0.7 0.1M376.4 116.1l-0.2 0.3M366.5 109.7l-0.6 0.1M355.1 106.6l0.5 0.3M358.9 82.1l0.1 0.4M364.0 16.4l-0.3 0.0M378.3 29.3l0.2 0.0M387.4 14.4l-0.3 0.0M397.4 48.5l0.3 0.3M348.2 102.9l-0.6 0.1M375.1 83.6l-0.2 0.5M340.8 63.3l-0.6 0.1M325.6 54.2l0.1 0.2M341.3 67.2l0.5 0.2M357.3 122.7l0.2 0.2M368.8 43.7l-0.1 0.2M338.2 68.3l-0.1 0.3M367.8 64.9l-0.3 0.2M390.2 21.7l0.3 0.0M407.9 65.2l-0.4 0.5M349.3 30.7l-0.1 0.3M396.9 95.5l-0.3 0.2M314.9 59.4l0.1 0.6M353.0 103.5l0.1 0.2M367.7 8.1l0.4 0.5M335.6 78.4l0.6 0.0M363.1 91.9l-0.5 0.3M398.6 93.5l-0.0 0.5M412.1 67.7l-0.5 0.1M333.5 93.3l-0.2 0.3M344.2 53.4l-0.0 0.3M407.7 79.0l-0.1 0.4M325.5 80.0l-0.2 0.7M361.4 119.4l0.1 0.2M388.1 57.4l0.4 0.5M406.7 37.0l-0.5 0.1M415.8 68.5l0.1 0.4M374.6 70.5l-0.5 0.0M354.7 121.4l-0.5 0.2M380.0 30.9l-0.3 0.2M323.3 26.3l-0.6 0.3M376.3 20.9l0.1 0.4M361.7 89.2l0.5 0.2M372.4 97.8l-0.0 0.5M356.0 115.9l0.2 0.1M382.6 65.8l0.1 0.4M360.6 89.2l0.2 0.5M364.2 96.5l0.1 0.4M355.3 23.2l0.1 0.4M401.9 54.2l0.2 0.0M320.3 93.2l0.4 0.2M375.1 42.2l-0.2 0.6M384.4 42.2l0.1 0.7M354.7 20.1l-0.4 0.6M345.0 92.9l0.2 0.0M381.0 129.3l0.2 0.1M353.9 16.2l-0.7 0.0M369.5 25.1l0.1 0.5M325.2 28.1l0.3 0.6M391.5 50.7l0.1 0.3M342.5 34.0l-0.2 0.5M394.1 75.3l0.2 0.2M388.1 103.1l-0.6 0.1M343.8 81.8l-0.1 0.3M365.3 109.5l0.1 0.4M398.9 41.5l0.1 0.4M325.3 75.7l-0.1 0.2M359.1 83.3l-0.4 0.5M314.0 54.9l-0.2 0.4M382.7 27.2l0.3 0.2M383.4 53.9l0.0 0.3M371.9 62.6l-0.6 0.0M360.6 5.3l-0.7 0.2M396.1 33.7l-0.1 0.3M370.8 125.4l-0.3 0.3M385.9 44.2l-0.4 0.3M354.5 39.5l0.1 0.3M326.8 59.5l-0.2 0.6M366.8 58.5l-0.1 0.2M367.3 106.7l-0.2 0.2M333.8 92.0l-0.4 0.6M322.7 34.4l-0.4 0.3M381.3 115.0l0.1 0.5M344.5 121.5l0.2 0.6M382.3 126.8l-0.3 0.4M357.3 5.5l-0.2 0.2M334.4 71.4l-0.5 0.3M342.5 117.0l0.6 0.0M351.1 79.9l0.1 0.3" stroke="#d2687a"/><path d="M377.0 101.5l0.1 0.4M393.7 23.6l0.2 -0.4M327.8 24.7l0.3 -0.4M345.3 112.1l0.4 0.1M399.1 67.0l0.4 -0.0M348.4 56.6l0.3 -0.1M387.2 85.7l0.1 -0.2M318.7 47.8l0.1 0.3M353.3 34.0l0.2 0.3M384.8 45.2l0.5 -0.0M348.4 107.8l0.3 0.2M365.4 73.3l0.3 0.5M328.4 104.2l0.4 0.4M355.0 49.1l0.1 -0.2M398.9 58.5l0.3 0.1M351.3 66.0l0.1 -0.2M368.3 46.0l0.3 0.1M361.5 97.0l0.1 0.2M354.7 45.1l0.3 -0.0M381.9 130.8l0.0 -0.2M322.7 40.4l0.4 0.2M357.0 26.7l0.1 0.2M334.3 113.6l0.0 0.5M352.0 20.0l0.3 -0.2M322.3 81.8l0.1 0.3M349.8 114.1l0.1 0.4M374.3 79.1l0.2 -0.1M330.3 68.0l0.3 0.1M347.1 102.8l0.0 -0.2M371.7 90.1l0.1 0.4M412.3 88.6l0.0 0.2M383.4 25.1l0.2 0.4M408.2 67.9l0.0 -0.3M400.1 62.0l0.2 0.5M365.3 56.0l0.1 -0.3M324.5 67.0l0.2 -0.2M318.1 35.3l0.4 -0.1M362.7 35.7l0.3 0.4M357.1 111.5l0.1 0.4M398.6 53.3l0.0 -0.2M399.7 60.4l0.0 0.2M348.7 46.9l0.5 0.1M375.3 86.8l0.2 0.2M359.2 60.6l0.4 0.4M384.1 29.9l0.1 0.2M332.6 39.5l0.3 0.1M397.8 111.2l0.1 0.2M392.0 66.2l0.2 0.0M384.9 92.0l0.2 0.2M392.2 97.8l0.1 0.3M332.5 71.7l0.4 -0.4M351.0 102.9l0.3 -0.3M320.7 94.6l0.2 0.2M371.0 113.6l0.2 0.2M375.2 34.9l0.1 -0.5M385.9 114.7l0.1 -0.2M396.9 97.6l0.1 0.4M399.1 28.5l0.3 -0.4M350.7 41.4l0.4 0.3M354.0 128.7l0.2 -0.1M381.3 47.3l0.4 -0.3M321.4 88.6l0.3 -0.1M342.3 76.1l0.1 -0.3M370.9 78.1l0.1 0.1M400.6 81.7l0.1 0.3M376.5 31.8l0.1 -0.2M384.0 39.0l0.3 -0.2M344.2 84.3l0.3 -0.5M365.7 55.0l0.1 0.2M332.8 34.5l0.3 0.0M342.9 41.2l0.0 0.3M396.3 122.2l0.1 -0.3M382.3 53.3l0.3 -0.2M324.2 90.3l0.3 -0.4M337.2 24.6l0.3 -0.0M374.2 63.5l0.2 0.3M358.6 85.3l0.2 -0.4M346.0 81.9l0.5 -0.0M345.8 119.9l0.3 -0.1M312.2 67.4l0.0 0.3M352.5 15.9l0.2 0.4M358.3 94.4l0.4 -0.3M360.5 27.7l0.3 -0.4M393.2 86.1l0.4 0.2M380.1 61.5l0.0 0.4M350.0 14.0l0.0 -0.3M405.2 54.6l0.1 -0.3M407.6 77.6l0.3 0.3M336.9 93.6l0.2 -0.3M385.6 64.7l0.1 0.4M368.2 25.5l0.5 -0.1M321.0 71.1l0.2 -0.0M318.2 46.1l0.4 -0.2M384.1 18.7l0.1 -0.4M400.6 81.4l0.3 -0.1M346.7 30.3l0.2 -0.0M384.8 62.7l0.0 -0.2M358.8 90.4l0.3 -0.1M355.6 127.9l0.0 -0.2M317.9 86.2l0.2 0.1M402.5 26.2l0.3 -0.2M346.5 86.5l0.3 -0.1M391.4 99.7l0.2 -0.1M384.8 44.6l0.2 -0.5M399.0 90.8l0.4 -0.0M321.6 76.6l0.3 -0.1M333.6 63.2l0.1 -0.2M393.9 65.1l0.1 -0.5M382.1 15.2l0.1 0.1M344.2 55.2l0.5 0.2M373.5 32.8l0.2 -0.1M380.6 31.4l0.2 -0.4M350.6 114.7l0.3 0.1M370.4 28.1l0.0 0.2M369.5 29.1l0.4 -0.3M388.0 104.6l0.1 0.3M345.2 105.2l0.0 -0.6M407.9 66.2l0.2 -0.2M320.4 77.4l0.4 0.0M393.6 75.3l0.5 -0.3M340.0 60.6l0.0 -0.4M356.9 92.0l0.0 -0.2M401.2 81.7l0.1 -0.1M355.9 72.6l0.2 0.1M352.6 77.8l0.2 -0.1M339.4 88.3l0.0 -0.5M321.2 72.8l0.3 0.3M361.0 77.5l0.1 -0.1M320.8 56.7l0.1 -0.3M378.0 28.5l0.3 0.2M389.6 60.6l0.2 -0.1M391.7 58.1l0.3 0.1M398.4 46.1l0.3 0.3M346.2 54.4l0.2 0.1M364.1 103.4l0.2 -0.2M382.2 132.7l0.0 -0.3M350.6 36.6l0.1 -0.4M385.7 52.8l0.3 0.3M371.8 81.2l0.3 -0.4M373.4 86.0l0.2 0.5M333.1 75.2l0.1 0.2M385.8 26.9l0.1 -0.2M331.5 90.2l0.0 -0.3M360.1 122.0l0.4 0.2M389.5 38.2l0.3 -0.1M337.9 24.0l0.2 0.3M336.9 86.4l0.1 0.4M355.7 64.4l0.3 0.3M363.2 55.4l0.3 -0.2M350.4 64.7l0.2 0.4M323.2 91.7l0.2 0.5M392.1 48.5l0.5 -0.2M366.1 50.4l0.1 -0.5M403.5 26.5l0.2 -0.5M330.3 60.7l0.1 0.4M388.8 98.6l0.3 -0.0M391.9 28.6l0.2 -0.3M346.5 95.4l0.3 0.3M367.7 105.8l0.3 -0.1M369.3 48.5l0.1 -0.1M364.7 120.9l0.0 -0.2M387.4 115.8l0.5 -0.2M378.5 98.4l0.4 0.3M366.5 80.8l0.3 -0.4M355.9 70.1l0.2 0.2M362.0 121.2l0.5 0.2M320.1 78.1l0.2 0.5M387.5 66.5l0.3 0.0M324.4 65.3l0.1 -0.2M319.2 47.2l0.1 -0.5M406.8 70.3l0.1 -0.3M320.5 80.6l0.2 -0.4M327.5 42.5l0.1 -0.1M331.5 95.0l0.0 0.3M360.2 73.0l0.2 0.2M355.7 35.5l0.5 -0.2M385.2 50.7l0.1 -0.2M324.7 102.9l0.2 0.4M408.8 93.7l0.4 -0.1M329.5 103.2l0.2 -0.3M385.3 33.3l0.2 -0.4M387.9 30.6l0.0 -0.2M379.7 44.9l0.4 -0.1M363.1 25.1l0.1 0.4M341.1 81.3l0.5 0.1M388.8 26.5l0.2 -0.2M355.5 108.4l0.1 -0.3M411.8 94.6l0.3 0.3M330.2 65.1l0.4 -0.0M385.7 36.2l0.4 0.2M335.4 22.4l0.3 -0.2M407.7 69.2l0.1 0.5M338.5 73.0l0.3 -0.4M346.8 113.7l0.1 -0.2M383.4 83.1l0.4 -0.4M379.1 82.9l0.1 0.2M387.4 17.1l0.3 0.3M398.4 38.2l0.1 -0.3M384.6 85.5l0.1 -0.3M356.8 29.6l0.3 0.1M385.9 26.8l0.1 0.1M390.6 53.1l0.1 -0.3M335.5 16.4l0.2 -0.0M322.0 85.5l0.2 0.1M379.2 53.7l0.2 0.1M404.9 102.9l0.2 0.1M321.6 60.2l0.2 -0.3M391.0 30.1l0.4 0.2M356.5 5.0l0.0 -0.4M368.3 129.7l0.1 -0.2M406.7 92.9l0.4 0.1M399.7 37.2l0.3 -0.3M379.5 48.0l0.2 -0.2M376.4 75.3l0.4 0.0M365.7 87.7l0.3 -0.4M414.5 83.1l0.2 -0.3M334.2 88.3l0.1 0.4M357.9 65.2l0.1 -0.4M321.7 71.0l0.1 -0.2M348.2 32.8l0.1 -0.4M386.2 59.3l0.1 -0.2M396.4 109.2l0.1 -0.4M369.4 124.4l0.5 0.2M402.5 67.7l0.2 0.1M378.9 68.6l0.4 -0.1M364.9 25.7l0.2 0.5M390.8 35.6l0.2 0.1M372.6 114.0l0.1 -0.3M409.2 69.8l0.3 0.3M347.0 86.3l0.2 -0.3M387.2 36.2l0.3 0.1M381.3 16.0l0.1 -0.4M360.4 12.5l0.5 0.0M365.6 31.7l0.1 -0.3M343.9 29.5l0.1 -0.4M357.0 60.5l0.2 0.2M354.2 114.1l0.2 -0.0M400.3 34.6l0.3 0.3M404.0 98.4l0.2 0.4M357.8 32.6l0.4 0.2M412.9 46.2l0.1 0.4M393.4 24.1l0.1 -0.2M315.6 58.3l0.0 0.4M330.4 79.0l0.4 0.1M358.8 32.9l0.0 -0.3M395.2 40.8l0.2 0.3M375.1 35.8l0.1 -0.2M363.4 58.1l0.3 -0.2M352.2 122.4l0.1 0.3M394.0 51.2l0.2 -0.2M365.6 8.0l0.4 -0.1M346.8 82.9l0.2 0.4M363.8 66.8l0.1 -0.1M364.5 43.3l0.2 0.4M379.1 109.8l0.5 0.1M391.4 62.1l0.4 -0.3M396.6 47.6l0.1 0.5M375.5 127.6l0.2 0.3M347.1 23.2l0.1 -0.4M335.5 81.1l0.2 0.3M367.4 125.0l0.5 -0.1M361.7 102.6l0.1 0.2M355.6 22.8l0.1 0.4M329.0 47.8l0.0 -0.4M360.9 65.3l0.0 -0.4M391.2 104.2l0.4 -0.4M385.8 22.1l0.2 0.0M337.9 50.0l0.4 0.1M337.2 90.2l0.0 -0.4M382.4 68.3l0.3 0.2M365.9 41.4l0.2 0.3M348.3 77.7l0.0 0.2M363.2 113.1l0.1 -0.3M401.2 64.7l0.1 0.1M331.8 101.8l0.3 -0.4M372.3 35.0l0.1 -0.3M342.0 92.8l0.3 -0.3M348.5 120.8l0.1 -0.2M355.8 123.4l0.5 -0.0M361.7 66.5l0.4 -0.2M335.0 73.0l0.3 -0.1M394.9 121.3l0.3 0.0M373.8 14.6l0.3 0.2M413.6 85.0l0.1 -0.4M334.7 55.8l0.1 -0.2M322.0 69.0l0.2 0.2M362.9 32.8l0.3 0.1M380.5 101.4l0.5 0.0M348.3 39.9l0.3 0.3M323.9 86.6l0.3 -0.3M321.7 82.2l0.1 0.2M333.8 33.7l0.4 -0.2M394.5 77.2l0.2 -0.1M351.6 33.5l0.2 -0.1M359.0 128.5l0.3 -0.3M368.5 126.3l0.4 -0.0M401.1 103.7l0.1 -0.3M326.0 70.6l0.5 -0.2M345.8 113.7l0.2 -0.1M336.2 16.8l0.0 -0.5M366.9 122.8l0.2 -0.3M317.4 61.8l0.0 0.2M356.0 104.1l0.3 -0.0M374.7 102.5l0.3 0.4M396.1 103.7l0.0 0.4M340.8 86.7l0.1 -0.4M326.9 82.9l0.2 -0.0M391.3 108.0l0.2 -0.1M369.1 19.7l0.5 -0.1M394.0 67.4l0.2 -0.1M389.4 92.0l0.5 -0.0M339.7 51.1l0.5 0.1M372.0 89.6l0.2 -0.0M336.9 22.8l0.2 -0.5M330.1 50.6l0.3 0.1M351.6 69.5l0.4 0.4M406.2 44.3l0.0 -0.3M374.9 118.9l0.4 -0.2M402.3 110.2l0.3 -0.1M393.1 88.4l0.2 0.5M376.7 120.7l0.3 -0.1M342.4 57.3l0.2 -0.0M374.7 38.6l0.2 -0.0M395.9 122.4l0.5 0.1M354.0 106.4l0.3 -0.4M374.8 62.2l0.2 -0.1M380.5 114.8l0.5 -0.1M391.5 111.2l0.1 0.4M351.0 83.3l0.1 -0.1M391.4 110.2l0.4 -0.4M343.2 17.0l0.1 0.3M345.3 21.0l0.2 0.1M362.1 127.8l0.1 -0.5M319.2 72.9l0.1 0.1M366.5 34.2l0.1 0.2M364.1 43.6l0.5 0.1M386.1 120.2l0.2 -0.1M351.1 50.1l0.3 0.0M365.7 102.9l0.4 -0.1M381.3 17.7l0.2 -0.0M411.2 84.0l0.1 -0.3M387.2 51.0l0.3 -0.4M348.3 26.5l0.1 -0.1M384.1 55.3l0.1 0.3M402.4 95.9l0.1 -0.2M372.9 9.4l0.5 0.1M374.9 39.3l0.2 0.2M368.2 98.7l0.3 -0.1M360.3 11.5l0.6 0.1M378.0 52.6l0.2 -0.5M409.7 53.1l0.3 -0.3M329.3 78.3l0.0 -0.4M347.4 24.4l0.1 0.4M415.0 84.4l0.4 0.0M378.0 58.7l0.2 -0.2M364.5 114.4l0.3 -0.2M377.0 65.2l0.3 0.1M333.6 49.3l0.1 0.4M377.2 62.5l0.3 -0.4M318.7 71.2l0.4 0.1M386.2 123.3l0.3 -0.1M383.8 84.8l0.2 0.1M329.9 69.6l0.3 -0.1M359.9 86.6l0.0 -0.5M364.8 125.4l0.4 -0.0M337.4 88.1l0.3 0.0M328.8 56.8l0.3 0.2M391.9 88.1l0.2 -0.2M341.1 63.5l0.1 0.4M323.3 64.5l0.1 -0.5M329.7 28.6l0.2 0.1M383.8 22.2l0.2 -0.4M400.3 43.6l0.2 -0.1M384.5 70.2l0.0 0.3M402.8 30.2l0.1 0.3M388.8 48.9l0.3 0.3M327.2 27.6l0.2 0.2M349.3 107.3l0.1 -0.2M370.9 32.5l0.2 0.5M392.5 48.9l0.0 0.5M321.2 41.8l0.1 0.2M317.7 50.2l0.2 0.2M350.2 88.3l0.3 -0.3M323.4 68.1l0.4 0.2M349.1 123.0l0.1 -0.3M331.3 79.2l0.4 0.1M413.7 57.5l0.3 0.5M382.1 22.2l0.0 -0.5M318.3 75.9l0.2 0.2M348.9 42.8l0.3 -0.0M390.0 58.8l0.2 -0.4M390.6 106.0l0.0 0.2M380.0 116.8l0.2 -0.5M390.2 124.9l0.2 0.2M398.4 75.4l0.3 0.3M360.2 11.9l0.4 0.4M401.6 36.6l0.3 0.5M386.4 83.4l0.1 0.4M373.0 89.4l0.5 -0.0M411.7 56.1l0.1 0.2M336.9 38.8l0.2 -0.2M368.0 69.9l0.1 -0.3M350.8 62.9l0.4 -0.1M360.7 36.0l0.3 0.2M368.5 80.5l0.1 -0.2M362.4 94.9l0.3 -0.1M403.4 108.2l0.1 -0.3M405.4 62.0l0.4 -0.4M407.2 53.7l0.2 0.5M362.3 27.6l0.0 0.2M392.7 52.0l0.4 -0.1M374.5 19.5l0.4 -0.3M366.1 6.4l0.4 -0.2M350.7 55.3l0.3 -0.2M399.9 84.7l0.3 0.5M335.9 14.8l0.1 0.1M385.0 26.1l0.2 0.4M405.8 48.9l0.1 -0.2M371.2 79.9l0.2 0.3M383.2 74.2l0.1 0.3M380.7 52.3l0.2 -0.1M392.8 82.7l0.2 0.1M322.1 69.8l0.1 -0.5M344.6 23.6l0.3 -0.3M360.4 31.1l0.1 0.4M373.0 18.9l0.1 -0.5M406.8 68.0l0.3 0.2M335.4 18.5l0.2 0.4M334.0 59.6l0.2 0.0M396.1 117.4l0.0 0.5M393.8 73.0l0.0 0.4M360.5 127.3l0.3 -0.0M341.2 101.2l0.2 0.4M373.3 12.2l0.2 -0.0M376.5 15.1l0.2 0.1M377.2 7.1l0.4 0.0M344.4 96.7l0.1 -0.5M343.5 68.3l0.3 -0.1M323.8 82.0l0.1 -0.2M337.6 26.8l0.1 -0.2M321.8 41.0l0.3 0.3M351.6 29.6l0.2 -0.1M339.9 11.0l0.0 -0.4M333.7 33.3l0.3 0.1M374.4 115.9l0.3 -0.1M333.6 58.8l0.1 -0.2M377.4 87.9l0.2 -0.3M399.2 22.1l0.3 -0.3M391.4 15.1l0.2 -0.3M326.1 96.2l0.3 0.2M364.6 43.2l0.5 0.1M367.3 49.8l0.1 0.3M364.3 89.3l0.2 0.4M315.1 48.2l0.5 0.1M381.5 130.8l0.2 -0.0M393.9 62.8l0.4 -0.0M344.0 101.6l0.0 -0.3M406.1 82.9l0.3 0.1M342.5 94.4l0.1 0.5M336.1 23.7l0.0 -0.2M332.6 96.1l0.4 0.0M345.8 96.5l0.3 0.0M359.0 29.0l0.2 0.2M408.4 73.0l0.2 -0.1M385.0 116.4l0.5 -0.1M373.7 21.7l0.3 0.0M366.6 83.8l0.2 -0.3M371.2 73.5l0.4 -0.3M373.0 122.5l0.1 0.5M387.0 54.7l0.2 0.0M395.2 91.7l0.1 -0.2M345.8 36.6l0.2 -0.2M321.5 87.0l0.0 0.2M371.3 20.3l0.2 -0.0M385.0 118.8l0.2 0.2M390.7 35.8l0.2 0.1M321.7 51.0l0.0 -0.2M376.0 122.9l0.1 -0.1M376.2 48.4l0.2 -0.0M331.9 106.5l0.6 -0.0M323.8 98.6l0.1 -0.2M383.2 93.4l0.3 -0.0M346.3 119.3l0.2 0.0M377.5 82.8l0.0 0.4M404.1 58.8l0.2 -0.2M361.3 15.1l0.5 -0.1M375.1 24.8l0.3 -0.4M407.3 85.7l0.2 0.0M388.7 23.2l0.2 -0.2M364.8 39.5l0.1 0.2M384.7 105.7l0.3 -0.2M327.0 53.4l0.4 0.0M357.5 49.6l0.5 -0.2M349.0 97.6l0.0 0.2M366.6 24.7l0.2 0.5M383.9 37.8l0.4 0.3M407.4 109.4l0.2 -0.3M350.6 21.7l0.2 0.3M342.5 40.9l0.1 0.4M393.2 32.3l0.2 -0.4M362.8 72.7l0.0 -0.3M341.9 114.1l0.2 0.5M390.8 64.2l0.1 -0.2M349.2 119.6l0.3 -0.2M331.0 25.2l0.4 0.0M393.0 44.5l0.0 -0.2M341.6 80.2l0.0 -0.5M317.6 79.2l0.2 -0.4M371.0 30.7l0.5 -0.1M316.2 57.5l0.1 0.3M363.4 129.1l0.3 0.2M394.1 30.9l0.1 0.2M347.6 89.2l0.2 -0.4M354.4 40.2l0.5 -0.0M391.7 30.1l0.4 0.1M335.7 53.7l0.1 -0.4M357.9 87.9l0.1 -0.1M347.6 51.5l0.2 -0.3M405.6 33.4l0.1 0.3M356.7 62.5l0.4 0.3M408.4 37.6l0.4 -0.0M406.2 53.6l0.2 0.5M331.7 107.7l0.4 -0.1M349.6 98.4l0.1 0.2M372.8 96.2l0.5 -0.3M370.2 42.1l0.2 -0.2M361.3 115.9l0.2 0.5M336.4 91.0l0.0 0.5M371.2 42.9l0.4 -0.2M360.2 22.9l0.3 0.0M356.0 50.0l0.0 0.5M401.5 37.0l0.4 0.2M349.6 80.6l0.2 0.3M349.7 70.4l0.4 0.1M358.7 14.4l0.2 -0.2M333.1 86.6l0.3 -0.2M346.8 102.1l0.2 0.1M330.8 104.9l0.1 -0.4M340.6 28.7l0.1 0.5M384.2 33.1l0.4 0.4M407.7 109.8l0.1 -0.4M378.5 115.1l0.1 -0.5M354.6 101.1l0.1 -0.4M352.5 120.1l0.2 -0.4M369.4 42.5l0.3 0.1M372.2 118.3l0.2 -0.0M374.3 39.6l0.1 0.4M394.8 57.8l0.3 0.3M351.5 81.3l0.3 0.2M376.2 47.5l0.3 0.3M362.4 40.6l0.3 0.3M323.7 49.1l0.3 -0.0M371.5 117.7l0.3 0.2M394.0 120.7l0.0 -0.4M335.8 77.3l0.3 0.3M320.7 40.8l0.4 -0.1M355.4 24.3l0.1 0.2M334.8 34.5l0.6 -0.0M339.4 58.2l0.4 0.4M395.2 88.8l0.4 -0.1M320.9 56.8l0.2 0.4M382.7 33.3l0.0 0.2M397.1 89.3l0.4 -0.3M327.1 49.8l0.3 -0.2M372.9 10.5l0.2 -0.5M365.1 21.0l0.3 0.3M320.1 80.1l0.3 -0.4M393.2 82.0l0.4 0.1M355.1 64.7l0.4 -0.1M398.5 70.9l0.2 -0.0M317.4 72.5l0.3 -0.1M372.1 44.6l0.4 0.0M402.1 72.3l0.5 -0.1M329.5 76.5l0.5 0.1M341.3 100.6l0.3 -0.4M343.6 92.2l0.0 0.2M340.5 17.0l0.2 0.2M393.3 50.0l0.1 -0.3M337.3 13.8l0.1 0.1M332.5 16.2l0.5 0.1M358.8 123.7l0.3 0.3M355.8 22.0l0.3 -0.2M332.1 86.6l0.3 0.5M338.4 97.5l0.0 -0.3M374.5 128.0l0.0 0.2M341.7 109.0l0.1 -0.4M344.9 66.8l0.0 -0.2M411.9 87.5l0.5 -0.2M377.1 59.0l0.1 0.2M369.9 76.6l0.1 0.4M323.6 62.2l0.4 0.0M364.6 123.6l0.2 0.1M408.8 68.8l0.2 0.1M394.5 68.8l0.1 0.2M352.7 27.0l0.4 -0.2M400.3 37.1l0.2 0.3M344.3 28.0l0.0 -0.5M328.7 73.7l0.1 -0.4M341.8 72.3l0.3 0.3M320.6 90.7l0.2 0.2M406.3 87.2l0.1 -0.2M348.5 43.6l0.3 -0.4M364.7 63.1l0.2 -0.1M374.0 101.8l0.3 -0.3M350.6 76.9l0.0 0.2M371.1 115.0l0.3 0.3M373.1 49.6l0.1 0.4M335.5 42.0l0.3 0.3M411.1 84.2l0.4 -0.4M386.1 128.2l0.4 0.3M321.5 62.1l0.1 0.1M342.9 48.5l0.3 0.3M401.8 105.8l0.1 -0.3M367.0 58.0l0.2 0.2M401.1 103.0l0.0 0.2M389.6 114.5l0.5 -0.2M369.0 62.1l0.1 -0.4M380.5 14.7l0.0 0.5M403.0 42.2l0.3 0.0M378.5 106.3l0.2 0.3M395.4 109.8l0.3 -0.3M364.0 39.0l0.4 -0.1M347.4 95.9l0.3 0.2M355.7 115.3l0.3 0.1M325.5 44.4l0.3 -0.1M383.4 28.8l0.4 -0.2M402.3 22.5l0.0 -0.4M393.2 125.0l0.1 -0.2M353.6 56.6l0.3 0.1M340.8 79.6l0.1 0.3M414.0 55.3l0.1 0.2M395.3 96.5l0.0 0.2M383.4 119.0l0.2 0.1M364.2 35.8l0.1 0.2M370.5 92.8l0.1 0.4M324.6 36.2l0.3 -0.1M322.5 48.8l0.3 0.3M412.0 93.1l0.4 0.1M333.6 107.1l0.2 -0.2M350.1 27.1l0.4 -0.3M402.8 89.5l0.5 0.3M313.0 62.3l0.2 -0.0M377.2 48.6l0.2 0.0M364.6 62.7l0.0 0.3M343.1 114.4l0.2 -0.3M344.4 91.0l0.5 0.2M406.7 102.6l0.2 -0.1M387.6 48.1l0.2 -0.4M366.0 24.0l0.4 0.0M320.6 71.3l0.5 -0.3M413.4 80.0l0.5 -0.1M390.1 23.7l0.3 0.2M380.5 42.6l0.2 0.1M386.5 24.3l0.3 -0.3M321.7 91.5l0.4 0.1M355.5 37.4l0.1 0.5M338.3 107.9l0.1 -0.2M389.7 88.2l0.2 -0.5M365.3 15.8l0.3 0.2M372.1 52.1l0.3 -0.0M360.2 104.6l0.2 -0.2M318.1 37.4l0.2 0.0M350.9 54.5l0.4 -0.4M361.6 11.4l0.4 0.4M349.0 25.7l0.1 0.2M332.7 50.8l0.2 -0.3M378.8 29.7l0.2 -0.2M397.0 111.7l0.2 0.4M360.2 27.3l0.5 -0.1M325.3 80.2l0.0 0.4M392.6 23.0l0.4 -0.1M385.0 105.4l0.1 -0.1M327.2 98.5l0.3 0.4M345.0 17.0l0.1 -0.4M358.6 115.2l0.4 0.3M321.3 92.1l0.5 0.0M323.6 83.0l0.2 0.1M397.4 79.0l0.1 -0.2M324.0 40.6l0.4 -0.1M374.4 100.0l0.2 0.1M375.2 99.4l0.3 0.2M337.6 33.3l0.4 -0.0M337.8 116.8l0.3 0.0M385.1 119.7l0.2 0.1M335.9 14.8l0.3 -0.1M395.4 96.6l0.4 -0.1M344.3 28.2l0.1 -0.4M391.0 16.1l0.5 -0.1M352.9 68.4l0.0 0.3M352.1 18.9l0.5 0.0M339.5 19.6l0.2 -0.3M352.3 78.8l0.3 -0.1M342.2 70.2l0.3 0.1M338.5 99.8l0.2 -0.0M356.5 110.3l0.6 0.0M363.6 29.8l0.2 0.5M329.1 20.7l0.1 0.4M354.5 122.4l0.1 -0.3M349.8 68.5l0.0 -0.2M374.5 122.0l0.4 0.3M353.9 59.2l0.1 -0.2M386.9 48.4l0.3 -0.1M342.3 86.5l0.2 -0.4M339.0 98.4l0.2 -0.4M407.0 83.9l0.1 0.5M364.3 50.3l0.1 -0.3M396.3 94.6l0.1 0.2M344.4 76.6l0.0 0.3M409.1 91.9l0.1 0.4M411.3 93.3l0.5 0.1M315.9 47.4l0.3 0.3M361.2 100.9l0.2 0.2M397.6 43.9l0.3 0.1M390.9 53.5l0.1 0.3M381.4 60.7l0.4 0.2M366.3 124.0l0.0 -0.2M342.3 110.7l0.0 -0.3M350.8 116.6l0.0 -0.3M366.5 14.0l0.4 -0.3M335.7 51.6l0.0 0.4M399.1 79.5l0.0 -0.2M342.1 76.5l0.5 -0.1M328.3 39.2l0.0 -0.3M392.6 83.6l0.3 0.3M364.5 36.7l0.1 -0.4M395.2 107.5l0.3 -0.2M368.2 114.5l0.2 0.0M357.8 120.7l0.4 0.1M335.2 38.5l0.2 0.0M374.3 55.7l0.4 0.3M403.4 41.1l0.4 -0.2M320.3 90.0l0.1 0.2M329.8 19.3l0.2 -0.2M347.4 8.0l0.4 0.4M345.1 116.1l0.4 -0.2M331.8 88.6l0.3 -0.4M329.5 55.6l0.3 -0.1M316.1 50.3l0.2 0.3M404.1 85.1l0.1 0.1M383.3 119.3l0.1 -0.2M352.8 41.2l0.5 -0.3M324.2 85.8l0.4 -0.1M378.1 36.0l0.0 -0.4M331.6 63.3l0.1 -0.2M345.8 91.7l0.2 0.4M412.6 59.3l0.2 -0.3M361.8 92.7l0.1 0.3M374.1 63.8l0.3 0.0M362.1 103.5l0.3 0.1M349.0 52.6l0.1 -0.5M379.6 63.8l0.3 0.1M395.1 113.6l0.2 0.2M389.7 87.4l0.5 -0.3M392.2 86.0l0.0 0.2M360.9 91.1l0.3 -0.0M394.9 37.5l0.1 -0.2M340.1 38.4l0.3 -0.2M362.0 85.4l0.2 -0.4M351.1 117.9l0.1 0.1M387.0 44.7l0.2 -0.4M324.0 78.3l0.1 -0.1M361.1 47.3l0.1 -0.4M349.9 110.2l0.3 -0.0M410.2 57.5l0.0 -0.3M330.3 32.6l0.1 0.3M373.9 117.9l0.4 0.2M332.9 103.2l0.1 -0.4M330.5 62.5l0.2 -0.4M318.2 48.4l0.1 0.3M342.5 66.0l0.1 0.1M346.8 36.7l0.3 0.2M330.8 18.5l0.5 -0.1M375.0 117.9l0.3 0.4M365.0 20.6l0.3 -0.1M336.9 67.2l0.3 0.3M324.4 37.2l0.1 0.4M330.5 68.6l0.0 0.2M371.5 75.4l0.0 0.2M385.6 73.0l0.2 -0.2M388.2 122.4l0.4 -0.1M357.2 52.1l0.1 0.2M314.5 76.5l0.3 -0.2M399.6 68.0l0.1 0.4M339.0 66.3l0.4 -0.1M344.8 112.6l0.0 0.5M373.5 125.2l0.5 0.1M405.2 102.7l0.0 0.2M401.2 113.6l0.3 0.2M353.7 43.0l0.0 -0.2M342.1 116.4l0.1 0.2M386.0 96.4l0.3 -0.1M377.4 113.3l0.4 -0.3M395.1 47.3l0.0 0.3M348.7 36.0l0.3 0.3M394.4 66.6l0.2 -0.1M361.5 54.3l0.4 -0.0M397.6 107.8l0.2 -0.0M397.1 56.8l0.2 0.2M376.2 116.4l0.2 0.2M318.5 88.0l0.0 -0.3M320.8 76.1l0.5 -0.1M355.6 106.9l0.2 -0.4M359.0 82.6l0.4 -0.1M380.2 16.9l0.0 0.2M375.6 80.4l0.4 -0.1M375.8 91.1l0.2 0.0M352.3 56.9l0.3 0.1M405.4 99.6l0.1 -0.2M363.6 9.2l0.1 0.2M343.1 66.6l0.1 -0.2M378.5 29.3l0.0 -0.2M347.6 103.0l0.1 0.5M368.3 7.9l0.1 -0.3M341.2 75.5l0.0 -0.5M375.0 84.1l0.4 0.1M374.2 102.0l0.3 0.3M397.3 24.2l0.1 0.2M343.2 63.7l0.3 -0.1M340.2 63.4l0.1 0.4M387.0 32.7l0.3 0.3M364.3 109.2l0.3 0.1M384.5 123.7l0.0 0.2M339.4 80.7l0.2 -0.4M384.3 68.2l0.0 0.2M325.6 54.4l0.2 -0.0M391.6 78.6l0.2 0.1M329.2 67.2l0.3 -0.5M330.5 23.9l0.2 0.1M339.7 16.8l0.0 0.3M381.2 74.4l0.1 -0.1M341.8 117.0l0.2 0.0M344.0 101.5l0.4 -0.0M368.8 43.9l0.2 0.1M367.5 65.1l0.2 0.3M347.8 10.4l0.2 -0.4M349.2 31.0l0.2 0.1M349.1 31.6l0.2 0.3M396.6 95.6l0.1 0.2M315.0 60.0l0.5 -0.1M343.9 33.7l0.1 0.2M400.5 61.8l0.2 -0.5M381.7 52.1l0.4 -0.2M331.6 19.4l0.4 -0.2M351.6 73.5l0.3 -0.2M376.3 19.0l0.2 -0.2M378.4 98.6l0.4 0.1M365.7 55.6l0.2 -0.0M367.0 67.4l0.0 -0.4M321.6 53.4l0.5 -0.1M356.9 85.4l0.2 0.0M386.7 92.9l0.2 0.0M362.6 92.1l0.2 0.4M347.0 96.1l0.2 0.2M350.7 113.4l0.3 0.1M363.5 74.8l0.2 0.4M357.2 69.7l0.3 0.1M398.6 94.0l0.4 0.0M391.9 80.0l0.1 0.4M343.7 82.4l0.2 0.5M368.1 69.5l0.5 -0.1M333.4 93.6l0.2 0.1M375.0 51.4l0.4 0.2M342.1 10.0l0.3 0.1M407.9 66.6l0.0 0.2M390.6 75.3l0.2 -0.3M379.4 55.5l0.1 0.2M344.2 53.7l0.3 0.0M407.6 79.4l0.3 0.1M407.4 40.1l0.2 0.0M325.3 80.6l0.5 0.2M389.0 116.5l0.4 0.2M388.5 57.8l0.4 -0.3M406.2 37.1l0.1 0.4M345.2 65.4l0.4 0.0M378.8 121.6l0.2 0.3M334.9 50.3l0.2 -0.2M366.4 119.5l0.1 -0.4M374.0 70.6l0.0 0.4M354.3 121.6l0.1 0.4M331.1 82.0l0.2 0.1M384.0 126.4l0.2 -0.4M379.8 31.0l0.1 0.2M368.4 80.1l0.0 0.3M398.8 69.3l0.4 0.3M326.5 98.0l0.3 0.3M387.0 24.9l0.3 -0.1M369.3 35.5l0.3 -0.4M395.3 22.1l0.4 0.2M361.3 92.8l0.0 -0.3M328.2 67.4l0.0 -0.4M390.5 42.1l0.2 0.3M373.0 95.4l0.3 -0.3M320.0 56.1l0.3 -0.0M356.0 116.0l0.2 -0.0M333.4 29.1l0.2 0.0M344.5 70.8l0.1 -0.2M376.3 21.4l0.3 -0.1M362.2 89.4l0.2 -0.4M379.1 70.5l0.3 -0.0M356.7 30.8l0.3 -0.4M372.3 98.3l0.4 0.0M332.1 95.0l0.3 -0.4M349.9 89.7l0.5 -0.2M356.2 116.0l0.1 -0.2M349.9 12.5l0.3 -0.2M336.5 45.0l0.0 -0.3M355.4 23.6l0.3 -0.1M377.8 105.5l0.4 0.1M382.9 93.2l0.2 -0.1M372.5 28.1l0.3 0.4M364.3 65.2l0.4 -0.0M367.5 48.2l0.2 -0.1M376.9 115.3l0.2 -0.4M364.7 105.8l0.2 0.3M312.1 63.7l0.1 0.4M397.2 27.5l0.3 0.2M361.8 16.7l0.2 -0.1M369.1 65.1l0.3 -0.4M383.6 25.5l0.3 -0.0M319.7 75.9l0.1 -0.5M325.0 34.8l0.0 -0.2M320.8 93.3l0.1 -0.3M335.6 44.1l0.2 -0.1M374.8 42.8l0.5 0.2M346.8 65.6l0.4 0.0M363.3 23.2l0.1 -0.3M384.5 42.9l0.5 -0.1M354.4 20.7l0.5 0.3M391.0 49.3l0.2 0.3M401.5 39.9l0.1 0.3M316.9 60.5l0.3 0.1M388.3 123.6l0.2 0.1M344.8 64.1l0.4 -0.4M396.6 81.4l0.5 0.2M391.4 28.4l0.2 -0.2M337.1 29.0l0.4 0.2M338.1 46.9l0.3 0.2M353.2 16.2l0.0 0.6M369.7 51.1l0.3 -0.0M347.3 122.9l0.1 -0.1M355.5 26.1l0.1 0.1M325.4 28.7l0.5 -0.2M393.2 118.1l0.2 -0.0M392.6 15.6l0.2 -0.2M319.2 46.7l0.1 -0.3M342.4 34.5l0.4 0.1M394.3 75.5l0.2 -0.2M387.5 103.2l0.1 0.5M385.2 97.0l0.4 -0.0M365.4 109.9l0.3 -0.1M325.2 75.9l0.2 0.1M358.2 13.4l0.1 -0.2M313.8 55.3l0.3 0.1M370.8 84.8l0.4 0.2M382.9 27.3l0.1 -0.2M392.5 95.9l0.1 0.2M390.8 88.1l0.3 -0.2M383.4 54.2l0.2 -0.0M393.8 15.4l0.1 -0.2M371.3 62.6l0.0 0.5M361.0 69.9l0.0 0.3M357.6 95.8l0.2 -0.1M342.3 73.6l0.1 -0.4M381.9 48.2l0.0 0.4M396.0 34.0l0.2 0.1M400.0 39.7l0.5 -0.2M386.6 40.1l0.5 -0.0M344.6 20.8l0.0 0.2M323.4 87.2l0.2 -0.2M335.4 26.0l0.4 0.0M392.5 72.5l0.5 -0.2M374.8 92.4l0.1 0.5M315.7 50.3l0.4 -0.3M370.5 125.7l0.2 0.3M402.6 115.9l0.4 -0.1M385.5 44.5l0.2 0.3M372.9 31.8l0.5 -0.0M315.9 63.7l0.3 0.4M406.8 75.0l0.1 0.5M377.2 116.1l0.2 -0.5M377.6 45.7l0.3 -0.2M354.5 39.7l0.2 -0.0M351.8 116.5l0.2 -0.4M326.6 60.1l0.5 0.2M379.9 124.4l0.4 0.2M320.9 54.3l0.5 0.1M359.0 29.4l0.3 0.0M402.5 42.4l0.4 -0.2M352.0 93.1l0.2 -0.1M354.1 30.3l0.2 0.4M380.5 36.4l0.3 0.3M322.3 34.7l0.3 0.4M356.9 89.6l0.5 0.1M345.3 26.4l0.2 0.1M381.4 115.6l0.4 -0.1M375.6 47.1l0.2 -0.1M344.6 122.1l0.5 -0.1M329.8 91.5l0.1 -0.3M359.6 107.5l0.3 0.0M357.1 5.8l0.2 0.2M383.9 79.1l0.5 0.1M408.0 44.0l0.2 0.4M384.8 28.6l0.5 0.3M381.4 35.1l0.3 0.4M359.8 102.6l0.1 -0.5M343.7 102.9l0.1 0.2M367.2 124.9l0.5 -0.2M393.7 94.3l0.4 0.1M337.7 100.3l0.1 0.2M346.7 91.1l0.1 -0.2" stroke="#bcc2ca"/></g>
<g transform="translate(276.2,-0.3)"><use href="#prot"/></g>
<g stroke-width="1.1" stroke-linecap="round" fill="none" opacity="0.85"><path d="M324.3 33.7l-0.6 0.3M364.1 78.8l0.3 0.1M327.6 97.9l-0.4 0.2M333.7 20.4l0.0 0.2M347.4 33.0l0.3 0.2M393.0 93.5l0.4 0.4M354.9 122.5l0.3 0.5M351.4 46.1l0.3 0.1M332.2 36.6l0.1 0.4M349.1 90.8l-0.0 0.6M399.3 93.2l0.3 0.3M394.5 61.9l-0.3 0.2M349.0 64.2l0.1 0.6M364.7 21.1l0.7 0.0M330.1 104.0l-0.1 0.2M365.5 44.2l0.2 0.0M391.0 26.4l0.0 0.2M387.7 47.7l0.3 0.0M349.5 53.6l-0.6 0.3M402.6 53.4l-0.3 0.2M367.8 69.1l-0.1 0.2M331.6 72.3l0.3 0.1M318.8 35.7l0.1 0.4M360.1 28.6l-0.3 0.3M334.9 79.0l0.5 0.1M383.2 35.0l-0.1 0.2M350.8 34.7l-0.5 0.2M329.6 54.6l-0.2 0.2M400.4 113.9l-0.5 0.2M364.4 54.7l0.5 0.3M372.2 71.1l-0.4 0.1M371.3 19.4l-0.3 0.4M322.1 76.0l-0.3 0.1M345.4 28.3l0.5 0.2M369.6 112.1l-0.3 0.1M412.8 76.5l0.4 0.3M406.3 92.2l0.2 0.2M359.2 6.6l-0.4 0.4M326.5 45.8l-0.4 0.1M383.3 26.8l0.2 0.3M360.3 45.2l0.6 0.1M383.4 126.2l-0.6 0.3M328.6 70.3l-0.5 0.3M336.0 37.8l-0.1 0.2M365.8 25.1l-0.0 0.5M363.8 57.5l0.7 0.1M329.4 57.7l0.3 0.6M379.1 29.9l-0.2 0.1M350.8 110.9l0.2 0.2M325.7 86.7l-0.5 0.1M385.0 68.5l-0.6 0.2M404.1 75.0l-0.6 0.2M360.5 23.6l0.1 0.3M335.0 91.5l0.5 0.3M385.4 98.9l0.6 0.1M403.1 33.5l-0.2 0.2M357.3 53.1l0.5 0.0M376.3 58.7l0.2 0.1M386.4 108.8l0.3 0.1M343.7 18.6l-0.2 0.4M381.2 49.0l-0.2 0.5M410.8 80.7l0.1 0.2M389.9 113.9l0.1 0.4M357.0 55.2l0.3 0.0M373.8 108.3l-0.3 0.1M385.1 25.9l-0.3 0.2M383.4 113.5l0.4 0.2M415.2 71.8l0.4 0.5M410.1 99.0l-0.6 0.1M377.5 24.5l0.3 0.0M394.4 70.9l-0.1 0.7M383.4 40.9l0.3 0.0M343.5 62.4l0.2 0.2M384.7 73.1l0.3 0.4M388.1 70.8l-0.3 0.3M384.6 74.0l-0.3 0.0M381.8 11.1l0.0 0.2M321.8 81.7l0.1 0.5M349.5 35.3l0.2 0.4M315.2 79.5l0.5 0.3M411.3 71.8l-0.1 0.6M405.4 98.0l0.6 0.2M323.2 63.3l0.2 0.2M377.3 19.5l0.3 0.2M395.3 68.7l0.2 0.0M323.8 63.4l-0.0 0.5M407.6 28.5l0.5 0.0M354.6 45.9l-0.2 0.2M388.1 30.7l-0.0 0.4M404.0 97.5l-0.2 0.5M384.8 12.4l-0.3 0.0M386.9 121.7l0.3 0.4M383.9 19.4l-0.3 0.5M347.4 39.9l0.3 0.0M360.9 105.4l0.1 0.3M411.8 100.8l0.3 0.1M360.9 27.7l0.0 0.4M404.1 114.5l-0.2 0.2M327.2 46.5l-0.6 0.3M393.3 119.7l0.4 0.3M337.7 108.6l-0.3 0.1M360.0 49.5l0.3 0.5M353.6 90.1l-0.2 0.7M393.4 54.1l-0.3 0.3M330.7 62.6l0.6 0.3M380.3 39.4l-0.1 0.2M347.8 114.3l0.1 0.6M377.0 113.7l0.0 0.5M327.9 43.2l-0.4 0.0M318.1 61.7l0.6 0.2M371.5 7.4l-0.4 0.5M335.9 59.2l-0.1 0.4M407.1 33.2l-0.1 0.2M331.7 59.8l-0.2 0.5M369.2 81.3l0.1 0.4M391.2 116.2l-0.2 0.5M318.4 42.0l-0.4 0.4M402.4 104.0l0.3 0.0M357.0 69.7l0.2 0.3M383.7 81.1l-0.5 0.4M335.2 24.7l-0.2 0.1M350.1 63.0l0.2 0.3M345.3 53.9l-0.0 0.3M382.7 58.4l0.2 0.1M327.7 41.7l-0.6 0.3M401.7 46.5l0.4 0.3M384.2 67.2l0.4 0.3M327.0 25.3l-0.3 0.1M317.6 72.0l-0.6 0.1M365.9 58.8l-0.4 0.2M371.0 23.0l-0.4 0.4M347.3 118.4l0.3 0.1M360.8 16.1l-0.6 0.2M380.7 31.5l-0.6 0.4M389.7 63.5l0.5 0.1M332.1 51.9l0.2 0.0M344.6 44.3l-0.1 0.3M379.0 90.1l0.6 0.1M337.7 23.2l0.1 0.6" stroke="#cf5a6e"/><path d="M375.5 46.8l-0.3 0.5M331.5 32.1l-0.6 0.2M382.4 24.9l0.2 0.2M339.5 19.2l-0.2 0.2M359.5 51.7l-0.1 0.4M344.4 64.2l0.2 0.4M396.9 69.3l0.7 0.0M338.7 44.9l0.4 0.3M404.2 92.7l-0.2 0.2M340.2 19.4l0.4 0.0M380.1 64.1l0.6 0.2M379.2 45.3l-0.0 0.2M317.1 72.3l-0.4 0.2M353.9 97.7l-0.2 0.3M337.2 80.1l-0.3 0.2M393.4 36.5l0.1 0.2M357.7 65.1l0.0 0.4M374.5 10.4l-0.3 0.6M316.4 81.5l-0.1 0.3M412.0 88.6l-0.1 0.4M408.9 105.1l-0.4 0.4M335.8 110.1l0.4 0.1M397.2 104.8l-0.1 0.3M403.2 94.6l0.4 0.1M360.4 61.6l-0.1 0.2M394.9 75.7l0.5 0.4M400.2 65.2l0.5 0.4M356.7 95.0l-0.1 0.6M381.1 127.3l-0.2 0.2M394.7 101.1l0.1 0.2M397.6 65.3l-0.4 0.1M326.8 33.8l0.7 0.1M326.4 78.9l-0.2 0.1M400.6 19.7l-0.7 0.2M402.3 116.9l0.1 0.3M389.5 124.5l0.3 0.1M360.1 97.3l0.3 0.0M354.1 56.0l0.3 0.3M333.9 19.7l-0.0 0.2M328.1 71.2l0.2 0.2M326.9 41.4l-0.3 0.6M367.6 24.7l0.3 0.0M348.2 26.2l-0.2 0.4M396.7 103.2l-0.1 0.2M408.3 52.3l0.2 0.0M354.3 8.6l-0.1 0.5M411.3 42.7l0.2 0.3M338.2 38.4l-0.3 0.1M398.2 94.1l0.2 0.1M399.3 111.7l0.4 0.5M390.9 126.6l-0.1 0.7M358.1 59.7l0.1 0.4M369.3 51.0l-0.3 0.1M380.4 8.2l-0.3 0.4M371.8 24.2l-0.2 0.6M403.0 111.5l0.2 0.2M371.5 40.3l0.4 0.4M336.7 27.6l-0.2 0.6M326.3 32.5l-0.5 0.2M398.7 60.4l0.1 0.3M362.2 6.4l-0.5 0.1M364.3 21.7l0.6 0.3M350.1 54.3l0.5 0.3M392.2 97.7l-0.1 0.4M363.0 112.0l-0.4 0.3M366.5 22.9l0.2 0.1M351.3 7.7l0.2 0.3M359.9 66.3l-0.5 0.1M409.6 61.7l-0.2 0.3M409.6 64.0l-0.0 0.6M342.1 66.5l-0.1 0.2M383.2 41.1l0.2 0.6M386.6 60.6l0.2 0.5M371.1 26.5l-0.2 0.2M378.0 15.0l-0.3 0.1M362.3 124.3l0.0 0.4M325.6 32.5l0.5 0.3M323.7 57.6l0.1 0.3M368.4 51.3l0.2 0.6M395.6 77.8l-0.3 0.3M341.8 75.5l-0.2 0.2M361.8 120.4l0.3 0.2M372.7 35.4l-0.2 0.2M323.8 71.2l0.4 0.2M384.4 129.5l-0.0 0.2M318.9 57.8l-0.1 0.6M343.5 22.9l0.5 0.2M401.2 83.9l-0.2 0.1M336.2 23.1l-0.2 0.2M409.5 33.2l0.1 0.7M408.2 54.9l-0.3 0.0M396.4 115.6l0.1 0.3M376.3 104.2l0.5 0.4M358.1 56.3l0.4 0.3M353.9 43.4l-0.2 0.2M334.0 47.0l0.0 0.6M333.3 68.6l0.5 0.3M343.0 90.7l-0.3 0.0M358.3 60.7l0.4 0.3M328.9 47.3l0.4 0.4M326.7 60.2l-0.4 0.2M379.5 51.3l-0.3 0.6M374.9 23.7l-0.5 0.1M381.8 126.9l0.2 0.3M329.4 90.0l0.6 0.1M326.0 29.9l-0.6 0.1M372.9 130.7l0.1 0.3M374.7 82.0l0.2 0.2M355.1 44.8l-0.3 0.5M360.7 20.7l0.1 0.4M404.2 90.6l0.7 0.0M357.5 93.4l0.5 0.1M367.6 93.0l0.5 0.1M374.1 48.5l-0.6 0.2M340.9 81.8l-0.2 0.5M382.2 51.9l0.3 0.1M401.2 74.1l-0.5 0.1M322.0 36.1l-0.2 0.1M347.5 90.2l0.1 0.7M410.4 81.8l-0.1 0.5M380.4 39.9l0.2 0.3M363.3 115.7l-0.5 0.4M409.7 83.6l0.2 0.5" stroke="#d8788a"/><path d="M396.9 46.0l0.3 0.3M366.6 74.0l-0.2 0.4M329.5 49.4l0.1 0.2M319.4 44.6l-0.1 0.4M368.6 46.9l-0.1 0.4M380.4 55.0l-0.0 0.3M328.7 21.7l-0.2 0.2M376.9 70.7l0.2 0.5M322.6 43.6l0.4 0.3M397.7 70.1l0.3 0.1M322.1 79.3l-0.1 0.4M387.0 112.0l-0.4 0.4M344.6 25.5l0.3 0.5M406.0 45.6l-0.7 0.2M315.6 54.7l0.2 0.3M405.2 102.0l-0.6 0.3M372.7 127.3l-0.1 0.5M333.9 50.7l-0.2 0.1M365.9 127.7l0.0 0.7M388.3 56.4l-0.2 0.3M352.9 59.8l-0.3 0.1M379.5 62.1l-0.2 0.2M355.2 125.1l-0.3 0.6M385.5 110.4l-0.5 0.0M355.7 122.8l0.3 0.2M363.3 101.6l0.6 0.2M319.8 57.5l-0.3 0.3M334.3 14.3l-0.1 0.2M383.7 119.0l0.0 0.3M333.4 25.2l-0.4 0.0M369.6 19.2l0.2 0.0M400.4 77.6l0.4 0.0M377.0 16.1l0.1 0.4M358.2 107.7l-0.2 0.2M332.9 40.0l0.4 0.1M385.0 111.6l0.6 0.4M352.3 37.0l0.3 0.6M337.5 67.2l-0.4 0.2M345.5 83.8l0.4 0.1M336.1 49.6l-0.3 0.0M407.4 41.3l0.6 0.2M401.4 36.0l-0.2 0.3M380.8 117.1l-0.6 0.0M367.6 24.7l0.2 0.2M385.0 80.9l0.2 0.1M342.7 64.0l-0.2 0.0M376.5 81.5l0.4 0.4M400.9 77.9l-0.3 0.3M405.7 73.5l0.2 0.0M347.0 42.3l0.6 0.3M321.1 70.0l0.3 0.5M328.4 35.7l0.4 0.3M367.8 66.1l-0.6 0.3M413.3 58.6l-0.7 0.1M375.8 21.9l-0.1 0.3M351.9 58.1l-0.0 0.6M365.7 20.1l0.3 0.2M399.7 102.2l0.2 0.0M359.3 26.9l0.0 0.2M343.3 115.6l0.2 0.1M406.4 86.8l-0.2 0.6M363.9 89.9l0.1 0.5M372.8 14.9l-0.5 0.5M377.8 43.5l0.0 0.2M359.0 115.1l0.2 0.3M329.8 65.1l-0.3 0.2M395.9 56.6l0.4 0.2M387.4 101.5l-0.3 0.0M340.8 29.0l-0.2 0.2M335.6 43.9l-0.5 0.3M323.6 75.5l-0.0 0.3M380.5 114.4l-0.2 0.4M372.5 65.6l0.3 0.2M369.2 32.5l0.2 0.3M413.6 73.2l0.0 0.4M346.1 120.9l-0.2 0.1M332.9 81.9l0.2 0.6M336.4 18.8l-0.1 0.4M348.5 12.9l-0.1 0.6M353.4 77.1l0.4 0.2M373.0 34.8l-0.2 0.6M335.4 58.7l-0.4 0.1M356.2 41.4l-0.2 0.2M399.0 119.3l0.2 0.5M348.9 53.6l0.2 0.4M358.3 16.0l-0.5 0.1M335.8 40.7l-0.1 0.5M399.5 30.9l-0.5 0.1M343.8 98.7l-0.2 0.4M345.6 66.2l-0.6 0.0M368.0 26.2l0.1 0.2M319.7 44.8l0.1 0.4M334.7 85.6l0.3 0.2M377.7 67.3l0.2 0.2M350.5 102.5l-0.5 0.2M350.4 24.9l0.3 0.2M342.3 103.7l0.2 0.2M365.8 97.4l0.4 0.2M358.7 88.5l0.4 0.1M364.2 124.4l-0.6 0.3M397.8 58.8l0.5 0.1M394.9 54.9l0.6 0.2M395.8 109.9l0.2 0.4M403.7 81.2l0.0 0.5M373.5 120.2l-0.1 0.4M376.3 38.9l0.3 0.2M395.0 105.6l-0.3 0.2M399.3 105.5l-0.2 0.2M324.3 92.4l-0.4 0.5M361.6 101.6l-0.4 0.5M361.2 10.6l0.6 0.1M337.4 45.3l-0.3 0.6M381.4 112.5l0.4 0.5M320.6 53.8l0.3 0.1M341.4 47.3l-0.1 0.3M353.2 125.0l-0.3 0.1M388.6 121.8l-0.4 0.4M401.2 63.6l0.2 0.2M355.0 58.7l-0.6 0.1M397.2 54.2l-0.2 0.2M332.4 103.7l-0.1 0.5M320.0 51.3l-0.6 0.2M398.5 111.3l-0.2 0.2M414.5 64.4l-0.5 0.0M370.5 124.9l-0.2 0.6M386.6 69.1l0.5 0.3M401.7 39.8l-0.1 0.4M364.0 25.7l0.2 0.2M338.5 36.7l-0.4 0.4M382.5 24.6l0.7 0.2M376.9 31.6l0.4 0.4M336.7 31.4l0.1 0.4M414.6 59.9l0.6 0.2M376.0 27.9l-0.3 0.1M372.0 24.7l-0.6 0.2M342.8 99.6l0.3 0.5M364.7 55.3l0.4 0.1M394.5 103.9l-0.5 0.1M398.3 51.0l-0.5 0.3M369.2 65.7l0.2 0.6" stroke="#c65064"/><path d="M346.6 7.8l0.4 0.0M358.5 107.4l-0.3 0.2M413.1 73.7l0.7 0.1M346.2 61.9l-0.5 0.4M348.0 51.9l-0.5 0.4M369.0 39.1l0.1 0.7M393.1 24.8l-0.4 0.2M374.8 20.0l-0.2 0.6M376.0 86.0l-0.2 0.3M386.1 19.6l-0.2 0.4M339.3 57.3l-0.3 0.0M336.2 96.5l0.4 0.1M344.6 80.9l0.6 0.1M345.5 50.2l-0.4 0.3M359.0 48.2l-0.2 0.1M383.4 60.4l-0.5 0.1M411.4 58.4l-0.2 0.6M372.2 47.1l0.2 0.2M382.9 11.5l-0.2 0.6M371.6 6.1l0.1 0.5M365.0 36.9l-0.5 0.3M400.9 88.0l-0.4 0.0M394.6 65.1l-0.1 0.3M372.2 95.6l-0.4 0.0M393.2 113.4l0.7 0.2M352.4 17.7l0.1 0.2M357.0 20.3l0.3 0.1M371.7 50.6l-0.2 0.1M370.5 130.0l0.4 0.3M355.9 116.2l-0.1 0.5M339.8 51.0l-0.0 0.2M360.3 54.9l-0.5 0.4M362.8 124.3l-0.0 0.6M383.9 54.3l-0.3 0.6M348.0 20.2l-0.4 0.1M371.7 118.7l-0.4 0.4M363.4 50.5l0.4 0.4M371.6 21.4l-0.2 0.4M335.9 31.0l-0.2 0.6M405.4 84.4l0.1 0.3M324.1 51.9l-0.1 0.2M323.5 63.2l0.3 0.2M323.0 80.3l0.2 0.2M381.3 43.8l0.5 0.4M346.5 9.9l0.4 0.4M318.9 56.0l-0.2 0.5M342.9 28.3l-0.4 0.4M338.5 48.8l-0.0 0.5M336.9 32.5l-0.2 0.3M400.6 26.5l0.3 0.6M380.7 36.7l-0.4 0.1M404.3 95.1l-0.4 0.5M345.0 117.1l0.3 0.3M372.9 124.7l-0.1 0.1M322.7 37.8l0.4 0.3M411.1 48.2l-0.5 0.0M317.9 60.3l-0.0 0.5M318.2 84.8l0.1 0.4M349.3 110.2l-0.3 0.0M387.3 38.6l-0.2 0.5M315.0 73.3l0.1 0.3M322.4 34.9l-0.5 0.3M401.4 62.3l0.6 0.0M364.8 72.3l-0.6 0.4M337.0 56.8l0.1 0.3M361.7 9.9l0.6 0.3M399.1 95.6l-0.3 0.6M376.1 126.0l0.3 0.5M382.8 51.1l-0.1 0.2M355.4 97.2l-0.1 0.4M320.9 34.5l-0.3 0.2M412.4 65.1l-0.2 0.4M350.9 64.3l-0.1 0.2M321.8 28.1l0.2 0.4M388.3 46.3l0.2 0.3M409.5 41.6l-0.2 0.3M393.1 38.1l-0.6 0.2M405.0 28.1l-0.1 0.3M394.3 24.7l-0.3 0.1M346.6 20.4l-0.2 0.1M355.7 13.3l-0.4 0.1M394.8 64.5l-0.1 0.3M378.1 127.2l0.4 0.1M366.5 26.1l-0.4 0.5M389.5 17.6l0.2 0.1M339.1 61.2l0.7 0.0M404.2 40.9l0.5 0.2M378.9 41.1l0.2 0.1M330.1 23.5l-0.4 0.2M374.8 129.5l0.3 0.2M390.5 52.4l-0.2 0.1M382.5 11.4l-0.1 0.3M347.4 80.9l0.5 0.5M349.6 109.1l0.2 0.2M321.6 82.1l-0.3 0.3M329.8 101.3l0.5 0.1M336.7 67.0l0.2 0.6M413.2 88.4l0.5 0.0M411.3 92.0l0.3 0.0M398.6 73.6l0.4 0.1M393.8 121.4l0.3 0.1M381.3 18.2l-0.3 0.0M324.9 79.3l0.1 0.4M318.5 45.7l-0.0 0.5M383.5 66.8l0.5 0.5M374.1 35.9l-0.4 0.4M407.8 86.5l0.1 0.6M363.2 28.6l-0.5 0.2M350.1 79.3l-0.4 0.4M403.0 116.6l-0.2 0.6M389.8 120.0l0.1 0.6M377.9 31.5l0.1 0.6M398.6 74.9l0.2 0.0M345.9 68.8l0.3 0.1M330.3 94.2l-0.5 0.2M374.3 54.3l0.3 0.1M326.5 27.0l0.1 0.3M348.1 37.5l0.0 0.7M348.3 75.5l-0.5 0.2M329.5 53.6l0.5 0.0" stroke="#de909c"/><path d="M359.9 52.0l-0.2 0.1M358.7 99.2l0.4 0.2M372.7 122.0l0.2 0.0M353.3 123.4l-0.0 0.6M342.8 40.2l0.4 0.1M355.8 32.9l0.1 0.4M331.3 65.5l-0.0 0.2M374.7 84.2l0.3 0.1M407.2 59.6l0.3 0.4M394.6 91.7l0.3 0.1M348.0 121.1l-0.3 0.0M381.8 47.0l-0.2 0.0M328.0 21.3l0.4 0.3M353.9 59.1l0.2 0.2M379.9 44.1l-0.3 0.3M361.6 80.8l-0.2 0.5M321.8 70.3l0.1 0.5M358.7 7.6l-0.6 0.3M337.6 28.8l-0.2 0.3M408.5 46.5l-0.3 0.2M401.3 42.2l0.1 0.2M329.3 78.8l0.3 0.5M385.7 126.7l-0.1 0.3M395.8 62.8l-0.2 0.5M356.2 45.5l0.5 0.2M342.8 15.4l-0.5 0.4M404.6 82.5l0.3 0.1M388.2 34.1l0.2 0.1M332.6 57.5l-0.1 0.3M348.1 42.6l-0.2 0.2M407.1 63.8l0.6 0.3M323.5 35.0l-0.2 0.6M364.0 55.7l0.1 0.4M383.5 98.6l0.1 0.4M333.5 49.2l-0.5 0.4M321.1 82.8l-0.4 0.5M316.2 72.1l0.4 0.5M401.2 111.8l-0.3 0.1M322.9 81.7l0.0 0.4M364.9 86.7l0.0 0.2M392.9 73.0l-0.1 0.6M367.6 38.6l0.0 0.2M411.1 55.1l-0.2 0.1M367.0 53.5l-0.0 0.3M360.3 48.1l-0.1 0.3M406.1 59.4l-0.5 0.1M374.0 80.7l0.1 0.3M342.0 54.1l-0.4 0.5M395.0 86.9l-0.0 0.6M332.1 93.3l0.3 0.1M336.6 75.2l0.3 0.6M344.9 69.9l-0.4 0.3M316.0 51.9l-0.7 0.0M328.8 30.9l0.6 0.0M382.2 123.0l-0.3 0.3M355.2 103.7l-0.0 0.2M325.7 89.0l0.3 0.1M329.4 78.8l-0.0 0.5M401.3 89.1l-0.5 0.2M351.4 42.3l-0.1 0.2M322.8 35.9l0.3 0.6M411.7 84.6l0.2 0.4M339.1 27.4l-0.6 0.3M338.7 37.8l-0.5 0.2M393.9 106.7l-0.7 0.1M364.6 42.8l0.1 0.2M400.8 53.1l0.2 0.1M398.1 94.0l-0.0 0.2M360.5 37.9l-0.3 0.2M336.1 104.9l-0.3 0.5M376.3 28.5l-0.3 0.1M332.8 84.7l-0.1 0.3M373.6 40.6l-0.5 0.3M355.1 47.6l-0.2 0.4M405.9 97.6l0.4 0.1M338.8 71.6l-0.2 0.6M348.2 122.4l0.4 0.5M413.0 61.4l0.5 0.5M347.1 42.8l-0.2 0.2M332.6 46.7l0.4 0.3M398.2 19.1l-0.2 0.5M395.2 31.8l0.2 0.5M324.6 90.4l0.3 0.2M349.6 21.4l-0.3 0.1M379.9 63.6l0.0 0.6M368.3 58.8l0.4 0.4M350.5 51.1l-0.1 0.2M399.9 70.2l0.5 0.3M353.4 111.5l0.4 0.2M364.2 5.8l0.3 0.4M369.7 128.9l-0.2 0.5M406.5 93.4l-0.5 0.1M385.8 87.8l-0.0 0.4M397.9 34.8l-0.7 0.1M377.0 91.6l-0.6 0.1M375.3 24.6l0.3 0.5M345.0 12.7l-0.5 0.4M367.4 29.3l-0.2 0.3M411.9 69.7l0.0 0.3M391.7 84.8l0.2 0.5M381.3 18.0l0.5 0.2M317.0 45.4l0.0 0.3M358.2 73.9l0.2 0.4M400.8 90.3l-0.0 0.5M355.5 21.3l0.5 0.0M394.1 26.3l0.6 0.3M411.7 58.0l-0.6 0.4M328.3 52.4l-0.3 0.5M320.6 89.5l-0.0 0.2M360.9 60.9l-0.4 0.1M376.6 37.5l-0.5 0.1M337.5 112.4l0.2 0.4M390.8 16.9l0.2 0.1M336.4 104.4l-0.6 0.1M387.2 11.8l-0.2 0.3M413.4 69.2l-0.4 0.0M385.3 130.5l0.4 0.1M343.3 106.7l0.2 0.2M378.0 43.0l0.2 0.0M364.8 39.4l-0.4 0.1M373.7 60.4l0.1 0.4M322.2 53.9l0.3 0.2M376.8 7.8l0.0 0.7M363.3 87.5l-0.4 0.2M349.6 62.9l-0.2 0.2M329.0 39.5l0.2 0.1M365.5 46.4l0.5 0.2M391.1 33.9l0.2 0.1" stroke="#d2687a"/><path d="M359.7 52.1l0.1 0.1M359.1 99.3l0.1 -0.3M331.0 32.3l0.2 0.4M323.7 34.0l0.2 0.5M355.9 33.3l0.3 -0.1M382.6 25.1l0.1 -0.1M331.3 65.7l0.2 0.0M366.4 74.4l0.3 0.2M359.3 52.2l0.3 0.1M344.5 64.6l0.3 -0.1M347.6 33.2l0.1 -0.2M407.4 60.0l0.3 -0.2M351.7 46.3l0.1 -0.3M345.7 62.3l0.3 0.4M397.6 69.3l0.0 -0.5M380.4 55.3l0.2 0.0M394.9 91.8l0.1 -0.2M347.7 121.1l0.0 0.2M340.6 19.4l0.0 -0.3M380.7 64.3l0.2 -0.5M323.0 43.9l0.2 -0.4M379.2 45.5l0.2 0.0M332.2 37.0l0.3 -0.1M349.0 91.4l0.5 0.0M398.0 70.2l0.0 -0.2M316.8 72.4l0.1 0.3M386.6 112.4l0.3 0.4M361.3 81.2l0.4 0.2M344.9 26.0l0.4 -0.2M405.3 45.8l0.2 0.5M358.2 8.0l0.3 0.4M394.2 62.0l0.1 0.2M374.6 20.5l0.5 0.1M337.0 80.3l0.2 0.2M375.8 86.3l0.2 0.2M404.7 102.3l0.3 0.5M385.6 127.0l0.2 0.0M357.7 65.6l0.3 -0.0M365.8 44.2l0.0 -0.2M356.6 45.6l0.1 -0.4M336.6 96.5l0.0 -0.3M345.2 81.0l0.1 -0.5M333.7 50.8l0.1 0.1M367.7 69.3l0.2 0.1M388.4 34.2l0.1 -0.2M408.5 105.5l0.3 0.3M336.1 110.2l0.0 -0.3M345.1 50.5l0.2 0.3M358.8 48.2l0.1 0.2M348.0 42.8l0.2 0.1M407.7 64.2l0.2 -0.5M335.5 79.1l0.1 -0.4M350.3 34.9l0.2 0.4M388.1 56.6l0.2 0.1M411.2 59.0l0.5 0.1M364.1 56.1l0.3 -0.1M379.3 62.3l0.1 0.2M385.0 110.4l0.0 0.4M400.0 114.1l0.2 0.4M364.9 55.0l0.2 -0.4M360.4 61.8l0.2 0.1M371.0 19.8l0.3 0.2M356.0 123.0l0.2 -0.3M400.5 88.0l0.0 0.3M319.6 57.8l0.2 0.2M395.4 76.0l0.3 -0.4M371.7 95.6l0.0 0.3M393.8 113.6l0.1 -0.5M356.6 95.6l0.4 0.1M380.9 127.5l0.1 0.1M383.7 99.0l0.4 -0.1M333.0 49.6l0.3 0.4M369.3 112.2l0.0 0.2M413.2 76.8l0.3 -0.3M352.5 17.9l0.1 -0.1M320.7 83.2l0.4 0.4M316.6 72.6l0.4 -0.3M326.2 79.0l0.1 0.2M406.5 92.4l0.2 -0.2M355.8 116.7l0.4 0.1M339.8 51.3l0.2 0.0M383.7 119.3l0.3 -0.0M333.0 25.2l0.0 0.3M400.0 19.8l0.1 0.5M402.4 117.3l0.3 -0.1M362.7 124.9l0.5 0.0M389.8 124.7l0.1 -0.3M323.0 82.1l0.4 -0.0M360.9 45.3l0.1 -0.4M382.8 126.5l0.3 0.5M347.6 20.3l0.1 0.3M352.6 37.6l0.5 -0.2M354.3 56.3l0.2 -0.2M333.9 19.9l0.2 0.0M337.1 67.4l0.1 0.3M392.8 73.6l0.4 0.1M345.9 83.9l0.1 -0.3M365.8 25.6l0.4 0.0M371.3 119.1l0.3 0.3M367.6 38.8l0.2 -0.0M371.3 21.8l0.3 0.2M335.7 31.6l0.5 0.2M411.0 55.3l0.1 0.2M328.3 71.5l0.2 -0.2M380.3 117.1l0.0 0.4M326.6 41.9l0.4 0.2M385.2 81.0l0.1 -0.2M329.7 58.3l0.5 -0.2M350.9 111.1l0.2 -0.1M376.9 81.9l0.3 -0.3M374.1 81.1l0.3 -0.1M325.2 86.8l0.1 0.4M384.4 68.7l0.1 0.5M400.6 78.2l0.2 0.2M324.1 52.1l0.2 0.0M360.6 23.9l0.3 -0.1M323.8 63.4l0.2 -0.3M367.2 66.4l0.2 0.5M412.7 58.7l0.1 0.5M332.4 93.3l0.0 -0.2M336.9 75.8l0.5 -0.3M344.6 70.1l0.2 0.3M315.3 51.9l0.0 0.6M329.5 30.9l0.0 -0.5M354.2 9.2l0.4 0.1M386.0 99.0l0.1 -0.4M375.7 22.1l0.2 0.1M357.8 53.2l0.0 -0.4M411.5 43.0l0.2 -0.2M366.0 20.3l0.1 -0.2M337.9 38.5l0.1 0.3M399.9 102.3l0.0 -0.2M355.1 103.9l0.2 0.0M386.7 109.0l0.1 -0.2M400.8 89.3l0.2 0.4M343.5 19.0l0.3 0.1M399.7 112.2l0.4 -0.3M343.5 115.7l0.1 -0.1M358.2 60.1l0.3 -0.1M323.1 36.5l0.5 -0.3M372.4 15.4l0.4 0.4M380.1 8.5l0.3 0.2M338.5 27.8l0.3 0.5M377.8 43.7l0.2 -0.0M336.5 28.3l0.5 0.2M390.1 114.3l0.3 -0.1M357.3 55.2l0.0 -0.2M398.8 60.7l0.2 -0.1M338.2 38.0l0.2 0.4M373.6 108.5l0.1 0.2M361.7 6.5l0.1 0.4M338.5 49.3l0.4 0.0M329.4 65.3l0.1 0.3M384.7 26.1l0.2 0.3M364.8 22.0l0.2 -0.4M350.6 54.6l0.2 -0.4M401.0 27.2l0.5 -0.3M340.7 29.2l0.1 0.1M380.3 36.8l0.1 0.3M362.6 112.3l0.2 0.3M415.6 72.3l0.4 -0.3M335.1 44.2l0.2 0.4M409.5 99.1l0.1 0.5M377.8 24.5l0.0 -0.2M351.5 8.0l0.2 -0.1M394.3 71.6l0.5 0.1M359.4 66.4l0.1 0.4M343.7 62.6l0.2 -0.2M323.6 75.8l0.2 0.0M380.4 114.8l0.4 0.1M372.7 65.7l0.1 -0.2M364.8 43.0l0.2 -0.1M385.0 73.5l0.3 -0.3M409.6 64.6l0.5 0.0M413.6 73.6l0.4 -0.0M317.9 60.7l0.4 0.0M387.8 71.0l0.2 0.2M333.2 82.5l0.5 -0.2M336.3 19.2l0.3 0.1M342.0 66.7l0.2 0.1M348.3 13.5l0.5 0.1M321.9 82.2l0.4 -0.1M318.3 85.2l0.3 -0.1M370.9 26.7l0.1 0.1M353.8 77.3l0.1 -0.3M372.8 35.4l0.5 0.1M411.2 72.4l0.5 0.1M360.2 38.0l0.1 0.3M387.1 39.1l0.4 0.1M323.5 63.5l0.1 -0.2M399.1 119.8l0.4 -0.1M354.9 47.9l0.3 0.1M377.6 19.7l0.2 -0.3M349.1 54.0l0.3 -0.1M357.8 16.1l0.1 0.4M395.5 68.7l0.0 -0.2M335.7 41.2l0.4 0.1M326.1 32.8l0.2 -0.4M338.6 72.3l0.5 0.1M398.9 31.0l0.1 0.4M413.5 61.9l0.4 -0.4M346.9 43.0l0.1 0.2M333.1 46.9l0.2 -0.3M323.7 63.9l0.4 0.0M408.0 28.5l0.0 -0.4M354.3 46.1l0.2 0.2M345.1 66.2l0.0 0.4M324.9 90.6l0.1 -0.3M319.8 45.2l0.3 -0.1M398.8 96.2l0.5 0.2M379.9 64.1l0.5 -0.0M382.7 51.3l0.2 0.1M388.1 31.1l0.3 0.0M403.8 98.0l0.4 0.2M368.7 59.2l0.4 -0.3M387.2 122.1l0.3 -0.2M334.9 85.8l0.1 -0.2M355.3 97.6l0.3 0.1M400.4 70.5l0.3 -0.4M320.6 34.7l0.2 0.2M353.9 111.8l0.2 -0.3M377.8 67.4l0.1 -0.1M412.2 65.5l0.3 0.2M362.1 120.6l0.2 -0.3M372.5 35.5l0.1 0.2M369.5 129.4l0.4 0.1M350.1 102.7l0.2 0.4M347.7 39.9l0.0 -0.2M324.2 71.4l0.2 -0.3M350.7 25.2l0.2 -0.2M406.1 93.6l0.1 0.4M385.7 88.2l0.3 0.0M318.7 58.4l0.5 0.1M342.4 103.9l0.1 -0.1M397.2 34.9l0.1 0.5M344.1 23.1l0.2 -0.4M412.1 100.9l0.1 -0.2M363.6 124.7l0.2 0.4M398.3 58.9l0.1 -0.4M409.3 41.9l0.3 0.2M361.0 28.1l0.3 -0.0M344.5 13.1l0.3 0.4M403.9 114.8l0.2 0.1M326.6 46.9l0.3 0.5M401.0 84.1l0.1 0.2M393.7 120.0l0.2 -0.3M404.9 28.4l0.2 0.1M394.1 24.8l0.1 0.2M367.2 29.6l0.2 0.1M337.4 108.7l0.0 0.3M408.0 54.9l0.0 0.2M346.3 20.4l0.0 0.2M360.2 50.0l0.4 -0.2M358.5 56.5l0.2 -0.3M355.2 13.4l0.1 0.3M353.7 43.6l0.1 0.2M403.8 81.7l0.4 -0.0M381.8 18.2l0.2 -0.4M393.1 54.5l0.3 0.2M334.0 47.6l0.5 -0.0M378.5 127.3l0.1 -0.3M376.6 39.1l0.2 -0.2M380.2 39.6l0.2 0.1M366.2 26.6l0.4 0.3M347.8 114.9l0.5 -0.1M327.5 43.2l0.0 0.3M399.1 105.7l0.2 0.1M389.7 17.8l0.1 -0.2M371.1 7.9l0.4 0.3M335.7 59.7l0.3 0.1M317.0 45.7l0.2 -0.0M361.8 10.6l0.1 -0.5M394.7 26.6l0.3 -0.5M369.3 81.7l0.3 -0.1M337.0 45.9l0.5 0.3M381.8 113.0l0.4 -0.4M320.8 53.9l0.1 -0.2M411.2 58.4l0.3 0.5M391.0 116.7l0.4 0.1M318.0 42.3l0.3 0.3M341.4 47.5l0.2 0.1M357.2 70.1l0.3 -0.2M329.8 23.6l0.1 0.3M352.9 125.1l0.0 0.2M320.5 89.8l0.2 0.0M360.5 61.0l0.1 0.3M376.1 37.6l0.1 0.4M332.3 104.3l0.4 0.1M319.5 51.5l0.2 0.5M330.3 101.4l0.0 -0.4M336.9 67.5l0.4 -0.1M379.3 51.9l0.5 0.2M337.6 112.7l0.3 -0.1M411.6 92.1l0.0 -0.2M399.0 73.8l0.1 -0.4M382.0 127.2l0.2 -0.2M386.9 12.1l0.2 0.2M401.6 40.3l0.4 0.0M413.0 69.3l0.0 0.3M385.8 130.6l0.1 -0.4M338.1 37.1l0.3 0.3M373.0 131.0l0.3 -0.0M374.9 82.2l0.2 -0.2M362.7 28.8l0.1 0.4M383.0 58.6l0.1 -0.2M377.3 32.0l0.3 -0.3M354.8 45.4l0.4 0.3M378.2 43.1l0.0 -0.2M327.1 42.1l0.3 0.5M364.4 39.5l0.1 0.3M360.8 21.1l0.3 -0.1M349.7 79.7l0.3 0.3M326.7 25.4l0.1 0.2M358.0 93.5l0.1 -0.4M368.1 93.2l0.1 -0.4M382.5 52.0l0.1 -0.3M336.8 31.8l0.3 -0.1M400.7 74.2l0.0 0.4M377.9 32.1l0.5 -0.1M321.8 36.1l0.1 0.2M370.6 23.4l0.3 0.3M415.2 60.0l0.1 -0.5M398.8 75.0l0.0 -0.2M322.5 54.0l0.1 -0.3M343.1 100.1l0.4 -0.2M365.1 55.4l0.1 -0.3M362.8 87.6l0.1 0.3M349.4 63.1l0.1 0.2M380.6 40.2l0.2 -0.2M346.2 68.9l0.0 -0.2M347.6 118.6l0.1 -0.2M390.2 63.6l0.0 -0.4M344.5 44.6l0.3 0.1M379.6 90.2l0.1 -0.5M394.0 103.9l0.1 0.4M366.0 46.6l0.2 -0.4M326.6 27.3l0.3 -0.1M397.8 51.3l0.2 0.4M369.5 66.3l0.5 -0.2M348.1 38.2l0.6 -0.0M337.8 23.8l0.5 -0.1M409.9 84.1l0.4 -0.2" stroke="#bcc2ca"/></g>
<path d="M337.7,8.9 L348.7,28.6 M321.2,97.5 L339.4,86.5" stroke="#d03030" stroke-width="0.65"/>
<defs><clipPath id="cb"><rect x="24.70" y="164.80" width="200.30" height="144.60"/></clipPath></defs>
<g clip-path="url(#cb)">
<polyline points="24.70,303.10 25.54,302.54 26.38,301.97 27.21,301.43 28.05,300.90 28.89,300.28 29.66,298.07 30.43,295.73 31.20,292.98 31.96,290.58 32.70,288.75 33.43,287.30 34.16,285.37 34.89,283.23 35.62,281.37 36.35,278.81 37.09,276.30 37.82,273.33 38.55,271.22 39.28,268.74 40.01,265.91 40.74,263.57 41.62,258.59 42.50,259.25 43.38,259.53 44.04,261.38 44.69,263.47 45.43,265.73 46.16,268.12 46.89,269.96 47.62,272.19 48.35,274.21 49.08,276.46 49.82,278.84 50.55,281.62 51.28,284.12 52.01,285.10 52.74,286.53 53.47,287.46 54.21,287.08 54.94,286.18 55.67,286.19 56.40,283.62 57.13,281.21 57.86,278.98 58.59,275.61 59.33,271.47 60.06,268.12 60.94,266.48 61.81,265.48 62.47,266.72 63.13,267.79 63.86,270.17 64.60,273.14 65.33,275.56 66.06,276.51 66.79,277.56 67.52,278.89 68.25,278.46 68.99,278.31 69.72,277.59 70.49,277.79 71.25,278.40 72.02,278.91 72.79,279.07 73.67,279.77 74.55,281.28 75.42,281.96 76.30,283.15 77.18,282.98 78.06,283.00 78.94,282.95 79.81,282.65 80.69,282.87 81.57,282.52 82.45,282.66 83.33,282.56 84.20,282.23 85.08,282.72 85.85,282.35 86.62,282.51 87.39,283.00 88.16,282.86 88.92,283.67 89.69,284.65 90.46,284.81 91.23,285.57 92.11,285.67 92.98,285.80 93.86,285.72 94.74,286.15 95.62,286.25 96.50,286.23 97.37,286.74 98.25,286.19 99.13,286.73 100.01,286.49 100.83,286.80 101.65,286.77 102.48,286.66 103.30,286.20 104.12,286.44 104.95,286.70 105.77,286.63 106.59,286.81 107.47,286.50 108.35,286.53 109.23,286.19 110.10,286.53 110.98,286.24 111.86,285.70 112.74,285.03 113.62,284.10 114.49,283.57 115.37,282.83 116.18,282.04 116.98,281.38 117.79,281.21 118.59,280.16 119.40,279.95 120.20,278.93 120.93,277.73 121.66,277.35 122.40,276.58 123.30,276.22 124.20,276.01 125.11,275.76 126.01,275.67 126.92,275.05 127.82,274.85 128.72,274.82 129.63,274.47 130.53,274.15 131.46,273.50 132.38,273.04 133.30,272.40 134.23,272.01 135.15,271.59 136.08,270.90 137.00,270.01 137.84,269.47 138.68,269.08 139.52,268.68 140.36,267.95 141.20,267.13 142.04,266.64 142.85,265.96 143.67,264.74 144.49,263.94 145.30,262.79 146.12,261.43 146.94,260.38 147.75,258.82 148.57,257.40 149.39,256.12 150.20,254.66 151.02,253.67 151.84,252.43 152.65,250.73 153.47,248.92 154.29,248.02 155.10,246.95 155.92,245.30 156.73,243.69 157.55,242.82 158.37,241.09 159.18,240.01 160.00,238.27 160.82,237.00 161.63,235.74 162.45,234.03 163.27,233.15 164.08,231.85 164.90,229.97 165.72,229.16 166.53,227.18 167.35,226.28 168.17,225.13 168.98,223.57 169.80,222.19 170.62,220.83 171.43,219.56 172.25,217.93 173.07,217.24 173.88,215.52 174.70,214.09 175.52,212.30 176.34,211.70 177.15,210.26 177.97,209.32 178.79,208.13 179.60,206.76 180.42,205.71 181.24,204.40 182.11,203.24 182.98,201.49 183.86,199.74 184.73,198.22 185.55,197.21 186.36,195.66 187.18,194.81 187.99,193.01 188.81,192.08 189.67,191.27 190.54,190.33 191.41,189.34 192.27,188.30 193.14,187.81 194.01,186.99 194.88,186.11 195.75,185.72 196.61,185.20 197.48,184.01 198.35,183.57 199.22,182.58 200.11,182.34 200.99,182.04 201.88,180.73 202.77,180.08 203.65,179.11 204.54,178.66 205.43,178.03 206.33,177.53 207.23,177.28 208.13,176.74 209.03,176.59 209.93,175.77 210.83,175.59 211.73,175.08 212.60,174.50 213.46,174.10 214.33,174.14 215.20,173.19 216.07,173.36 216.93,172.72 217.80,172.53 218.67,172.51 219.54,172.35 220.41,171.86 221.27,171.87 222.14,171.79 223.11,172.09 224.07,171.71 225.03,171.17 225.80,171.27 226.57,171.40 227.35,171.25" fill="none" stroke="#5075d6" stroke-width="1.0" stroke-linejoin="round"/>
<polyline points="24.70,303.10 25.54,302.98 26.38,302.86 27.21,302.74 28.05,302.62 28.89,302.50 29.66,302.24 30.43,301.99 31.20,301.75 31.96,301.51 32.84,301.42 33.72,301.33 34.60,301.28 35.48,301.15 36.35,301.11 37.12,300.11 37.89,298.26 38.66,297.23 39.42,296.00 40.19,294.18 40.96,292.58 41.73,291.00 42.50,289.57 43.23,288.15 43.96,287.29 44.69,285.48 45.57,286.03 46.45,285.81 47.33,285.77 48.20,285.73 48.94,286.22 49.67,286.48 50.40,287.71 51.13,286.62 51.87,286.23 52.60,285.88 53.33,284.55 54.06,284.11 54.79,282.99 55.52,281.64 56.26,279.43 56.99,278.07 57.76,275.64 58.52,272.42 59.29,270.34 60.06,268.07 60.94,268.03 61.81,268.36 62.69,269.76 63.57,270.93 64.45,272.93 65.22,274.56 65.99,277.08 66.75,278.82 67.52,281.19 68.40,282.70 69.28,284.95 70.16,287.35 71.03,289.73 71.91,291.60 72.79,290.98 73.67,290.70 74.55,289.97 75.43,289.36 76.30,289.10 77.18,288.71 78.06,288.96 78.94,289.69 79.81,289.96 80.69,290.70 81.57,291.03 82.45,292.14 83.33,293.03 84.20,293.52 85.08,294.39 85.96,294.34 86.84,294.06 87.72,293.76 88.59,294.24 89.47,293.69 90.35,293.60 91.23,293.48 92.05,293.09 92.87,293.32 93.70,292.71 94.52,292.69 95.34,292.42 96.17,292.29 96.99,292.11 97.81,291.95 98.63,291.55 99.46,291.01 100.28,291.02 101.10,290.86 101.93,290.72 102.75,290.73 103.57,290.30 104.40,289.80 105.22,290.29 106.04,289.65 106.87,289.41 107.69,289.36 108.51,289.05 109.34,288.73 110.16,288.36 110.98,288.34 111.80,287.92 112.61,287.85 113.43,287.40 114.24,287.19 115.06,286.82 115.88,286.63 116.69,286.05 117.57,285.21 118.45,284.85 119.32,284.08 120.20,283.32 121.08,282.76 121.96,281.88 122.84,281.34 123.71,280.94 124.59,280.23 125.47,279.18 126.31,278.23 127.16,277.16 128.00,276.36 128.84,275.39 129.69,274.78 130.53,273.20 131.46,273.09 132.38,272.11 133.30,271.97 134.23,271.30 135.15,270.55 136.08,270.08 137.00,269.56 137.84,268.41 138.68,267.64 139.52,266.88 140.36,266.21 141.20,265.49 142.04,264.60 142.85,263.38 143.67,262.04 144.49,260.65 145.30,259.62 146.12,258.51 146.94,257.25 147.75,255.49 148.57,254.35 149.39,252.96 150.20,251.58 151.02,250.15 151.84,248.87 152.65,247.16 153.47,245.74 154.29,244.98 155.10,242.94 155.92,240.81 156.73,240.17 157.55,238.52 158.37,236.95 159.18,235.80 160.00,234.16 160.82,233.32 161.63,231.94 162.45,230.38 163.27,229.14 164.08,227.86 164.90,226.17 165.72,224.88 166.53,223.59 167.35,222.44 168.17,221.08 168.98,219.93 169.80,218.82 170.62,217.34 171.43,216.14 172.25,215.10 173.07,213.87 173.88,213.13 174.70,211.84 175.52,210.81 176.34,209.34 177.15,208.42 177.97,207.01 178.79,206.04 179.60,205.35 180.42,204.42 181.24,203.02 181.94,202.19 182.63,201.17 183.50,200.20 184.37,198.71 185.24,197.64 186.11,196.44 186.97,195.30 187.84,194.39 188.70,193.98 189.56,192.89 190.42,192.28 191.28,191.58 192.14,190.59 193.00,190.12 193.87,189.26 194.74,189.00 195.61,188.37 196.48,187.87 197.34,187.28 198.21,187.17 199.10,186.41 199.99,186.32 200.87,186.25 201.76,185.64 202.65,185.41 203.53,184.93 204.42,184.75 205.29,184.56 206.16,184.69 207.03,183.76 207.89,183.53 208.76,183.40 209.63,183.20 210.52,182.90 211.41,183.18 212.29,182.71 213.18,182.71 214.07,182.77 214.95,182.35 215.84,182.21 216.74,181.98 217.64,182.18 218.54,182.74 219.44,182.86 220.34,182.53 221.24,182.60 222.14,182.79 223.11,182.96 224.07,182.78 225.03,183.04 225.80,182.94 226.57,182.63 227.35,182.76" fill="none" stroke="#c94a40" stroke-width="1.0" stroke-linejoin="round"/>
</g>
<rect x="24.70" y="164.80" width="200.30" height="144.60" fill="none" stroke="#858585" stroke-width="0.8"/>
<line x1="22.90" y1="303.10" x2="24.70" y2="303.10" stroke="#858585" stroke-width="0.8"/>
<text x="21.90" y="303.60" class="tk" text-anchor="end" dominant-baseline="central">0</text>
<line x1="22.90" y1="282.95" x2="24.70" y2="282.95" stroke="#858585" stroke-width="0.8"/>
<text x="21.90" y="283.45" class="tk" text-anchor="end" dominant-baseline="central">5</text>
<line x1="22.90" y1="262.80" x2="24.70" y2="262.80" stroke="#858585" stroke-width="0.8"/>
<text x="21.90" y="263.30" class="tk" text-anchor="end" dominant-baseline="central">10</text>
<line x1="22.90" y1="242.65" x2="24.70" y2="242.65" stroke="#858585" stroke-width="0.8"/>
<text x="21.90" y="243.15" class="tk" text-anchor="end" dominant-baseline="central">15</text>
<line x1="22.90" y1="222.50" x2="24.70" y2="222.50" stroke="#858585" stroke-width="0.8"/>
<text x="21.90" y="223.00" class="tk" text-anchor="end" dominant-baseline="central">20</text>
<line x1="22.90" y1="202.35" x2="24.70" y2="202.35" stroke="#858585" stroke-width="0.8"/>
<text x="21.90" y="202.85" class="tk" text-anchor="end" dominant-baseline="central">25</text>
<line x1="22.90" y1="182.20" x2="24.70" y2="182.20" stroke="#858585" stroke-width="0.8"/>
<text x="21.90" y="182.70" class="tk" text-anchor="end" dominant-baseline="central">30</text>
<line x1="24.70" y1="309.40" x2="24.70" y2="311.20" stroke="#858585" stroke-width="0.8"/>
<text x="24.70" y="315.70" class="tk" text-anchor="middle" dominant-baseline="central">0</text>
<line x1="68.25" y1="309.40" x2="68.25" y2="311.20" stroke="#858585" stroke-width="0.8"/>
<text x="68.25" y="315.70" class="tk" text-anchor="middle" dominant-baseline="central">1</text>
<line x1="111.80" y1="309.40" x2="111.80" y2="311.20" stroke="#858585" stroke-width="0.8"/>
<text x="111.80" y="315.70" class="tk" text-anchor="middle" dominant-baseline="central">2</text>
<line x1="155.35" y1="309.40" x2="155.35" y2="311.20" stroke="#858585" stroke-width="0.8"/>
<text x="155.35" y="315.70" class="tk" text-anchor="middle" dominant-baseline="central">3</text>
<line x1="198.90" y1="309.40" x2="198.90" y2="311.20" stroke="#858585" stroke-width="0.8"/>
<text x="198.90" y="315.70" class="tk" text-anchor="middle" dominant-baseline="central">4</text>
<text x="124.85" y="324.80" class="lab" text-anchor="middle" dominant-baseline="central">distance (nm)</text>
<text transform="translate(6.90,237.10) rotate(-90)" class="lab" text-anchor="middle" dominant-baseline="central"><tspan font-style="italic">ρ</tspan> (molecules · nm<tspan dy="-2" font-size="3.8">−3</tspan><tspan dy="2">)</tspan></text>
<rect x="27.00" y="166.80" width="62.60" height="17.40" rx="1.2" fill="#fff" fill-opacity="0.85" stroke="#d8d8d8" stroke-width="0.6"/>
<line x1="29.00" y1="171.80" x2="40.00" y2="171.80" stroke="#5075d6" stroke-width="0.9"/>
<text x="43.30" y="172.00" class="lg" dominant-baseline="central">Open, NaCl 0.2 M</text>
<line x1="29.00" y1="179.60" x2="40.00" y2="179.60" stroke="#c94a40" stroke-width="0.9"/>
<text x="43.30" y="179.80" class="lg" dominant-baseline="central">Open, NaCl 3.5 M</text>
<defs><clipPath id="cc"><rect x="256.50" y="164.80" width="199.90" height="144.60"/></clipPath></defs>
<g clip-path="url(#cc)">
<polyline points="256.50,303.19 257.35,303.18 258.20,303.17 259.04,303.16 259.89,303.15 260.74,303.14 261.59,303.13 262.44,303.12 263.29,303.11 264.13,303.10 264.98,303.09 265.83,303.08 266.68,303.07 267.53,303.06 268.38,303.05 269.22,303.04 270.07,303.03 270.92,303.02 271.77,303.01 272.62,303.00 273.46,302.99 274.55,299.74 275.64,296.40 276.73,293.81 277.81,290.68 278.54,290.34 279.26,289.96 279.99,290.01 281.08,290.33 282.17,291.07 282.89,289.80 283.62,289.19 284.34,288.07 285.43,283.24 286.51,279.60 287.24,276.11 287.96,273.33 288.69,270.58 289.42,268.78 290.14,267.12 290.87,265.37 291.74,265.64 292.61,265.71 293.48,265.71 294.20,267.16 294.93,268.34 295.65,269.86 296.52,271.94 297.39,275.01 298.26,277.32 298.99,277.98 299.71,278.90 300.44,278.76 301.31,279.34 302.18,278.59 303.05,278.33 303.92,277.58 304.93,279.15 305.94,279.34 306.96,280.53 307.72,280.93 308.48,281.55 309.24,281.79 310.00,282.67 310.88,283.28 311.75,284.01 312.62,284.53 313.49,286.22 314.36,285.74 315.23,286.19 316.09,286.81 316.96,286.98 317.83,287.47 318.70,287.03 319.57,287.33 320.44,287.42 321.31,287.42 322.19,287.41 323.06,287.08 323.93,286.89 324.79,285.96 325.67,286.45 326.53,286.47 327.40,285.59 328.27,285.43 329.14,285.16 330.01,285.11 330.88,284.94 331.75,284.67 332.62,284.38 333.50,284.50 334.37,284.32 335.24,283.68 336.11,284.30 336.98,284.94 337.84,284.59 338.71,285.24 339.58,285.85 340.37,286.30 341.15,286.32 341.93,286.88 342.72,287.26 343.50,287.64 344.51,287.48 345.53,287.14 346.54,287.46 347.20,287.05 347.85,286.00 348.92,285.10 349.98,283.91 350.90,283.24 351.82,282.93 352.74,282.32 353.66,281.71 354.59,281.34 355.51,280.37 356.40,279.76 357.30,279.54 358.20,279.16 359.10,278.70 360.00,278.34 360.90,277.88 361.81,277.34 362.73,276.98 363.64,276.45 364.55,276.23 365.47,275.38 366.38,274.99 367.29,274.63 368.19,274.27 369.10,273.19 370.01,272.36 370.91,272.14 371.82,271.48 372.73,270.59 373.65,269.43 374.56,268.84 375.47,267.54 376.39,266.89 377.30,265.73 378.20,264.69 379.10,263.53 380.00,262.56 380.90,261.18 381.79,259.87 382.69,258.47 383.61,257.50 384.53,256.65 385.46,255.37 386.38,254.21 387.30,253.39 388.22,252.40 389.12,250.87 390.02,249.10 390.91,247.64 391.81,246.42 392.71,244.63 393.61,243.29 394.53,241.89 395.44,240.02 396.35,238.65 397.27,237.52 398.18,235.90 399.08,234.17 399.99,232.76 400.89,231.01 401.80,229.20 402.70,228.06 403.63,226.05 404.55,224.40 405.48,222.87 406.40,221.68 407.30,219.51 408.21,217.93 409.11,215.80 410.01,213.97 410.89,212.78 411.76,211.72 412.64,210.42 413.51,208.85 414.39,207.95 415.26,206.40 416.14,205.13 417.01,204.03 417.88,202.21 418.75,201.69 419.62,200.25 420.50,200.11 421.37,199.15 422.24,197.48 423.11,196.55 423.98,195.74 424.85,194.68 425.72,194.05 426.63,192.89 427.54,192.07 428.46,191.00 429.37,189.86 430.28,189.13 431.20,188.16 432.11,187.48 433.02,186.52 433.94,185.50 434.85,184.68 435.76,183.70 436.68,183.49 437.59,182.26 438.50,182.19 439.42,181.12 440.33,180.83 441.24,179.68 442.16,179.33 443.07,178.62 443.99,177.89 444.83,177.85 445.67,177.60 446.51,177.48 447.35,176.48 448.19,176.54 449.03,176.19 449.87,175.75 450.71,175.01 451.55,175.44 452.39,174.71 453.24,174.51 454.08,173.99 454.92,174.14 455.76,173.52 456.60,172.94" fill="none" stroke="#5075d6" stroke-width="1.0" stroke-linejoin="round"/>
<polyline points="256.50,303.19 257.30,303.16 258.10,303.13 258.89,303.09 259.69,303.06 260.49,303.02 261.29,302.99 262.10,302.94 262.92,302.89 263.73,302.83 264.55,302.78 265.36,302.73 266.18,302.68 266.99,302.63 267.81,302.58 268.75,302.48 269.69,302.37 270.64,302.27 271.58,302.17 272.52,302.07 273.46,301.97 274.55,299.65 275.64,297.69 276.94,288.18 277.67,286.07 278.39,284.55 279.12,283.09 279.99,283.86 280.86,284.62 281.73,286.14 282.60,287.87 283.47,285.30 284.34,282.47 285.21,280.55 286.30,276.23 287.38,271.80 288.25,268.65 289.12,266.14 290.00,266.32 290.87,267.50 291.95,271.76 293.04,275.87 293.76,278.64 294.49,281.20 295.22,283.58 296.30,285.17 297.39,286.94 298.12,284.82 298.84,282.30 299.56,280.30 300.44,277.14 301.31,273.56 302.18,273.17 303.05,272.13 303.92,271.21 305.00,272.58 306.09,273.93 306.85,274.04 307.61,274.54 308.37,274.86 309.13,275.25 309.90,276.11 310.66,277.83 311.42,278.81 312.18,280.31 313.05,281.26 313.92,281.89 314.79,282.79 315.66,283.64 316.53,284.78 317.34,284.48 318.15,284.31 318.95,284.39 319.76,284.29 320.57,284.19 321.38,284.41 322.19,284.09 323.06,284.64 323.93,284.21 324.79,284.52 325.67,283.67 326.53,283.65 327.40,283.57 328.27,284.24 329.14,284.83 330.01,284.40 330.88,285.18 331.75,285.58 332.62,285.76 333.50,286.01 334.37,286.65 335.24,286.92 336.25,287.62 337.26,287.15 338.28,287.80 339.15,287.68 340.02,287.50 340.89,287.50 341.76,287.41 342.63,287.56 343.61,287.09 344.59,286.66 345.57,286.23 346.54,286.16 347.40,284.94 348.26,283.71 349.12,282.48 349.98,281.37 350.90,280.55 351.82,279.68 352.74,278.43 353.66,277.68 354.59,276.82 355.51,275.19 356.40,275.12 357.30,274.52 358.20,274.06 359.10,273.70 360.00,272.66 360.90,272.31 361.81,271.66 362.73,270.84 363.64,270.23 364.55,269.77 365.47,269.20 366.38,268.16 367.29,267.94 368.19,267.73 369.10,266.83 370.00,266.42 370.90,265.91 371.83,264.49 372.75,263.30 373.67,261.66 374.59,260.75 375.52,259.45 376.41,258.01 377.31,257.11 378.20,255.52 379.10,254.49 380.00,252.97 380.90,252.11 381.81,250.57 382.71,249.70 383.62,248.18 384.52,246.80 385.43,244.88 386.35,242.75 387.26,240.95 388.17,239.78 389.09,237.84 389.99,236.17 390.90,235.08 391.80,234.19 392.71,232.55 393.61,231.62 394.53,230.11 395.44,228.74 396.35,227.08 397.27,225.11 398.18,224.04 399.08,222.86 399.99,221.04 400.89,220.37 401.80,219.02 402.70,217.76 403.63,215.82 404.55,214.17 405.48,212.01 406.40,210.57 407.30,209.25 408.21,208.17 409.11,207.24 410.01,206.11 410.83,204.75 411.65,204.04 412.47,202.39 413.30,201.21 414.12,200.02 414.94,198.90 415.76,197.64 416.58,196.61 417.45,195.40 418.32,194.86 419.19,193.34 420.06,192.70 420.93,191.42 421.80,190.61 422.67,189.59 423.54,188.66 424.41,187.22 425.24,187.01 426.07,186.33 426.90,185.32 427.73,184.60 428.56,183.94 429.39,183.44 430.22,182.66 431.05,181.63 431.88,181.32 432.71,180.27 433.54,179.54 434.46,179.21 435.37,179.03 436.29,177.94 437.20,177.85 438.11,177.39 439.03,177.05 439.94,176.72 440.85,176.13 441.77,175.58 442.68,175.34 443.55,174.99 444.42,174.62 445.29,174.62 446.16,174.57 447.03,174.18 447.90,174.05 448.77,173.90 449.64,174.10 450.51,174.15 451.38,173.46 452.25,173.46 453.12,173.39 453.99,173.06 454.86,173.10 455.73,172.98 456.60,172.33" fill="none" stroke="#c94a40" stroke-width="1.0" stroke-linejoin="round"/>
</g>
<rect x="256.50" y="164.80" width="199.90" height="144.60" fill="none" stroke="#858585" stroke-width="0.8"/>
<line x1="254.70" y1="303.40" x2="256.50" y2="303.40" stroke="#858585" stroke-width="0.8"/>
<text x="252.60" y="303.90" class="tk" text-anchor="end" dominant-baseline="central">0</text>
<line x1="254.70" y1="282.85" x2="256.50" y2="282.85" stroke="#858585" stroke-width="0.8"/>
<text x="252.60" y="283.35" class="tk" text-anchor="end" dominant-baseline="central">5</text>
<line x1="254.70" y1="262.30" x2="256.50" y2="262.30" stroke="#858585" stroke-width="0.8"/>
<text x="252.60" y="262.80" class="tk" text-anchor="end" dominant-baseline="central">10</text>
<line x1="254.70" y1="241.75" x2="256.50" y2="241.75" stroke="#858585" stroke-width="0.8"/>
<text x="252.60" y="242.25" class="tk" text-anchor="end" dominant-baseline="central">15</text>
<line x1="254.70" y1="221.20" x2="256.50" y2="221.20" stroke="#858585" stroke-width="0.8"/>
<text x="252.60" y="221.70" class="tk" text-anchor="end" dominant-baseline="central">20</text>
<line x1="254.70" y1="200.65" x2="256.50" y2="200.65" stroke="#858585" stroke-width="0.8"/>
<text x="252.60" y="201.15" class="tk" text-anchor="end" dominant-baseline="central">25</text>
<line x1="254.70" y1="180.10" x2="256.50" y2="180.10" stroke="#858585" stroke-width="0.8"/>
<text x="252.60" y="180.60" class="tk" text-anchor="end" dominant-baseline="central">30</text>
<line x1="256.50" y1="309.40" x2="256.50" y2="311.20" stroke="#858585" stroke-width="0.8"/>
<text x="256.50" y="315.70" class="tk" text-anchor="middle" dominant-baseline="central">0</text>
<line x1="300.00" y1="309.40" x2="300.00" y2="311.20" stroke="#858585" stroke-width="0.8"/>
<text x="300.00" y="315.70" class="tk" text-anchor="middle" dominant-baseline="central">1</text>
<line x1="343.50" y1="309.40" x2="343.50" y2="311.20" stroke="#858585" stroke-width="0.8"/>
<text x="343.50" y="315.70" class="tk" text-anchor="middle" dominant-baseline="central">2</text>
<line x1="387.00" y1="309.40" x2="387.00" y2="311.20" stroke="#858585" stroke-width="0.8"/>
<text x="387.00" y="315.70" class="tk" text-anchor="middle" dominant-baseline="central">3</text>
<line x1="430.50" y1="309.40" x2="430.50" y2="311.20" stroke="#858585" stroke-width="0.8"/>
<text x="430.50" y="315.70" class="tk" text-anchor="middle" dominant-baseline="central">4</text>
<text x="356.45" y="324.60" class="lab" text-anchor="middle" dominant-baseline="central">distance (nm)</text>
<text transform="translate(238.00,237.10) rotate(-90)" class="lab" text-anchor="middle" dominant-baseline="central"><tspan font-style="italic">ρ</tspan> (molecules · nm<tspan dy="-2" font-size="3.8">−3</tspan><tspan dy="2">)</tspan></text>
<rect x="258.10" y="166.90" width="68.90" height="16.80" rx="1.2" fill="#fff" fill-opacity="0.85" stroke="#d8d8d8" stroke-width="0.6"/>
<line x1="260.10" y1="171.90" x2="271.10" y2="171.90" stroke="#5075d6" stroke-width="0.9"/>
<text x="274.40" y="172.10" class="lg" dominant-baseline="central">Open, MgCl<tspan dy="1.0" font-size="3.9">2</tspan><tspan dy="-1.0"> 0.07 M</tspan></text>
<line x1="260.10" y1="179.70" x2="271.10" y2="179.70" stroke="#c94a40" stroke-width="0.9"/>
<text x="274.40" y="179.90" class="lg" dominant-baseline="central">Open, MgCl<tspan dy="1.0" font-size="3.9">2</tspan><tspan dy="-1.0"> 1.17 M</tspan></text>
<defs><clipPath id="cd"><rect x="26.50" y="359.70" width="198.70" height="144.60"/></clipPath></defs>
<g clip-path="url(#cd)">
<polyline points="26.50,498.10 27.36,498.10 28.22,498.10 29.09,498.10 29.95,498.10 30.81,498.10 31.67,498.10 32.53,498.10 33.40,498.10 34.26,498.10 35.12,498.10 35.98,498.10 36.84,498.10 37.71,498.10 38.57,498.10 39.43,498.10 40.29,498.10 41.15,498.10 42.02,498.10 42.88,498.10 43.74,498.10 44.60,498.10 45.46,498.10 46.33,498.10 47.19,498.10 48.05,498.10 48.91,498.10 49.77,498.10 50.64,498.10 51.50,498.10 52.36,498.10 53.22,498.10 54.08,498.10 54.95,498.10 55.81,498.10 56.67,497.48 57.53,498.10 58.39,498.09 59.26,498.08 60.12,498.07 60.98,498.06 61.84,498.05 62.70,498.04 63.57,498.03 64.43,498.02 65.29,498.01 66.15,498.00 67.01,497.99 67.88,497.98 68.74,497.97 69.60,497.96 70.46,497.95 71.32,497.94 72.19,497.93 73.05,497.91 73.91,497.90 74.77,497.89 75.63,497.88 76.50,497.87 77.36,497.86 78.22,497.85 79.08,497.84 79.94,497.83 80.81,497.77 81.67,497.72 82.53,497.62 83.39,497.57 84.25,497.52 85.12,497.40 85.98,497.23 86.84,497.29 87.70,497.12 88.56,496.97 89.43,497.28 90.29,497.16 91.15,496.91 92.01,497.26 92.87,496.99 93.74,496.67 94.60,496.66 95.46,496.70 96.32,497.15 97.18,496.22 98.05,496.56 98.91,496.47 99.77,496.48 100.63,496.91 101.49,496.80 102.36,496.78 103.22,496.13 104.08,496.74 104.94,496.63 105.80,496.65 106.67,496.50 107.53,496.53 108.39,496.60 109.25,496.95 110.11,497.37 110.98,496.69 111.84,496.69 112.70,496.51 113.56,496.76 114.42,496.85 115.29,496.61 116.15,497.01 117.01,496.88 117.87,496.85 118.73,496.55 119.60,496.14 120.46,496.40 121.32,496.30 122.18,496.47 123.04,496.44 123.94,496.57 124.84,496.51 125.74,496.95 126.64,496.66 127.53,496.66 128.43,496.18 129.33,496.20 130.23,496.07 131.13,495.96 132.02,496.34 132.92,496.03 133.82,495.81 134.72,496.03 135.61,495.60 136.51,495.66 137.41,495.77 138.31,495.20 139.21,495.20 140.10,494.80 141.00,494.72 141.90,494.36 142.80,494.68 143.70,493.58 144.59,493.53 145.46,493.85 146.32,493.93 147.18,493.69 148.04,493.50 148.90,493.51 149.77,493.47 150.57,493.86 151.37,493.57 152.17,492.93 152.97,493.05 153.77,493.31 154.57,493.06 155.37,493.06 156.23,492.87 157.09,492.29 157.95,492.48 158.82,492.09 159.68,492.18 160.49,492.45 161.30,492.16 162.10,491.42 162.91,491.99 163.72,491.95 164.53,491.35 165.34,491.50 166.14,491.42 167.11,490.97 168.08,491.53 169.05,490.93 170.02,491.11 170.92,491.04 171.83,490.77 172.73,490.20 173.63,490.33 174.53,490.56 175.43,490.25 176.33,489.53 177.23,489.49 178.13,489.81 179.03,488.90 179.94,489.36 180.80,489.47 181.66,489.18 182.52,488.88 183.38,488.66 184.25,488.72 185.11,488.97 185.97,488.94 186.83,489.06 187.69,488.70 188.56,488.74 189.42,488.49 190.28,488.76 191.14,488.59 192.00,488.67 192.87,488.74 193.73,488.74 194.59,488.70 195.45,488.74 196.31,488.35 197.18,488.46 198.04,488.77 198.90,488.37 199.76,488.42 200.62,488.16 201.53,488.40 202.43,488.28 203.33,488.27 204.23,487.97 205.13,487.76 206.03,487.71 206.93,487.68 207.83,487.38 208.73,487.37 209.64,487.21 210.54,487.35 211.36,487.21 212.19,487.58 213.02,487.66 213.84,487.55 214.67,487.24 215.49,487.59 216.32,487.92 217.15,488.07 217.97,487.93 218.80,487.95 219.62,488.10 220.45,488.52" fill="none" stroke="#5075d6" stroke-width="1.0" stroke-linejoin="round"/>
<polyline points="26.50,498.10 27.57,498.09 28.64,498.09 29.71,498.08 30.78,498.08 31.84,498.07 32.91,498.07 33.98,498.06 35.05,498.06 36.12,498.05 37.19,498.05 38.26,498.04 39.33,498.04 40.40,498.03 41.46,498.03 42.53,498.02 43.60,498.01 44.67,498.01 45.74,498.00 46.81,498.00 47.88,497.99 48.95,497.99 50.02,497.98 51.08,497.98 52.15,497.97 53.22,497.97 54.29,497.96 55.36,497.96 56.43,497.95 57.50,497.94 58.57,497.94 59.64,497.93 60.70,497.93 61.77,497.92 62.84,497.92 63.91,497.91 64.98,497.91 66.05,497.90 67.12,497.90 68.19,497.89 69.26,497.89 70.32,497.88 71.39,497.88 72.46,497.87 73.53,497.86 74.60,497.86 75.67,497.85 76.74,497.85 77.81,497.84 78.88,497.84 79.94,497.83 81.02,497.74 82.10,497.65 83.18,497.57 84.25,497.48 85.33,497.39 86.41,497.30 87.44,497.14 88.48,496.98 89.51,496.82 90.55,496.66 91.58,496.50 92.73,495.24 93.88,494.09 95.03,493.56 96.11,487.54 97.18,487.01 98.26,483.76 99.34,480.69 100.63,478.12 101.49,478.89 102.36,480.96 103.43,486.35 104.51,490.25 105.59,493.44 106.67,496.28 107.79,496.44 108.91,496.66 110.03,496.87 111.15,497.08 112.27,497.30 113.39,497.14 114.51,496.98 115.63,496.82 116.75,496.66 117.87,496.50 118.88,495.39 119.88,493.11 120.89,492.03 121.97,491.19 123.04,491.17 124.12,491.72 125.20,492.48 126.28,489.94 127.35,489.44 128.43,488.82 129.51,487.46 130.59,486.14 131.66,486.34 132.74,483.84 133.82,485.47 134.97,480.62 136.12,479.60 137.27,476.69 138.34,477.26 139.42,479.87 140.43,477.57 141.43,474.80 142.44,475.17 143.59,473.08 144.74,472.39 145.89,469.67 146.89,468.92 147.90,469.06 148.90,468.63 149.98,467.35 151.06,461.90 152.03,462.10 153.00,461.17 153.97,459.78 154.94,459.01 156.23,454.07 157.52,450.92 158.60,450.27 159.68,444.15 160.97,442.40 162.27,439.65 163.56,435.98 164.71,431.62 165.86,430.41 167.01,426.78 167.87,429.12 168.95,426.51 170.02,417.60 171.32,418.76 172.61,418.76 173.90,410.06 175.19,406.68 176.49,408.08 177.64,407.08 178.79,405.06 179.94,406.48 180.94,404.52 181.95,402.01 182.95,400.00 184.25,391.14 185.11,396.16 186.08,394.96 187.05,395.68 188.02,394.64 188.99,393.67 190.28,391.55 191.57,387.85 192.87,387.58 194.16,390.22 195.45,385.06 196.75,384.33 198.04,381.72 199.33,376.43 200.62,375.86 201.92,375.48 203.21,376.56 204.50,375.86 205.80,377.20 207.09,373.18 208.17,373.49 209.24,372.08 210.54,370.79 211.83,364.94 212.69,366.54 213.55,369.39 214.63,369.64 215.71,367.47 217.00,370.97 218.15,369.03 219.30,366.02 220.45,364.85" fill="none" stroke="#c94a40" stroke-width="1.0" stroke-linejoin="round"/>
</g>
<rect x="26.50" y="359.70" width="198.70" height="144.60" fill="none" stroke="#858585" stroke-width="0.8"/>
<line x1="24.70" y1="498.10" x2="26.50" y2="498.10" stroke="#858585" stroke-width="0.8"/>
<text x="23.40" y="498.60" class="tk" text-anchor="end" dominant-baseline="central">0.0</text>
<line x1="24.70" y1="471.38" x2="26.50" y2="471.38" stroke="#858585" stroke-width="0.8"/>
<text x="23.40" y="471.88" class="tk" text-anchor="end" dominant-baseline="central">0.5</text>
<line x1="24.70" y1="444.65" x2="26.50" y2="444.65" stroke="#858585" stroke-width="0.8"/>
<text x="23.40" y="445.15" class="tk" text-anchor="end" dominant-baseline="central">1.0</text>
<line x1="24.70" y1="417.93" x2="26.50" y2="417.93" stroke="#858585" stroke-width="0.8"/>
<text x="23.40" y="418.43" class="tk" text-anchor="end" dominant-baseline="central">1.5</text>
<line x1="24.70" y1="391.20" x2="26.50" y2="391.20" stroke="#858585" stroke-width="0.8"/>
<text x="23.40" y="391.70" class="tk" text-anchor="end" dominant-baseline="central">2.0</text>
<line x1="24.70" y1="364.48" x2="26.50" y2="364.48" stroke="#858585" stroke-width="0.8"/>
<text x="23.40" y="364.98" class="tk" text-anchor="end" dominant-baseline="central">2.5</text>
<line x1="26.50" y1="504.30" x2="26.50" y2="506.10" stroke="#858585" stroke-width="0.8"/>
<text x="26.50" y="510.60" class="tk" text-anchor="middle" dominant-baseline="central">0</text>
<line x1="69.60" y1="504.30" x2="69.60" y2="506.10" stroke="#858585" stroke-width="0.8"/>
<text x="69.60" y="510.60" class="tk" text-anchor="middle" dominant-baseline="central">1</text>
<line x1="112.70" y1="504.30" x2="112.70" y2="506.10" stroke="#858585" stroke-width="0.8"/>
<text x="112.70" y="510.60" class="tk" text-anchor="middle" dominant-baseline="central">2</text>
<line x1="155.80" y1="504.30" x2="155.80" y2="506.10" stroke="#858585" stroke-width="0.8"/>
<text x="155.80" y="510.60" class="tk" text-anchor="middle" dominant-baseline="central">3</text>
<line x1="198.90" y1="504.30" x2="198.90" y2="506.10" stroke="#858585" stroke-width="0.8"/>
<text x="198.90" y="510.60" class="tk" text-anchor="middle" dominant-baseline="central">4</text>
<text x="125.85" y="519.50" class="lab" text-anchor="middle" dominant-baseline="central">distance (nm)</text>
<text transform="translate(7.30,432.00) rotate(-90)" class="lab" text-anchor="middle" dominant-baseline="central"><tspan font-style="italic">ρ</tspan> (atoms · nm<tspan dy="-2" font-size="3.8">−3</tspan><tspan dy="2">)</tspan></text>
<rect x="28.60" y="361.60" width="62.90" height="17.20" rx="1.2" fill="#fff" fill-opacity="0.85" stroke="#d8d8d8" stroke-width="0.6"/>
<line x1="30.60" y1="366.60" x2="41.60" y2="366.60" stroke="#5075d6" stroke-width="0.9"/>
<text x="44.90" y="366.80" class="lg" dominant-baseline="central">Open, NaCl 0.2 M</text>
<line x1="30.60" y1="374.40" x2="41.60" y2="374.40" stroke="#c94a40" stroke-width="0.9"/>
<text x="44.90" y="374.60" class="lg" dominant-baseline="central">Open, NaCl 3.5 M</text>
<defs><clipPath id="ce"><rect x="258.30" y="359.70" width="198.30" height="144.70"/></clipPath></defs>
<g clip-path="url(#ce)">
<polyline points="258.30,498.00 259.17,498.00 260.03,498.00 260.90,498.00 261.77,498.00 262.63,498.00 263.50,498.00 264.37,498.00 265.23,498.00 266.10,498.00 266.97,498.00 267.83,498.00 268.70,498.00 269.57,498.00 270.44,498.00 271.30,498.00 272.17,498.00 273.04,498.00 273.90,498.00 274.77,498.00 275.64,498.00 276.50,498.00 277.37,498.00 278.24,498.00 279.10,498.00 279.97,498.00 280.84,498.00 281.70,498.00 282.57,498.00 283.44,498.00 284.30,498.00 285.17,498.00 286.04,498.00 286.90,498.00 287.77,498.00 288.64,498.00 289.50,498.00 290.37,498.00 291.24,498.00 292.10,498.00 292.97,498.00 293.84,498.00 294.71,498.00 295.57,498.00 296.44,498.00 297.31,498.00 298.17,498.00 299.04,498.00 299.91,498.00 300.77,498.00 301.64,498.00 302.51,498.00 303.37,498.00 304.24,498.00 305.11,498.00 305.97,498.00 306.84,498.00 307.71,498.00 308.57,498.00 309.44,498.00 310.31,498.00 311.17,498.00 312.04,498.00 312.91,498.00 313.77,498.00 314.64,498.00 315.51,498.00 316.37,498.00 317.24,498.00 318.11,498.00 318.98,498.00 319.84,498.00 320.71,498.00 321.58,498.00 322.44,498.00 323.31,498.00 324.18,498.00 325.04,498.00 325.91,498.00 326.78,498.00 327.64,498.00 328.51,498.00 329.38,498.00 330.24,498.00 331.11,498.00 331.98,498.00 332.84,498.00 333.71,498.00 334.58,498.00 335.44,498.00 336.31,498.00 337.28,497.61 338.25,497.23 339.22,496.90 340.19,496.47 340.97,496.18 341.74,496.32 342.52,495.72 343.29,495.73 344.07,495.71 344.84,495.90 345.62,496.15 346.40,496.50 347.17,496.74 347.95,497.07 348.92,497.07 349.89,497.07 350.86,497.07 351.83,497.07 352.69,497.16 353.55,497.24 354.41,497.33 355.28,497.41 356.14,497.50 357.00,497.59 357.86,497.67 358.72,497.76 359.59,497.85 360.45,497.76 361.31,497.67 362.17,497.59 363.03,497.50 363.89,497.41 364.76,497.33 365.62,497.24 366.48,497.16 367.34,497.07 368.21,495.16 369.07,493.64 369.93,491.68 370.79,492.42 371.65,493.56 372.51,494.14 373.29,494.48 374.07,494.29 374.84,495.09 375.62,495.53 376.39,495.75 377.26,495.15 378.12,494.28 378.98,494.25 379.84,493.39 380.70,492.19 381.48,494.24 382.26,493.57 383.03,492.93 383.81,492.86 384.58,492.93 385.45,491.95 386.31,490.16 387.17,489.04 388.03,489.88 388.89,488.97 389.75,490.40 390.53,490.54 391.31,490.05 392.08,489.83 392.86,489.48 393.63,490.44 394.60,488.74 395.57,487.39 396.54,487.74 397.51,486.57 398.38,485.32 399.24,484.59 400.10,483.52 400.96,485.42 401.82,485.20 402.69,485.61 403.55,483.36 404.41,481.33 405.27,481.28 406.56,481.54 407.43,481.71 408.29,479.71 409.15,481.23 410.01,480.96 410.87,480.99 411.74,482.11 412.60,481.72 413.46,481.21 414.54,482.60 415.62,483.79 416.48,481.64 417.34,480.47 418.20,479.70 419.06,478.55 419.93,480.62 420.79,479.92 421.65,478.71 422.51,476.77 423.37,474.75 424.24,475.28 425.10,475.40 425.96,478.37 426.82,480.32 427.68,481.29 428.55,478.78 429.41,478.65 430.27,478.70 431.13,477.27 431.99,477.36 433.29,478.26 434.00,481.29 434.72,482.77 435.44,485.21 436.30,480.61 437.38,481.46 438.46,483.85 439.21,483.57 439.97,484.68 440.72,486.08 441.48,487.76 442.44,485.11 443.41,484.72 444.38,483.87 445.35,482.32 446.22,483.04 447.08,483.26 447.94,485.15 448.91,484.03 449.88,483.76 450.85,483.66 451.82,484.30" fill="none" stroke="#5075d6" stroke-width="1.0" stroke-linejoin="round"/>
<polyline points="258.30,498.00 259.38,498.00 260.45,498.00 261.53,498.00 262.61,498.00 263.69,498.00 264.76,498.00 265.84,498.00 266.92,498.00 268.00,498.00 269.07,498.00 270.15,498.00 271.23,498.00 272.31,498.00 273.38,498.00 274.46,498.00 275.54,498.00 276.62,498.00 277.69,498.00 278.77,498.00 279.85,498.00 280.93,498.00 282.00,498.00 283.08,498.00 284.16,498.00 285.24,498.00 286.31,498.00 287.39,498.00 288.47,498.00 289.55,498.00 290.62,498.00 291.70,498.00 292.78,498.00 293.86,498.00 294.94,498.00 296.01,498.00 297.09,498.00 298.17,498.00 299.25,498.00 300.32,498.00 301.40,498.00 302.48,498.00 303.56,498.00 304.63,498.00 305.71,498.00 306.79,498.00 307.87,498.00 308.94,498.00 310.02,498.00 311.10,498.00 312.18,498.00 313.25,498.00 314.33,498.00 315.62,496.22 316.92,494.44 318.21,492.46 319.50,490.83 320.80,489.32 322.09,487.09 322.95,490.02 323.81,492.67 324.89,490.89 325.97,489.12 327.26,493.02 328.34,489.53 329.42,486.50 330.28,489.21 331.14,491.67 332.00,490.25 332.86,487.36 333.94,491.10 335.02,494.44 336.31,493.51 337.60,492.56 338.47,494.13 339.33,495.68 340.41,494.36 341.48,493.00 342.78,495.06 344.07,497.07 345.04,496.72 346.01,496.37 346.98,496.03 347.95,495.68 348.92,495.87 349.89,496.06 350.86,496.26 351.83,496.45 352.80,496.14 353.77,495.83 354.74,495.52 355.71,495.21 356.68,495.02 357.65,494.82 358.62,494.63 359.59,494.44 360.55,494.09 361.52,493.74 362.49,493.39 363.46,493.04 364.76,491.74 366.05,490.55 367.34,488.36 368.64,484.75 369.93,482.08 371.22,479.88 372.19,477.73 373.16,476.88 374.13,475.45 375.10,475.65 376.39,472.76 377.69,471.27 378.76,470.24 379.84,473.98 380.92,467.40 382.00,464.64 382.86,459.23 383.72,453.85 384.80,454.03 385.88,450.11 387.17,448.18 388.46,444.68 389.75,453.79 391.05,442.43 392.34,439.36 393.63,437.38 394.93,437.20 396.22,434.46 397.30,437.81 398.38,436.54 399.67,433.01 400.96,429.51 401.82,431.00 402.69,431.29 403.55,423.44 404.41,414.32 405.27,424.83 406.13,417.57 407.00,411.56 408.29,406.98 409.15,401.39 410.23,402.21 411.31,403.76 412.17,399.65 413.03,395.69 414.32,402.80 415.62,398.81 416.48,403.66 417.34,405.76 418.20,404.54 419.06,401.77 420.36,402.24 421.65,405.59 422.94,406.85 424.24,402.89 425.24,402.15 426.25,398.13 427.25,398.58 428.55,393.47 429.84,397.31 430.70,394.82 431.56,393.19 432.86,392.05 434.15,384.37 435.01,384.07 435.87,378.58 436.73,381.95 437.60,386.13 438.46,384.56 439.32,382.01 440.40,378.28 441.48,378.19 442.34,372.07 443.20,372.82 444.06,373.90 444.92,366.77 445.78,365.72 446.65,367.68 447.51,367.69 448.37,366.39 449.23,367.78 450.09,369.61 450.96,365.42 451.82,368.28 452.68,367.00" fill="none" stroke="#c94a40" stroke-width="1.0" stroke-linejoin="round"/>
</g>
<rect x="258.30" y="359.70" width="198.30" height="144.70" fill="none" stroke="#858585" stroke-width="0.8"/>
<line x1="256.50" y1="498.00" x2="258.30" y2="498.00" stroke="#858585" stroke-width="0.8"/>
<text x="254.70" y="498.50" class="tk" text-anchor="end" dominant-baseline="central">0.0</text>
<line x1="256.50" y1="467.02" x2="258.30" y2="467.02" stroke="#858585" stroke-width="0.8"/>
<text x="254.70" y="467.52" class="tk" text-anchor="end" dominant-baseline="central">0.2</text>
<line x1="256.50" y1="436.04" x2="258.30" y2="436.04" stroke="#858585" stroke-width="0.8"/>
<text x="254.70" y="436.54" class="tk" text-anchor="end" dominant-baseline="central">0.4</text>
<line x1="256.50" y1="405.06" x2="258.30" y2="405.06" stroke="#858585" stroke-width="0.8"/>
<text x="254.70" y="405.56" class="tk" text-anchor="end" dominant-baseline="central">0.6</text>
<line x1="256.50" y1="374.08" x2="258.30" y2="374.08" stroke="#858585" stroke-width="0.8"/>
<text x="254.70" y="374.58" class="tk" text-anchor="end" dominant-baseline="central">0.8</text>
<line x1="258.30" y1="504.40" x2="258.30" y2="506.20" stroke="#858585" stroke-width="0.8"/>
<text x="258.30" y="510.70" class="tk" text-anchor="middle" dominant-baseline="central">0</text>
<line x1="301.40" y1="504.40" x2="301.40" y2="506.20" stroke="#858585" stroke-width="0.8"/>
<text x="301.40" y="510.70" class="tk" text-anchor="middle" dominant-baseline="central">1</text>
<line x1="344.50" y1="504.40" x2="344.50" y2="506.20" stroke="#858585" stroke-width="0.8"/>
<text x="344.50" y="510.70" class="tk" text-anchor="middle" dominant-baseline="central">2</text>
<line x1="387.60" y1="504.40" x2="387.60" y2="506.20" stroke="#858585" stroke-width="0.8"/>
<text x="387.60" y="510.70" class="tk" text-anchor="middle" dominant-baseline="central">3</text>
<line x1="430.70" y1="504.40" x2="430.70" y2="506.20" stroke="#858585" stroke-width="0.8"/>
<text x="430.70" y="510.70" class="tk" text-anchor="middle" dominant-baseline="central">4</text>
<text x="357.45" y="519.50" class="lab" text-anchor="middle" dominant-baseline="central">distance (nm)</text>
<text transform="translate(238.40,432.05) rotate(-90)" class="lab" text-anchor="middle" dominant-baseline="central"><tspan font-style="italic">ρ</tspan> (atoms · nm<tspan dy="-2" font-size="3.8">−3</tspan><tspan dy="2">)</tspan></text>
<rect x="260.10" y="362.30" width="68.90" height="17.20" rx="1.2" fill="#fff" fill-opacity="0.85" stroke="#d8d8d8" stroke-width="0.6"/>
<line x1="262.10" y1="367.30" x2="273.10" y2="367.30" stroke="#5075d6" stroke-width="0.9"/>
<text x="276.40" y="367.50" class="lg" dominant-baseline="central">Open, MgCl<tspan dy="1.0" font-size="3.9">2</tspan><tspan dy="-1.0"> 0.07 M</tspan></text>
<line x1="262.10" y1="375.10" x2="273.10" y2="375.10" stroke="#c94a40" stroke-width="0.9"/>
<text x="276.40" y="375.30" class="lg" dominant-baseline="central">Open, MgCl<tspan dy="1.0" font-size="3.9">2</tspan><tspan dy="-1.0"> 1.17 M</tspan></text>
<text x="228.6" y="154.4" class="cap" text-anchor="middle" style="font-size:10.2px">(<tspan font-weight="bold">a</tspan>)</text>
<text x="93.3" y="349.6" class="cap">(<tspan font-weight="bold">b</tspan>) NaCl</text>
<text x="322.5" y="349.6" class="cap">(<tspan font-weight="bold">c</tspan>) MgCl<tspan dy="2.2" font-size="8">2</tspan></text>
<text x="93.3" y="543.6" class="cap">(<tspan font-weight="bold">d</tspan>) NaCl</text>
<text x="322.5" y="543.6" class="cap">(<tspan font-weight="bold">e</tspan>) MgCl<tspan dy="2.2" font-size="8">2</tspan></text>
</svg></body></html>
